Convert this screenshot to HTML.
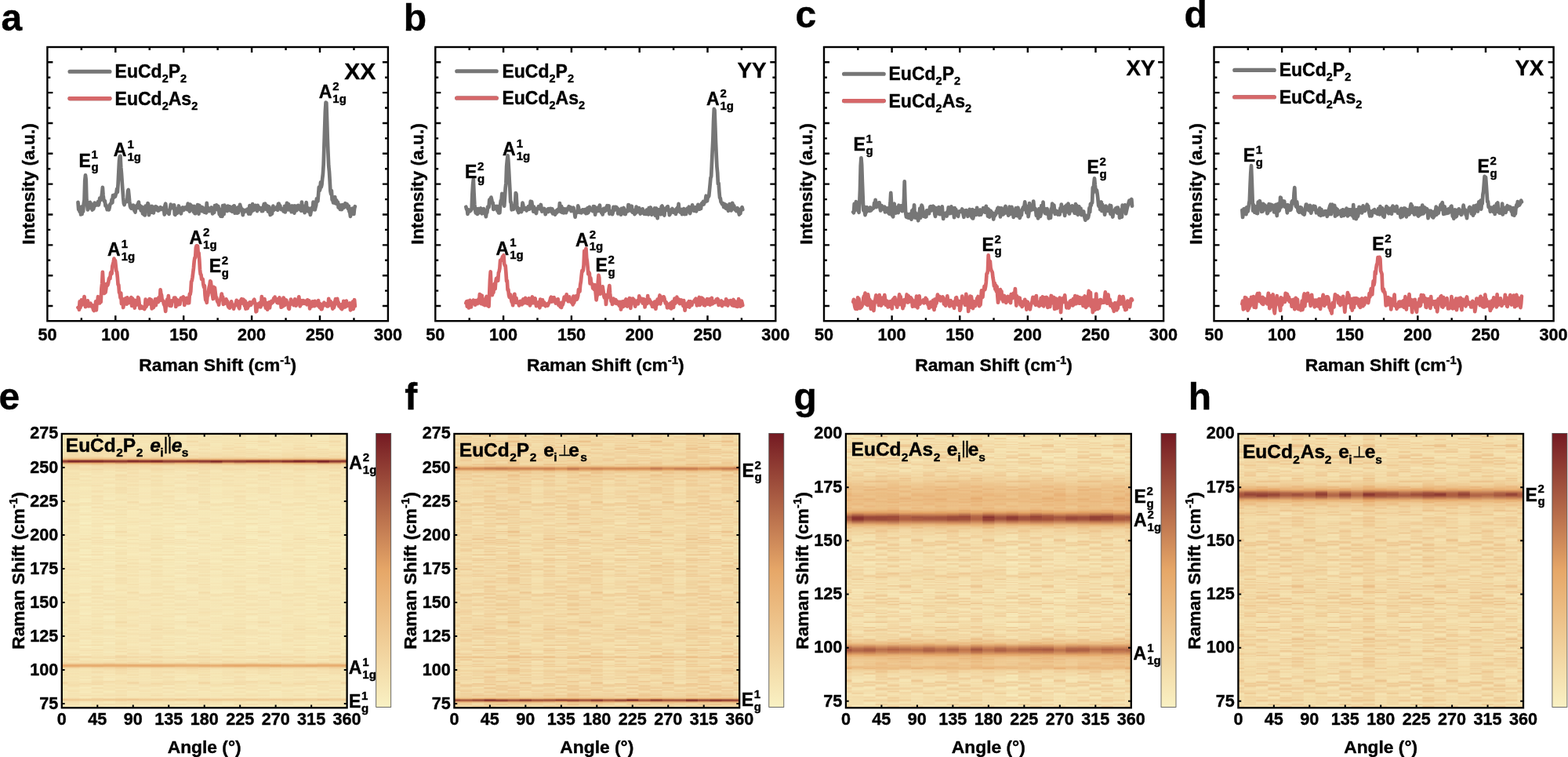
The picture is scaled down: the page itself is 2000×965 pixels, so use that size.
<!DOCTYPE html>
<html><head><meta charset="utf-8"><title>Raman spectra</title>
<style>
html,body{margin:0;padding:0;background:#fff;overflow:hidden;}
svg{display:block;}
text{font-family:'Liberation Sans', Arial, Helvetica, sans-serif;font-weight:bold;fill:#000;stroke:#000;stroke-width:0.4px;stroke-linejoin:round;}
</style></head><body>
<svg width="2000" height="965" viewBox="0 0 2000 965">
<defs>
<linearGradient id="cb" x1="0" y1="0" x2="0" y2="1"><stop offset="0" stop-color="#741a22"/><stop offset="0.5" stop-color="#e6a768"/><stop offset="1" stop-color="#f9f1c3"/></linearGradient>
<pattern id="nz" width="90.9" height="128" patternUnits="userSpaceOnUse"><path d="M30.3,0h15.15v1h-15.15zM30.3,2h15.15v1h-15.15zM75.75,2h15.15v1h-15.15zM0,3h15.15v1h-15.15zM15.15,3h15.15v1h-15.15zM30.3,3h15.15v1h-15.15zM45.45,3h15.15v1h-15.15zM75.75,3h15.15v1h-15.15zM45.45,4h15.15v1h-15.15zM45.45,5h15.15v1h-15.15zM60.6,6h15.15v1h-15.15zM0,7h15.15v1h-15.15zM45.45,7h15.15v1h-15.15zM60.6,7h15.15v1h-15.15zM60.6,8h15.15v1h-15.15zM75.75,8h15.15v1h-15.15zM45.45,9h15.15v1h-15.15zM30.3,10h15.15v1h-15.15zM15.15,11h15.15v1h-15.15zM45.45,11h15.15v1h-15.15zM60.6,11h15.15v1h-15.15zM0,12h15.15v1h-15.15zM45.45,12h15.15v1h-15.15zM60.6,12h15.15v1h-15.15zM30.3,14h15.15v1h-15.15zM15.15,15h15.15v1h-15.15zM30.3,15h15.15v1h-15.15zM60.6,15h15.15v1h-15.15zM15.15,16h15.15v1h-15.15zM45.45,16h15.15v1h-15.15zM60.6,16h15.15v1h-15.15zM30.3,17h15.15v1h-15.15zM45.45,17h15.15v1h-15.15zM0,18h15.15v1h-15.15zM30.3,18h15.15v1h-15.15zM15.15,19h15.15v1h-15.15zM60.6,19h15.15v1h-15.15zM75.75,22h15.15v1h-15.15zM15.15,23h15.15v1h-15.15zM75.75,23h15.15v1h-15.15zM15.15,24h15.15v1h-15.15zM30.3,24h15.15v1h-15.15zM60.6,25h15.15v1h-15.15zM0,26h15.15v1h-15.15zM15.15,27h15.15v1h-15.15zM30.3,27h15.15v1h-15.15zM75.75,27h15.15v1h-15.15zM60.6,28h15.15v1h-15.15zM75.75,28h15.15v1h-15.15zM30.3,29h15.15v1h-15.15zM0,30h15.15v1h-15.15zM30.3,31h15.15v1h-15.15zM0,32h15.15v1h-15.15zM0,33h15.15v1h-15.15zM15.15,33h15.15v1h-15.15zM30.3,33h15.15v1h-15.15zM45.45,34h15.15v1h-15.15zM30.3,36h15.15v1h-15.15zM75.75,36h15.15v1h-15.15zM0,37h15.15v1h-15.15zM45.45,37h15.15v1h-15.15zM30.3,38h15.15v1h-15.15zM0,40h15.15v1h-15.15zM15.15,40h15.15v1h-15.15zM45.45,40h15.15v1h-15.15zM30.3,41h15.15v1h-15.15zM45.45,41h15.15v1h-15.15zM75.75,41h15.15v1h-15.15zM15.15,42h15.15v1h-15.15zM30.3,42h15.15v1h-15.15zM15.15,43h15.15v1h-15.15zM75.75,43h15.15v1h-15.15zM0,44h15.15v1h-15.15zM60.6,44h15.15v1h-15.15zM75.75,44h15.15v1h-15.15zM0,45h15.15v1h-15.15zM75.75,45h15.15v1h-15.15zM0,47h15.15v1h-15.15zM45.45,47h15.15v1h-15.15zM0,48h15.15v1h-15.15zM0,49h15.15v1h-15.15zM15.15,49h15.15v1h-15.15zM0,53h15.15v1h-15.15zM75.75,53h15.15v1h-15.15zM15.15,55h15.15v1h-15.15zM45.45,55h15.15v1h-15.15zM60.6,56h15.15v1h-15.15zM75.75,56h15.15v1h-15.15zM15.15,57h15.15v1h-15.15zM45.45,57h15.15v1h-15.15zM0,58h15.15v1h-15.15zM30.3,58h15.15v1h-15.15zM45.45,58h15.15v1h-15.15zM15.15,60h15.15v1h-15.15zM60.6,60h15.15v1h-15.15zM0,62h15.15v1h-15.15zM15.15,62h15.15v1h-15.15zM45.45,62h15.15v1h-15.15zM30.3,63h15.15v1h-15.15zM45.45,63h15.15v1h-15.15zM30.3,64h15.15v1h-15.15zM45.45,64h15.15v1h-15.15zM15.15,65h15.15v1h-15.15zM45.45,66h15.15v1h-15.15zM75.75,66h15.15v1h-15.15zM30.3,67h15.15v1h-15.15zM45.45,67h15.15v1h-15.15zM75.75,67h15.15v1h-15.15zM0,69h15.15v1h-15.15zM30.3,69h15.15v1h-15.15zM0,70h15.15v1h-15.15zM15.15,70h15.15v1h-15.15zM45.45,70h15.15v1h-15.15zM15.15,71h15.15v1h-15.15zM45.45,72h15.15v1h-15.15zM0,73h15.15v1h-15.15zM0,76h15.15v1h-15.15zM15.15,76h15.15v1h-15.15zM30.3,76h15.15v1h-15.15zM30.3,77h15.15v1h-15.15zM45.45,77h15.15v1h-15.15zM75.75,78h15.15v1h-15.15zM15.15,79h15.15v1h-15.15zM45.45,79h15.15v1h-15.15zM30.3,80h15.15v1h-15.15zM15.15,81h15.15v1h-15.15zM0,82h15.15v1h-15.15zM30.3,82h15.15v1h-15.15zM45.45,83h15.15v1h-15.15zM45.45,84h15.15v1h-15.15zM60.6,85h15.15v1h-15.15zM75.75,85h15.15v1h-15.15zM0,86h15.15v1h-15.15zM15.15,86h15.15v1h-15.15zM30.3,86h15.15v1h-15.15zM75.75,86h15.15v1h-15.15zM15.15,87h15.15v1h-15.15zM30.3,88h15.15v1h-15.15zM75.75,88h15.15v1h-15.15zM15.15,89h15.15v1h-15.15zM30.3,89h15.15v1h-15.15zM0,90h15.15v1h-15.15zM15.15,90h15.15v1h-15.15zM60.6,91h15.15v1h-15.15zM0,92h15.15v1h-15.15zM15.15,92h15.15v1h-15.15zM0,93h15.15v1h-15.15zM30.3,93h15.15v1h-15.15zM0,94h15.15v1h-15.15zM15.15,94h15.15v1h-15.15zM30.3,94h15.15v1h-15.15zM45.45,94h15.15v1h-15.15zM45.45,96h15.15v1h-15.15zM60.6,96h15.15v1h-15.15zM45.45,97h15.15v1h-15.15zM15.15,98h15.15v1h-15.15zM30.3,99h15.15v1h-15.15zM15.15,100h15.15v1h-15.15zM75.75,101h15.15v1h-15.15zM0,102h15.15v1h-15.15zM15.15,102h15.15v1h-15.15zM45.45,102h15.15v1h-15.15zM60.6,102h15.15v1h-15.15zM75.75,102h15.15v1h-15.15zM15.15,103h15.15v1h-15.15zM30.3,104h15.15v1h-15.15zM0,105h15.15v1h-15.15zM15.15,105h15.15v1h-15.15zM30.3,107h15.15v1h-15.15zM45.45,107h15.15v1h-15.15zM60.6,107h15.15v1h-15.15zM60.6,108h15.15v1h-15.15zM0,110h15.15v1h-15.15zM15.15,110h15.15v1h-15.15zM75.75,110h15.15v1h-15.15zM0,111h15.15v1h-15.15zM60.6,111h15.15v1h-15.15zM0,112h15.15v1h-15.15zM15.15,113h15.15v1h-15.15zM45.45,113h15.15v1h-15.15zM60.6,113h15.15v1h-15.15zM75.75,113h15.15v1h-15.15zM15.15,115h15.15v1h-15.15zM45.45,116h15.15v1h-15.15zM15.15,117h15.15v1h-15.15zM75.75,117h15.15v1h-15.15zM0,118h15.15v1h-15.15zM30.3,118h15.15v1h-15.15zM30.3,119h15.15v1h-15.15zM45.45,119h15.15v1h-15.15zM15.15,120h15.15v1h-15.15zM45.45,121h15.15v1h-15.15zM0,122h15.15v1h-15.15zM30.3,123h15.15v1h-15.15zM60.6,123h15.15v1h-15.15zM75.75,123h15.15v1h-15.15zM60.6,124h15.15v1h-15.15zM15.15,125h15.15v1h-15.15zM75.75,125h15.15v1h-15.15zM45.45,126h15.15v1h-15.15zM0,127h15.15v1h-15.15z" fill="#e0965a" fill-opacity="0.09"/><path d="M0,0h15.15v1h-15.15zM15.15,0h15.15v1h-15.15zM45.45,0h15.15v1h-15.15zM60.6,0h15.15v1h-15.15zM0,1h15.15v1h-15.15zM60.6,1h15.15v1h-15.15zM75.75,4h15.15v1h-15.15zM30.3,5h15.15v1h-15.15zM0,6h15.15v1h-15.15zM15.15,6h15.15v1h-15.15zM15.15,7h15.15v1h-15.15zM75.75,7h15.15v1h-15.15zM0,8h15.15v1h-15.15zM0,9h15.15v1h-15.15zM15.15,10h15.15v1h-15.15zM45.45,10h15.15v1h-15.15zM0,11h15.15v1h-15.15zM30.3,11h15.15v1h-15.15zM30.3,12h15.15v1h-15.15zM75.75,12h15.15v1h-15.15zM0,13h15.15v1h-15.15zM30.3,13h15.15v1h-15.15zM75.75,13h15.15v1h-15.15zM0,15h15.15v1h-15.15zM45.45,15h15.15v1h-15.15zM75.75,17h15.15v1h-15.15zM15.15,18h15.15v1h-15.15zM75.75,19h15.15v1h-15.15zM15.15,20h15.15v1h-15.15zM45.45,20h15.15v1h-15.15zM0,22h15.15v1h-15.15zM45.45,23h15.15v1h-15.15zM45.45,24h15.15v1h-15.15zM75.75,24h15.15v1h-15.15zM0,25h15.15v1h-15.15zM15.15,25h15.15v1h-15.15zM75.75,25h15.15v1h-15.15zM15.15,26h15.15v1h-15.15zM30.3,26h15.15v1h-15.15zM60.6,26h15.15v1h-15.15zM45.45,27h15.15v1h-15.15zM0,28h15.15v1h-15.15zM45.45,28h15.15v1h-15.15zM15.15,29h15.15v1h-15.15zM45.45,29h15.15v1h-15.15zM60.6,29h15.15v1h-15.15zM15.15,30h15.15v1h-15.15zM60.6,30h15.15v1h-15.15zM75.75,30h15.15v1h-15.15zM15.15,31h15.15v1h-15.15zM45.45,32h15.15v1h-15.15zM45.45,33h15.15v1h-15.15zM60.6,33h15.15v1h-15.15zM0,34h15.15v1h-15.15zM15.15,34h15.15v1h-15.15zM75.75,35h15.15v1h-15.15zM0,36h15.15v1h-15.15zM15.15,36h15.15v1h-15.15zM60.6,36h15.15v1h-15.15zM60.6,37h15.15v1h-15.15zM75.75,37h15.15v1h-15.15zM0,39h15.15v1h-15.15zM30.3,39h15.15v1h-15.15zM45.45,39h15.15v1h-15.15zM45.45,42h15.15v1h-15.15zM60.6,42h15.15v1h-15.15zM60.6,43h15.15v1h-15.15zM15.15,45h15.15v1h-15.15zM60.6,45h15.15v1h-15.15zM0,46h15.15v1h-15.15zM60.6,46h15.15v1h-15.15zM15.15,47h15.15v1h-15.15zM60.6,47h15.15v1h-15.15zM15.15,48h15.15v1h-15.15zM60.6,48h15.15v1h-15.15zM45.45,49h15.15v1h-15.15zM75.75,49h15.15v1h-15.15zM15.15,50h15.15v1h-15.15zM45.45,51h15.15v1h-15.15zM75.75,51h15.15v1h-15.15zM0,52h15.15v1h-15.15zM30.3,53h15.15v1h-15.15zM45.45,53h15.15v1h-15.15zM15.15,54h15.15v1h-15.15zM30.3,54h15.15v1h-15.15zM45.45,54h15.15v1h-15.15zM60.6,54h15.15v1h-15.15zM30.3,55h15.15v1h-15.15zM60.6,55h15.15v1h-15.15zM45.45,56h15.15v1h-15.15zM60.6,57h15.15v1h-15.15zM75.75,57h15.15v1h-15.15zM0,59h15.15v1h-15.15zM30.3,60h15.15v1h-15.15zM0,61h15.15v1h-15.15zM15.15,61h15.15v1h-15.15zM60.6,61h15.15v1h-15.15zM0,63h15.15v1h-15.15zM75.75,63h15.15v1h-15.15zM0,64h15.15v1h-15.15zM45.45,65h15.15v1h-15.15zM15.15,68h15.15v1h-15.15zM30.3,68h15.15v1h-15.15zM45.45,69h15.15v1h-15.15zM75.75,69h15.15v1h-15.15zM30.3,70h15.15v1h-15.15zM0,71h15.15v1h-15.15zM45.45,71h15.15v1h-15.15zM75.75,72h15.15v1h-15.15zM75.75,73h15.15v1h-15.15zM0,74h15.15v1h-15.15zM15.15,74h15.15v1h-15.15zM30.3,74h15.15v1h-15.15zM45.45,74h15.15v1h-15.15zM60.6,74h15.15v1h-15.15zM45.45,76h15.15v1h-15.15zM60.6,77h15.15v1h-15.15zM60.6,78h15.15v1h-15.15zM0,79h15.15v1h-15.15zM30.3,79h15.15v1h-15.15zM60.6,79h15.15v1h-15.15zM0,80h15.15v1h-15.15zM60.6,80h15.15v1h-15.15zM75.75,80h15.15v1h-15.15zM0,81h15.15v1h-15.15zM75.75,81h15.15v1h-15.15zM0,83h15.15v1h-15.15zM15.15,83h15.15v1h-15.15zM60.6,83h15.15v1h-15.15zM15.15,84h15.15v1h-15.15zM75.75,84h15.15v1h-15.15zM45.45,86h15.15v1h-15.15zM30.3,87h15.15v1h-15.15zM45.45,87h15.15v1h-15.15zM15.15,88h15.15v1h-15.15zM60.6,88h15.15v1h-15.15zM0,89h15.15v1h-15.15zM60.6,89h15.15v1h-15.15zM45.45,90h15.15v1h-15.15zM75.75,90h15.15v1h-15.15zM0,91h15.15v1h-15.15zM15.15,91h15.15v1h-15.15zM45.45,91h15.15v1h-15.15zM45.45,92h15.15v1h-15.15zM75.75,93h15.15v1h-15.15zM0,95h15.15v1h-15.15zM60.6,97h15.15v1h-15.15zM0,98h15.15v1h-15.15zM75.75,98h15.15v1h-15.15zM0,99h15.15v1h-15.15zM60.6,99h15.15v1h-15.15zM0,100h15.15v1h-15.15zM75.75,100h15.15v1h-15.15zM60.6,103h15.15v1h-15.15zM0,104h15.15v1h-15.15zM30.3,105h15.15v1h-15.15zM45.45,105h15.15v1h-15.15zM15.15,106h15.15v1h-15.15zM30.3,106h15.15v1h-15.15zM0,107h15.15v1h-15.15zM15.15,107h15.15v1h-15.15zM30.3,108h15.15v1h-15.15zM45.45,108h15.15v1h-15.15zM75.75,108h15.15v1h-15.15zM45.45,109h15.15v1h-15.15zM75.75,109h15.15v1h-15.15zM60.6,110h15.15v1h-15.15zM15.15,111h15.15v1h-15.15zM30.3,111h15.15v1h-15.15zM75.75,111h15.15v1h-15.15zM15.15,112h15.15v1h-15.15zM75.75,112h15.15v1h-15.15zM0,114h15.15v1h-15.15zM15.15,114h15.15v1h-15.15zM45.45,115h15.15v1h-15.15zM75.75,115h15.15v1h-15.15zM0,116h15.15v1h-15.15zM15.15,116h15.15v1h-15.15zM60.6,116h15.15v1h-15.15zM15.15,118h15.15v1h-15.15zM60.6,118h15.15v1h-15.15zM0,119h15.15v1h-15.15zM60.6,119h15.15v1h-15.15zM75.75,119h15.15v1h-15.15zM30.3,120h15.15v1h-15.15zM75.75,121h15.15v1h-15.15zM45.45,122h15.15v1h-15.15zM75.75,122h15.15v1h-15.15zM0,123h15.15v1h-15.15zM45.45,123h15.15v1h-15.15zM30.3,124h15.15v1h-15.15zM75.75,124h15.15v1h-15.15zM45.45,125h15.15v1h-15.15zM0,126h15.15v1h-15.15zM15.15,126h15.15v1h-15.15zM15.15,127h15.15v1h-15.15zM75.75,127h15.15v1h-15.15z" fill="#e0965a" fill-opacity="0.17"/><path d="M75.75,1h15.15v1h-15.15zM75.75,5h15.15v1h-15.15zM30.3,7h15.15v1h-15.15zM45.45,8h15.15v1h-15.15zM15.15,9h15.15v1h-15.15zM30.3,9h15.15v1h-15.15zM75.75,9h15.15v1h-15.15zM15.15,12h15.15v1h-15.15zM60.6,13h15.15v1h-15.15zM0,14h15.15v1h-15.15zM75.75,15h15.15v1h-15.15zM75.75,16h15.15v1h-15.15zM45.45,18h15.15v1h-15.15zM30.3,19h15.15v1h-15.15zM30.3,20h15.15v1h-15.15zM0,21h15.15v1h-15.15zM60.6,21h15.15v1h-15.15zM15.15,22h15.15v1h-15.15zM30.3,22h15.15v1h-15.15zM45.45,26h15.15v1h-15.15zM0,27h15.15v1h-15.15zM30.3,28h15.15v1h-15.15zM30.3,30h15.15v1h-15.15zM75.75,31h15.15v1h-15.15zM30.3,32h15.15v1h-15.15zM60.6,34h15.15v1h-15.15zM15.15,35h15.15v1h-15.15zM45.45,35h15.15v1h-15.15zM15.15,37h15.15v1h-15.15zM15.15,38h15.15v1h-15.15zM60.6,38h15.15v1h-15.15zM75.75,38h15.15v1h-15.15zM75.75,42h15.15v1h-15.15zM75.75,47h15.15v1h-15.15zM75.75,48h15.15v1h-15.15zM60.6,49h15.15v1h-15.15zM30.3,50h15.15v1h-15.15zM60.6,51h15.15v1h-15.15zM0,54h15.15v1h-15.15zM0,55h15.15v1h-15.15zM0,56h15.15v1h-15.15zM15.15,56h15.15v1h-15.15zM15.15,59h15.15v1h-15.15zM60.6,59h15.15v1h-15.15zM30.3,61h15.15v1h-15.15zM45.45,61h15.15v1h-15.15zM15.15,63h15.15v1h-15.15zM15.15,64h15.15v1h-15.15zM75.75,64h15.15v1h-15.15zM0,65h15.15v1h-15.15zM30.3,65h15.15v1h-15.15zM60.6,65h15.15v1h-15.15zM75.75,65h15.15v1h-15.15zM30.3,66h15.15v1h-15.15zM60.6,67h15.15v1h-15.15zM60.6,70h15.15v1h-15.15zM15.15,72h15.15v1h-15.15zM75.75,75h15.15v1h-15.15zM75.75,76h15.15v1h-15.15zM0,77h15.15v1h-15.15zM75.75,77h15.15v1h-15.15zM45.45,80h15.15v1h-15.15zM30.3,81h15.15v1h-15.15zM45.45,81h15.15v1h-15.15zM45.45,82h15.15v1h-15.15zM60.6,82h15.15v1h-15.15zM75.75,82h15.15v1h-15.15zM30.3,83h15.15v1h-15.15zM75.75,83h15.15v1h-15.15zM30.3,85h15.15v1h-15.15zM60.6,86h15.15v1h-15.15zM0,88h15.15v1h-15.15zM45.45,89h15.15v1h-15.15zM75.75,92h15.15v1h-15.15zM45.45,93h15.15v1h-15.15zM75.75,94h15.15v1h-15.15zM45.45,95h15.15v1h-15.15zM60.6,95h15.15v1h-15.15zM30.3,97h15.15v1h-15.15zM45.45,99h15.15v1h-15.15zM60.6,100h15.15v1h-15.15zM30.3,101h15.15v1h-15.15zM0,103h15.15v1h-15.15zM45.45,103h15.15v1h-15.15zM75.75,103h15.15v1h-15.15zM75.75,104h15.15v1h-15.15zM0,106h15.15v1h-15.15zM75.75,107h15.15v1h-15.15zM30.3,112h15.15v1h-15.15zM45.45,114h15.15v1h-15.15zM30.3,115h15.15v1h-15.15zM60.6,115h15.15v1h-15.15zM75.75,118h15.15v1h-15.15zM0,120h15.15v1h-15.15zM30.3,121h15.15v1h-15.15zM60.6,121h15.15v1h-15.15zM15.15,123h15.15v1h-15.15zM0,124h15.15v1h-15.15zM15.15,124h15.15v1h-15.15zM0,125h15.15v1h-15.15zM60.6,126h15.15v1h-15.15zM75.75,126h15.15v1h-15.15zM45.45,127h15.15v1h-15.15z" fill="#de9050" fill-opacity="0.26"/><path d="M30.3,1h15.15v1h-15.15zM45.45,2h15.15v1h-15.15zM15.15,4h15.15v1h-15.15zM60.6,10h15.15v1h-15.15zM75.75,10h15.15v1h-15.15zM75.75,11h15.15v1h-15.15zM45.45,13h15.15v1h-15.15zM0,16h15.15v1h-15.15zM30.3,16h15.15v1h-15.15zM45.45,19h15.15v1h-15.15zM30.3,21h15.15v1h-15.15zM45.45,22h15.15v1h-15.15zM60.6,22h15.15v1h-15.15zM60.6,24h15.15v1h-15.15zM30.3,25h15.15v1h-15.15zM45.45,25h15.15v1h-15.15zM75.75,26h15.15v1h-15.15zM60.6,27h15.15v1h-15.15zM15.15,28h15.15v1h-15.15zM30.3,34h15.15v1h-15.15zM45.45,38h15.15v1h-15.15zM75.75,40h15.15v1h-15.15zM30.3,43h15.15v1h-15.15zM45.45,43h15.15v1h-15.15zM30.3,48h15.15v1h-15.15zM0,50h15.15v1h-15.15zM45.45,50h15.15v1h-15.15zM30.3,51h15.15v1h-15.15zM75.75,52h15.15v1h-15.15zM75.75,58h15.15v1h-15.15zM30.3,59h15.15v1h-15.15zM75.75,59h15.15v1h-15.15zM0,60h15.15v1h-15.15zM75.75,61h15.15v1h-15.15zM60.6,62h15.15v1h-15.15zM0,67h15.15v1h-15.15zM60.6,69h15.15v1h-15.15zM75.75,70h15.15v1h-15.15zM30.3,71h15.15v1h-15.15zM0,72h15.15v1h-15.15zM30.3,73h15.15v1h-15.15zM45.45,73h15.15v1h-15.15zM60.6,76h15.15v1h-15.15zM75.75,79h15.15v1h-15.15zM0,85h15.15v1h-15.15zM45.45,88h15.15v1h-15.15zM30.3,90h15.15v1h-15.15zM60.6,94h15.15v1h-15.15zM0,96h15.15v1h-15.15zM0,97h15.15v1h-15.15zM30.3,98h15.15v1h-15.15zM45.45,98h15.15v1h-15.15zM15.15,99h15.15v1h-15.15zM30.3,100h15.15v1h-15.15zM15.15,101h15.15v1h-15.15zM60.6,101h15.15v1h-15.15zM45.45,104h15.15v1h-15.15zM60.6,104h15.15v1h-15.15zM60.6,106h15.15v1h-15.15zM15.15,108h15.15v1h-15.15zM45.45,110h15.15v1h-15.15zM60.6,112h15.15v1h-15.15zM30.3,114h15.15v1h-15.15zM60.6,114h15.15v1h-15.15zM75.75,114h15.15v1h-15.15zM45.45,118h15.15v1h-15.15zM60.6,120h15.15v1h-15.15zM15.15,121h15.15v1h-15.15zM60.6,127h15.15v1h-15.15z" fill="#dc8a4a" fill-opacity="0.36"/></pattern>
<linearGradient id="h1" gradientUnits="userSpaceOnUse" x1="0" y1="553" x2="0" y2="902.3"><stop offset="0%" stop-color="#f7eabb"/><stop offset="6.01%" stop-color="#f7e8b8"/><stop offset="7.44%" stop-color="#f6e4b3"/><stop offset="8.45%" stop-color="#f4ddab"/><stop offset="8.87%" stop-color="#f2d49f"/><stop offset="9.16%" stop-color="#edc38b"/><stop offset="9.3%" stop-color="#eab57a"/><stop offset="9.73%" stop-color="#a85b42"/><stop offset="9.88%" stop-color="#934035"/><stop offset="10.02%" stop-color="#88332e"/><stop offset="10.16%" stop-color="#8b3730"/><stop offset="10.31%" stop-color="#9b4a3a"/><stop offset="10.88%" stop-color="#ebbc82"/><stop offset="11.02%" stop-color="#efc891"/><stop offset="11.31%" stop-color="#f2d7a3"/><stop offset="11.59%" stop-color="#f4ddab"/><stop offset="12.17%" stop-color="#f5e2b1"/><stop offset="14.17%" stop-color="#f7e8b8"/><stop offset="31.06%" stop-color="#f8ecbd"/><stop offset="78.44%" stop-color="#f7eaba"/><stop offset="80.73%" stop-color="#f7e9b9"/><stop offset="81.45%" stop-color="#f5e0ae"/><stop offset="82.02%" stop-color="#f6e7b6"/><stop offset="82.45%" stop-color="#f7e8b8"/><stop offset="83.17%" stop-color="#f6e6b5"/><stop offset="83.6%" stop-color="#f5e0ae"/><stop offset="83.88%" stop-color="#f1d49f"/><stop offset="84.45%" stop-color="#e8ad70"/><stop offset="84.6%" stop-color="#e7aa6c"/><stop offset="84.74%" stop-color="#e7ac6e"/><stop offset="84.88%" stop-color="#e9b276"/><stop offset="85.31%" stop-color="#f1d19b"/><stop offset="85.6%" stop-color="#f4deac"/><stop offset="85.89%" stop-color="#f6e4b3"/><stop offset="86.17%" stop-color="#f6e6b6"/><stop offset="89.75%" stop-color="#f7eaba"/><stop offset="90.9%" stop-color="#f5e2b0"/><stop offset="91.9%" stop-color="#f7eaba"/><stop offset="96.05%" stop-color="#f7eaba"/><stop offset="96.34%" stop-color="#f6e7b7"/><stop offset="96.48%" stop-color="#f5e3b1"/><stop offset="96.91%" stop-color="#f0cd97"/><stop offset="97.05%" stop-color="#efcb94"/><stop offset="97.19%" stop-color="#f0cd97"/><stop offset="97.62%" stop-color="#f5e2b1"/><stop offset="97.91%" stop-color="#f7e9b9"/><stop offset="99.91%" stop-color="#f7ebbb"/></linearGradient>
<linearGradient id="h2" gradientUnits="userSpaceOnUse" x1="0" y1="553" x2="0" y2="902.3"><stop offset="0%" stop-color="#f7e9b9"/><stop offset="6.16%" stop-color="#f6e6b6"/><stop offset="7.59%" stop-color="#f5e2b0"/><stop offset="8.45%" stop-color="#f3dba9"/><stop offset="8.87%" stop-color="#f1d19b"/><stop offset="9.02%" stop-color="#efc992"/><stop offset="9.16%" stop-color="#ecbe84"/><stop offset="9.3%" stop-color="#e8ae71"/><stop offset="9.73%" stop-color="#954336"/><stop offset="9.88%" stop-color="#7f2829"/><stop offset="10.02%" stop-color="#751b23"/><stop offset="10.16%" stop-color="#7a2126"/><stop offset="10.31%" stop-color="#8d3831"/><stop offset="10.74%" stop-color="#e6a869"/><stop offset="10.88%" stop-color="#ebb97e"/><stop offset="11.02%" stop-color="#eec58d"/><stop offset="11.31%" stop-color="#f2d4a0"/><stop offset="11.59%" stop-color="#f3dba8"/><stop offset="12.17%" stop-color="#f5e0ae"/><stop offset="14.17%" stop-color="#f6e7b6"/><stop offset="31.49%" stop-color="#f7ebbc"/><stop offset="80.45%" stop-color="#f7e8b8"/><stop offset="80.88%" stop-color="#f6e7b6"/><stop offset="81.45%" stop-color="#f4deac"/><stop offset="82.31%" stop-color="#f6e6b6"/><stop offset="83.02%" stop-color="#f6e5b4"/><stop offset="83.45%" stop-color="#f5e1af"/><stop offset="83.74%" stop-color="#f3d9a5"/><stop offset="83.88%" stop-color="#f1d29d"/><stop offset="84.31%" stop-color="#e9b478"/><stop offset="84.45%" stop-color="#e8ad6f"/><stop offset="84.6%" stop-color="#e7aa6c"/><stop offset="84.74%" stop-color="#e7ac6f"/><stop offset="84.88%" stop-color="#e9b377"/><stop offset="85.46%" stop-color="#f3d8a4"/><stop offset="85.74%" stop-color="#f5e1af"/><stop offset="86.17%" stop-color="#f6e5b4"/><stop offset="89.75%" stop-color="#f7e8b8"/><stop offset="90.9%" stop-color="#f5e0ae"/><stop offset="91.9%" stop-color="#f7e9b9"/><stop offset="96.05%" stop-color="#f7e9b9"/><stop offset="96.48%" stop-color="#f5e2b1"/><stop offset="96.91%" stop-color="#f0cf99"/><stop offset="97.05%" stop-color="#efcc95"/><stop offset="97.19%" stop-color="#f0ce98"/><stop offset="97.62%" stop-color="#f5e1b0"/><stop offset="97.91%" stop-color="#f7e8b8"/><stop offset="99.91%" stop-color="#f7e9ba"/></linearGradient>
<linearGradient id="h3" gradientUnits="userSpaceOnUse" x1="0" y1="553" x2="0" y2="902.3"><stop offset="0%" stop-color="#f8edbd"/><stop offset="6.16%" stop-color="#f7eaba"/><stop offset="7.59%" stop-color="#f6e6b6"/><stop offset="8.45%" stop-color="#f5e0af"/><stop offset="8.87%" stop-color="#f2d6a2"/><stop offset="9.02%" stop-color="#f0ce98"/><stop offset="9.16%" stop-color="#edc38b"/><stop offset="9.3%" stop-color="#e9b477"/><stop offset="9.73%" stop-color="#9c4b3a"/><stop offset="9.88%" stop-color="#842e2c"/><stop offset="10.02%" stop-color="#7a2126"/><stop offset="10.16%" stop-color="#7e2728"/><stop offset="10.31%" stop-color="#913e34"/><stop offset="10.74%" stop-color="#e7ac6e"/><stop offset="10.88%" stop-color="#ecbd83"/><stop offset="11.02%" stop-color="#efca93"/><stop offset="11.31%" stop-color="#f3d9a6"/><stop offset="11.59%" stop-color="#f5e0ae"/><stop offset="12.17%" stop-color="#f6e5b4"/><stop offset="14.03%" stop-color="#f7ebbb"/><stop offset="30.92%" stop-color="#f8efc0"/><stop offset="78.59%" stop-color="#f8ecbd"/><stop offset="80.73%" stop-color="#f8ebbc"/><stop offset="81.45%" stop-color="#f5e2b1"/><stop offset="82.02%" stop-color="#f7e9b9"/><stop offset="82.45%" stop-color="#f7eaba"/><stop offset="83.17%" stop-color="#f7e8b8"/><stop offset="83.6%" stop-color="#f5e1af"/><stop offset="83.88%" stop-color="#f1d49f"/><stop offset="84.31%" stop-color="#eab67a"/><stop offset="84.45%" stop-color="#e8af72"/><stop offset="84.6%" stop-color="#e8ad70"/><stop offset="84.74%" stop-color="#e9b174"/><stop offset="84.88%" stop-color="#eab87d"/><stop offset="85.17%" stop-color="#f0cd97"/><stop offset="85.46%" stop-color="#f4ddab"/><stop offset="85.74%" stop-color="#f6e5b4"/><stop offset="86.17%" stop-color="#f7e9b9"/><stop offset="89.75%" stop-color="#f8ecbd"/><stop offset="90.9%" stop-color="#f6e4b3"/><stop offset="91.9%" stop-color="#f8ecbd"/><stop offset="96.05%" stop-color="#f8ecbd"/><stop offset="96.48%" stop-color="#f6e7b6"/><stop offset="96.91%" stop-color="#f1d39e"/><stop offset="97.05%" stop-color="#f0cf99"/><stop offset="97.19%" stop-color="#f1d09b"/><stop offset="97.62%" stop-color="#f6e4b3"/><stop offset="97.91%" stop-color="#f7ebbc"/><stop offset="99.91%" stop-color="#f8edbe"/></linearGradient>
<linearGradient id="h4" gradientUnits="userSpaceOnUse" x1="0" y1="553" x2="0" y2="902.3"><stop offset="0%" stop-color="#f7eaba"/><stop offset="6.16%" stop-color="#f6e7b7"/><stop offset="7.59%" stop-color="#f5e3b2"/><stop offset="8.45%" stop-color="#f4dcaa"/><stop offset="8.87%" stop-color="#f1d29c"/><stop offset="9.02%" stop-color="#efca93"/><stop offset="9.16%" stop-color="#ecbf85"/><stop offset="9.3%" stop-color="#e8af72"/><stop offset="9.73%" stop-color="#984638"/><stop offset="9.88%" stop-color="#812b2a"/><stop offset="10.02%" stop-color="#781f24"/><stop offset="10.16%" stop-color="#7d2527"/><stop offset="10.31%" stop-color="#8f3c33"/><stop offset="10.74%" stop-color="#e7a96a"/><stop offset="10.88%" stop-color="#ebba7f"/><stop offset="11.02%" stop-color="#eec68e"/><stop offset="11.31%" stop-color="#f2d5a1"/><stop offset="11.59%" stop-color="#f3dca9"/><stop offset="12.17%" stop-color="#f5e1af"/><stop offset="14.17%" stop-color="#f7e8b8"/><stop offset="30.78%" stop-color="#f8ecbd"/><stop offset="78.44%" stop-color="#f7eaba"/><stop offset="80.73%" stop-color="#f7e9b9"/><stop offset="81.45%" stop-color="#f5e0ae"/><stop offset="82.02%" stop-color="#f6e7b6"/><stop offset="82.45%" stop-color="#f7e8b7"/><stop offset="83.17%" stop-color="#f6e5b5"/><stop offset="83.6%" stop-color="#f4dfad"/><stop offset="83.88%" stop-color="#f1d29d"/><stop offset="84.31%" stop-color="#eab579"/><stop offset="84.45%" stop-color="#e8ae71"/><stop offset="84.6%" stop-color="#e7ac6e"/><stop offset="84.74%" stop-color="#e8af71"/><stop offset="84.88%" stop-color="#eab67a"/><stop offset="85.31%" stop-color="#f1d39f"/><stop offset="85.46%" stop-color="#f3dba7"/><stop offset="85.74%" stop-color="#f5e3b1"/><stop offset="86.17%" stop-color="#f6e6b6"/><stop offset="89.75%" stop-color="#f7eaba"/><stop offset="90.9%" stop-color="#f5e0af"/><stop offset="91.9%" stop-color="#f7eaba"/><stop offset="96.05%" stop-color="#f7eaba"/><stop offset="96.48%" stop-color="#f5e3b2"/><stop offset="96.91%" stop-color="#f1d09b"/><stop offset="97.05%" stop-color="#f0ce98"/><stop offset="97.19%" stop-color="#f1d09b"/><stop offset="97.62%" stop-color="#f5e3b2"/><stop offset="97.91%" stop-color="#f7e9b9"/><stop offset="99.91%" stop-color="#f7ebbb"/></linearGradient>
<linearGradient id="h5" gradientUnits="userSpaceOnUse" x1="0" y1="553" x2="0" y2="902.3"><stop offset="0%" stop-color="#f8ecbd"/><stop offset="6.16%" stop-color="#f7e9b9"/><stop offset="7.59%" stop-color="#f6e5b4"/><stop offset="8.45%" stop-color="#f4dfac"/><stop offset="8.73%" stop-color="#f3d9a5"/><stop offset="9.02%" stop-color="#f0cc96"/><stop offset="9.16%" stop-color="#edc188"/><stop offset="9.3%" stop-color="#e9b276"/><stop offset="9.73%" stop-color="#a0513d"/><stop offset="9.88%" stop-color="#8c3730"/><stop offset="10.02%" stop-color="#832d2b"/><stop offset="10.16%" stop-color="#89342f"/><stop offset="10.31%" stop-color="#9b4a3a"/><stop offset="10.74%" stop-color="#e8af71"/><stop offset="10.88%" stop-color="#ecbe85"/><stop offset="11.02%" stop-color="#efca94"/><stop offset="11.31%" stop-color="#f3d8a5"/><stop offset="11.59%" stop-color="#f4deac"/><stop offset="12.17%" stop-color="#f6e4b2"/><stop offset="14.17%" stop-color="#f7eaba"/><stop offset="31.63%" stop-color="#f8eebf"/><stop offset="80.45%" stop-color="#f7ebbc"/><stop offset="80.88%" stop-color="#f7eaba"/><stop offset="81.45%" stop-color="#f5e2b1"/><stop offset="82.16%" stop-color="#f7e9b9"/><stop offset="83.31%" stop-color="#f6e5b5"/><stop offset="83.6%" stop-color="#f4dfad"/><stop offset="83.74%" stop-color="#f3daa6"/><stop offset="84.31%" stop-color="#e9b377"/><stop offset="84.45%" stop-color="#e8ad6f"/><stop offset="84.6%" stop-color="#e7ab6d"/><stop offset="84.74%" stop-color="#e8af72"/><stop offset="84.88%" stop-color="#eab77b"/><stop offset="85.17%" stop-color="#efcc95"/><stop offset="85.46%" stop-color="#f4dca9"/><stop offset="85.74%" stop-color="#f6e4b3"/><stop offset="86.17%" stop-color="#f7e8b8"/><stop offset="89.75%" stop-color="#f8ebbc"/><stop offset="90.9%" stop-color="#f6e4b3"/><stop offset="91.9%" stop-color="#f8ecbc"/><stop offset="96.05%" stop-color="#f8ecbd"/><stop offset="96.48%" stop-color="#f6e6b5"/><stop offset="96.91%" stop-color="#f1d39e"/><stop offset="97.05%" stop-color="#f0d09a"/><stop offset="97.19%" stop-color="#f1d29c"/><stop offset="97.62%" stop-color="#f6e4b4"/><stop offset="97.91%" stop-color="#f7ebbb"/><stop offset="99.91%" stop-color="#f8ecbd"/></linearGradient>
<linearGradient id="h6" gradientUnits="userSpaceOnUse" x1="0" y1="553" x2="0" y2="902.3"><stop offset="0%" stop-color="#f7e8b9"/><stop offset="6.01%" stop-color="#f6e6b6"/><stop offset="7.44%" stop-color="#f5e2b1"/><stop offset="8.45%" stop-color="#f4dca9"/><stop offset="8.87%" stop-color="#f1d29d"/><stop offset="9.16%" stop-color="#edc188"/><stop offset="9.3%" stop-color="#e9b377"/><stop offset="9.73%" stop-color="#a55740"/><stop offset="9.88%" stop-color="#903c33"/><stop offset="10.02%" stop-color="#852f2d"/><stop offset="10.16%" stop-color="#89342f"/><stop offset="10.31%" stop-color="#994839"/><stop offset="10.88%" stop-color="#ebbb80"/><stop offset="11.02%" stop-color="#eec78f"/><stop offset="11.31%" stop-color="#f2d5a1"/><stop offset="11.59%" stop-color="#f3dba9"/><stop offset="12.17%" stop-color="#f5e1af"/><stop offset="14.17%" stop-color="#f6e7b6"/><stop offset="31.78%" stop-color="#f7ebbb"/><stop offset="80.59%" stop-color="#f7e8b7"/><stop offset="81.02%" stop-color="#f6e5b5"/><stop offset="81.45%" stop-color="#f4deac"/><stop offset="82.31%" stop-color="#f6e6b5"/><stop offset="83.02%" stop-color="#f6e5b4"/><stop offset="83.45%" stop-color="#f5e1af"/><stop offset="83.74%" stop-color="#f3d9a5"/><stop offset="83.88%" stop-color="#f1d29c"/><stop offset="84.31%" stop-color="#eab579"/><stop offset="84.45%" stop-color="#e8ae71"/><stop offset="84.6%" stop-color="#e7ac6e"/><stop offset="84.74%" stop-color="#e8ae71"/><stop offset="84.88%" stop-color="#eab579"/><stop offset="85.31%" stop-color="#f1d19c"/><stop offset="85.46%" stop-color="#f3d9a5"/><stop offset="85.74%" stop-color="#f5e1af"/><stop offset="86.17%" stop-color="#f6e5b4"/><stop offset="89.75%" stop-color="#f7e8b8"/><stop offset="90.9%" stop-color="#f5e0ad"/><stop offset="91.9%" stop-color="#f7e8b8"/><stop offset="96.05%" stop-color="#f7e8b8"/><stop offset="96.48%" stop-color="#f5e2b0"/><stop offset="96.91%" stop-color="#f0cd96"/><stop offset="97.05%" stop-color="#efc992"/><stop offset="97.19%" stop-color="#efcb94"/><stop offset="97.62%" stop-color="#f5e0ae"/><stop offset="97.91%" stop-color="#f6e7b7"/><stop offset="99.91%" stop-color="#f7e9b9"/></linearGradient>
<linearGradient id="h7" gradientUnits="userSpaceOnUse" x1="0" y1="553" x2="0" y2="902.3"><stop offset="0%" stop-color="#f7e9ba"/><stop offset="6.16%" stop-color="#f6e7b6"/><stop offset="7.59%" stop-color="#f5e3b1"/><stop offset="8.45%" stop-color="#f4ddaa"/><stop offset="8.73%" stop-color="#f2d7a3"/><stop offset="9.02%" stop-color="#efca93"/><stop offset="9.16%" stop-color="#ecbe84"/><stop offset="9.3%" stop-color="#e8ae71"/><stop offset="9.73%" stop-color="#964537"/><stop offset="9.88%" stop-color="#812a2a"/><stop offset="10.02%" stop-color="#792025"/><stop offset="10.16%" stop-color="#7f2829"/><stop offset="10.31%" stop-color="#934035"/><stop offset="10.74%" stop-color="#e7ab6d"/><stop offset="10.88%" stop-color="#ebbb81"/><stop offset="11.02%" stop-color="#eec790"/><stop offset="11.31%" stop-color="#f2d5a1"/><stop offset="11.59%" stop-color="#f3dca9"/><stop offset="12.17%" stop-color="#f5e1af"/><stop offset="14.17%" stop-color="#f7e7b7"/><stop offset="31.63%" stop-color="#f8ecbc"/><stop offset="80.59%" stop-color="#f7e8b8"/><stop offset="81.02%" stop-color="#f6e6b6"/><stop offset="81.45%" stop-color="#f5e0ae"/><stop offset="82.31%" stop-color="#f6e7b6"/><stop offset="83.02%" stop-color="#f6e5b5"/><stop offset="83.45%" stop-color="#f5e1b0"/><stop offset="83.74%" stop-color="#f3d8a5"/><stop offset="83.88%" stop-color="#f1d19c"/><stop offset="84.31%" stop-color="#e9b478"/><stop offset="84.45%" stop-color="#e8ae70"/><stop offset="84.6%" stop-color="#e7ac6e"/><stop offset="84.74%" stop-color="#e8af72"/><stop offset="84.88%" stop-color="#eab67b"/><stop offset="85.31%" stop-color="#f1d39e"/><stop offset="85.46%" stop-color="#f3daa7"/><stop offset="85.74%" stop-color="#f5e2b0"/><stop offset="86.17%" stop-color="#f6e5b5"/><stop offset="89.75%" stop-color="#f7e9b9"/><stop offset="90.75%" stop-color="#f5e0af"/><stop offset="91.9%" stop-color="#f7e9b9"/><stop offset="95.91%" stop-color="#f7e9ba"/><stop offset="96.34%" stop-color="#f6e5b4"/><stop offset="96.91%" stop-color="#efcb95"/><stop offset="97.05%" stop-color="#efca93"/><stop offset="97.19%" stop-color="#f0ce98"/><stop offset="97.62%" stop-color="#f5e3b2"/><stop offset="97.91%" stop-color="#f7e9b9"/><stop offset="99.91%" stop-color="#f7eaba"/></linearGradient>
<linearGradient id="h8" gradientUnits="userSpaceOnUse" x1="0" y1="553" x2="0" y2="902.3"><stop offset="0%" stop-color="#f7eaba"/><stop offset="6.16%" stop-color="#f6e7b7"/><stop offset="7.59%" stop-color="#f5e3b1"/><stop offset="8.45%" stop-color="#f4dcaa"/><stop offset="8.73%" stop-color="#f2d7a3"/><stop offset="9.02%" stop-color="#efca93"/><stop offset="9.16%" stop-color="#ecbf85"/><stop offset="9.3%" stop-color="#e8b073"/><stop offset="9.73%" stop-color="#9b4b3a"/><stop offset="9.88%" stop-color="#86312d"/><stop offset="10.02%" stop-color="#7e2628"/><stop offset="10.16%" stop-color="#842d2c"/><stop offset="10.31%" stop-color="#964437"/><stop offset="10.74%" stop-color="#e7ac6e"/><stop offset="10.88%" stop-color="#ebbc82"/><stop offset="11.02%" stop-color="#eec890"/><stop offset="11.31%" stop-color="#f2d6a1"/><stop offset="11.59%" stop-color="#f4dca9"/><stop offset="12.17%" stop-color="#f5e1af"/><stop offset="14.17%" stop-color="#f7e8b8"/><stop offset="30.92%" stop-color="#f8ecbd"/><stop offset="78.44%" stop-color="#f7e9ba"/><stop offset="80.73%" stop-color="#f7e8b9"/><stop offset="81.45%" stop-color="#f5e0ae"/><stop offset="82.02%" stop-color="#f6e6b6"/><stop offset="82.45%" stop-color="#f6e7b7"/><stop offset="83.17%" stop-color="#f6e5b4"/><stop offset="83.6%" stop-color="#f4deac"/><stop offset="83.88%" stop-color="#f1d19c"/><stop offset="84.31%" stop-color="#e9b376"/><stop offset="84.45%" stop-color="#e7ac6e"/><stop offset="84.6%" stop-color="#e7a96b"/><stop offset="84.74%" stop-color="#e7ac6e"/><stop offset="84.88%" stop-color="#e9b377"/><stop offset="85.31%" stop-color="#f1d29d"/><stop offset="85.46%" stop-color="#f3d9a6"/><stop offset="85.74%" stop-color="#f5e2b1"/><stop offset="86.17%" stop-color="#f6e6b5"/><stop offset="89.75%" stop-color="#f7e9b9"/><stop offset="90.9%" stop-color="#f5e1b0"/><stop offset="91.9%" stop-color="#f7e9ba"/><stop offset="95.91%" stop-color="#f7eaba"/><stop offset="96.34%" stop-color="#f6e6b5"/><stop offset="96.91%" stop-color="#f0ce97"/><stop offset="97.05%" stop-color="#f0cc96"/><stop offset="97.19%" stop-color="#f0d09a"/><stop offset="97.62%" stop-color="#f6e4b3"/><stop offset="97.91%" stop-color="#f7e9b9"/><stop offset="99.91%" stop-color="#f7eabb"/></linearGradient>
<linearGradient id="h9" gradientUnits="userSpaceOnUse" x1="0" y1="553" x2="0" y2="902.3"><stop offset="0%" stop-color="#f7e9b9"/><stop offset="6.16%" stop-color="#f6e6b5"/><stop offset="7.59%" stop-color="#f5e2b0"/><stop offset="8.45%" stop-color="#f3dca9"/><stop offset="8.87%" stop-color="#f1d19c"/><stop offset="9.16%" stop-color="#ecbf85"/><stop offset="9.3%" stop-color="#e8b073"/><stop offset="9.73%" stop-color="#9a4939"/><stop offset="9.88%" stop-color="#832d2b"/><stop offset="10.02%" stop-color="#781f25"/><stop offset="10.16%" stop-color="#7c2427"/><stop offset="10.31%" stop-color="#8e3a32"/><stop offset="10.74%" stop-color="#e6a869"/><stop offset="10.88%" stop-color="#ebb97e"/><stop offset="11.02%" stop-color="#eec68e"/><stop offset="11.31%" stop-color="#f2d5a0"/><stop offset="11.59%" stop-color="#f3dba8"/><stop offset="12.17%" stop-color="#f5e0af"/><stop offset="14.17%" stop-color="#f6e7b6"/><stop offset="31.63%" stop-color="#f7ebbb"/><stop offset="80.45%" stop-color="#f7e8b8"/><stop offset="80.88%" stop-color="#f6e6b6"/><stop offset="81.45%" stop-color="#f4deac"/><stop offset="82.31%" stop-color="#f6e6b5"/><stop offset="83.02%" stop-color="#f6e4b3"/><stop offset="83.45%" stop-color="#f5e0af"/><stop offset="83.74%" stop-color="#f3d8a5"/><stop offset="83.88%" stop-color="#f1d19c"/><stop offset="84.31%" stop-color="#eab579"/><stop offset="84.45%" stop-color="#e8ae71"/><stop offset="84.6%" stop-color="#e7ab6d"/><stop offset="84.74%" stop-color="#e8ae70"/><stop offset="84.88%" stop-color="#e9b479"/><stop offset="85.46%" stop-color="#f3d8a4"/><stop offset="85.74%" stop-color="#f5e0af"/><stop offset="86.17%" stop-color="#f6e4b4"/><stop offset="89.75%" stop-color="#f7e8b8"/><stop offset="90.9%" stop-color="#f5e0ae"/><stop offset="91.9%" stop-color="#f7e8b8"/><stop offset="96.05%" stop-color="#f7e9b9"/><stop offset="96.48%" stop-color="#f5e2b1"/><stop offset="96.91%" stop-color="#f0ce98"/><stop offset="97.05%" stop-color="#efcb95"/><stop offset="97.19%" stop-color="#f0ce97"/><stop offset="97.62%" stop-color="#f5e1b0"/><stop offset="97.91%" stop-color="#f7e8b7"/><stop offset="99.91%" stop-color="#f7e9b9"/></linearGradient>
<linearGradient id="h10" gradientUnits="userSpaceOnUse" x1="0" y1="553" x2="0" y2="902.3"><stop offset="0%" stop-color="#f7eabb"/><stop offset="6.01%" stop-color="#f7e8b8"/><stop offset="7.44%" stop-color="#f6e4b3"/><stop offset="8.45%" stop-color="#f4ddab"/><stop offset="8.87%" stop-color="#f1d39f"/><stop offset="9.16%" stop-color="#edc28a"/><stop offset="9.3%" stop-color="#eab579"/><stop offset="9.73%" stop-color="#a85a42"/><stop offset="9.88%" stop-color="#924035"/><stop offset="10.02%" stop-color="#88332e"/><stop offset="10.16%" stop-color="#8b3730"/><stop offset="10.31%" stop-color="#9b4b3a"/><stop offset="10.88%" stop-color="#ebbc82"/><stop offset="11.02%" stop-color="#eec891"/><stop offset="11.31%" stop-color="#f2d6a2"/><stop offset="11.59%" stop-color="#f4ddaa"/><stop offset="12.17%" stop-color="#f5e2b1"/><stop offset="14.31%" stop-color="#f7e9b9"/><stop offset="31.78%" stop-color="#f8edbe"/><stop offset="80.45%" stop-color="#f7eaba"/><stop offset="80.88%" stop-color="#f7e8b8"/><stop offset="81.45%" stop-color="#f5e0ae"/><stop offset="82.31%" stop-color="#f7e8b8"/><stop offset="83.02%" stop-color="#f6e6b6"/><stop offset="83.45%" stop-color="#f5e2b1"/><stop offset="83.74%" stop-color="#f3daa6"/><stop offset="84.31%" stop-color="#eab579"/><stop offset="84.45%" stop-color="#e8ae71"/><stop offset="84.6%" stop-color="#e7ac6e"/><stop offset="84.74%" stop-color="#e8af72"/><stop offset="84.88%" stop-color="#eab67b"/><stop offset="85.31%" stop-color="#f1d39e"/><stop offset="85.46%" stop-color="#f3daa7"/><stop offset="85.74%" stop-color="#f5e2b1"/><stop offset="86.17%" stop-color="#f6e6b6"/><stop offset="89.75%" stop-color="#f7eaba"/><stop offset="90.9%" stop-color="#f5e2b1"/><stop offset="91.9%" stop-color="#f7eabb"/><stop offset="96.05%" stop-color="#f7eabb"/><stop offset="96.48%" stop-color="#f6e4b3"/><stop offset="96.91%" stop-color="#f1d19c"/><stop offset="97.05%" stop-color="#f0ce98"/><stop offset="97.19%" stop-color="#f0d09a"/><stop offset="97.62%" stop-color="#f5e3b2"/><stop offset="97.91%" stop-color="#f7e9ba"/><stop offset="99.91%" stop-color="#f7ebbc"/></linearGradient>
<linearGradient id="h11" gradientUnits="userSpaceOnUse" x1="0" y1="553" x2="0" y2="902.3"><stop offset="0%" stop-color="#f8ecbd"/><stop offset="6.16%" stop-color="#f7e9ba"/><stop offset="7.59%" stop-color="#f6e5b5"/><stop offset="8.45%" stop-color="#f4dfad"/><stop offset="8.87%" stop-color="#f2d5a1"/><stop offset="9.16%" stop-color="#edc48b"/><stop offset="9.3%" stop-color="#eab67a"/><stop offset="9.73%" stop-color="#a85b42"/><stop offset="9.88%" stop-color="#944135"/><stop offset="10.02%" stop-color="#8a3630"/><stop offset="10.16%" stop-color="#8f3b32"/><stop offset="10.31%" stop-color="#a0503d"/><stop offset="10.74%" stop-color="#e8b073"/><stop offset="10.88%" stop-color="#ecbf86"/><stop offset="11.02%" stop-color="#efcb94"/><stop offset="11.31%" stop-color="#f3d9a5"/><stop offset="11.59%" stop-color="#f4dfad"/><stop offset="12.17%" stop-color="#f6e4b3"/><stop offset="14.17%" stop-color="#f7eabb"/><stop offset="31.78%" stop-color="#f8eec0"/><stop offset="80.45%" stop-color="#f7ebbc"/><stop offset="80.88%" stop-color="#f7eaba"/><stop offset="81.45%" stop-color="#f5e1b0"/><stop offset="82.31%" stop-color="#f7e9b9"/><stop offset="83.02%" stop-color="#f7e8b7"/><stop offset="83.45%" stop-color="#f6e3b2"/><stop offset="83.74%" stop-color="#f3dba8"/><stop offset="83.88%" stop-color="#f1d39e"/><stop offset="84.31%" stop-color="#eab67b"/><stop offset="84.45%" stop-color="#e8b073"/><stop offset="84.6%" stop-color="#e8ae71"/><stop offset="84.74%" stop-color="#e9b174"/><stop offset="84.88%" stop-color="#eab87d"/><stop offset="85.31%" stop-color="#f2d5a1"/><stop offset="85.46%" stop-color="#f4dca9"/><stop offset="85.74%" stop-color="#f6e4b3"/><stop offset="86.17%" stop-color="#f7e8b8"/><stop offset="89.75%" stop-color="#f8ebbc"/><stop offset="90.9%" stop-color="#f5e3b1"/><stop offset="91.9%" stop-color="#f8ecbc"/><stop offset="96.05%" stop-color="#f8ecbd"/><stop offset="96.34%" stop-color="#f7e9b9"/><stop offset="96.48%" stop-color="#f6e4b4"/><stop offset="96.91%" stop-color="#f0cf99"/><stop offset="97.05%" stop-color="#f0cd96"/><stop offset="97.19%" stop-color="#f0cf99"/><stop offset="97.62%" stop-color="#f6e4b3"/><stop offset="97.91%" stop-color="#f7ebbc"/><stop offset="99.91%" stop-color="#f8edbe"/></linearGradient>
<linearGradient id="h12" gradientUnits="userSpaceOnUse" x1="0" y1="553" x2="0" y2="902.3"><stop offset="0%" stop-color="#f8ebbc"/><stop offset="6.16%" stop-color="#f7e8b9"/><stop offset="7.59%" stop-color="#f6e4b4"/><stop offset="8.45%" stop-color="#f4deac"/><stop offset="8.73%" stop-color="#f3d8a5"/><stop offset="9.02%" stop-color="#efcc95"/><stop offset="9.16%" stop-color="#edc188"/><stop offset="9.3%" stop-color="#e9b275"/><stop offset="9.73%" stop-color="#a0513d"/><stop offset="9.88%" stop-color="#8c3831"/><stop offset="10.02%" stop-color="#842e2c"/><stop offset="10.16%" stop-color="#8a352f"/><stop offset="10.31%" stop-color="#9c4c3b"/><stop offset="10.74%" stop-color="#e8af72"/><stop offset="10.88%" stop-color="#ecbe85"/><stop offset="11.02%" stop-color="#efca93"/><stop offset="11.31%" stop-color="#f3d8a4"/><stop offset="11.59%" stop-color="#f4deab"/><stop offset="12.17%" stop-color="#f5e3b2"/><stop offset="14.17%" stop-color="#f7e9ba"/><stop offset="31.63%" stop-color="#f8edbf"/><stop offset="80.59%" stop-color="#f7eabb"/><stop offset="81.02%" stop-color="#f7e8b8"/><stop offset="81.45%" stop-color="#f5e2b0"/><stop offset="82.31%" stop-color="#f7e9b9"/><stop offset="83.02%" stop-color="#f7e7b7"/><stop offset="83.45%" stop-color="#f6e4b3"/><stop offset="83.74%" stop-color="#f3dca9"/><stop offset="84.31%" stop-color="#eab87e"/><stop offset="84.45%" stop-color="#e9b275"/><stop offset="84.6%" stop-color="#e8b073"/><stop offset="84.74%" stop-color="#e9b276"/><stop offset="84.88%" stop-color="#ebb97e"/><stop offset="85.31%" stop-color="#f2d5a1"/><stop offset="85.46%" stop-color="#f4dca9"/><stop offset="85.74%" stop-color="#f6e4b3"/><stop offset="86.17%" stop-color="#f7e8b7"/><stop offset="89.75%" stop-color="#f7ebbb"/><stop offset="90.9%" stop-color="#f5e2b1"/><stop offset="91.9%" stop-color="#f7ebbc"/><stop offset="96.05%" stop-color="#f7ebbc"/><stop offset="96.48%" stop-color="#f6e4b3"/><stop offset="96.91%" stop-color="#f1d19b"/><stop offset="97.05%" stop-color="#f0ce98"/><stop offset="97.19%" stop-color="#f1d19b"/><stop offset="97.62%" stop-color="#f6e4b3"/><stop offset="97.91%" stop-color="#f7eabb"/><stop offset="99.91%" stop-color="#f8ecbd"/></linearGradient>
<linearGradient id="h13" gradientUnits="userSpaceOnUse" x1="0" y1="553" x2="0" y2="902.3"><stop offset="0%" stop-color="#f7e9b9"/><stop offset="6.01%" stop-color="#f6e6b6"/><stop offset="7.44%" stop-color="#f5e3b2"/><stop offset="8.45%" stop-color="#f4dcaa"/><stop offset="8.87%" stop-color="#f1d39e"/><stop offset="9.16%" stop-color="#edc289"/><stop offset="9.3%" stop-color="#e9b478"/><stop offset="9.73%" stop-color="#a65841"/><stop offset="9.88%" stop-color="#903d33"/><stop offset="10.02%" stop-color="#86302d"/><stop offset="10.16%" stop-color="#89332f"/><stop offset="10.31%" stop-color="#984738"/><stop offset="10.88%" stop-color="#ebba80"/><stop offset="11.02%" stop-color="#eec68f"/><stop offset="11.31%" stop-color="#f2d5a0"/><stop offset="11.59%" stop-color="#f3dba8"/><stop offset="12.17%" stop-color="#f5e0af"/><stop offset="14.31%" stop-color="#f6e7b7"/><stop offset="31.92%" stop-color="#f7ebbc"/><stop offset="80.59%" stop-color="#f7e8b8"/><stop offset="81.02%" stop-color="#f6e6b5"/><stop offset="81.45%" stop-color="#f4deac"/><stop offset="82.31%" stop-color="#f6e6b6"/><stop offset="83.45%" stop-color="#f5e1b0"/><stop offset="83.74%" stop-color="#f3d9a6"/><stop offset="83.88%" stop-color="#f1d39e"/><stop offset="84.31%" stop-color="#eab77c"/><stop offset="84.45%" stop-color="#e8b073"/><stop offset="84.6%" stop-color="#e8ae70"/><stop offset="84.74%" stop-color="#e8b073"/><stop offset="84.88%" stop-color="#eab67b"/><stop offset="85.46%" stop-color="#f3d9a5"/><stop offset="85.74%" stop-color="#f5e1af"/><stop offset="86.17%" stop-color="#f6e5b4"/><stop offset="89.75%" stop-color="#f7e8b8"/><stop offset="90.75%" stop-color="#f5e0ae"/><stop offset="91.9%" stop-color="#f7e9b9"/><stop offset="96.05%" stop-color="#f7e9b9"/><stop offset="96.48%" stop-color="#f5e1b0"/><stop offset="96.91%" stop-color="#f0cc96"/><stop offset="97.05%" stop-color="#efc992"/><stop offset="97.19%" stop-color="#efcc95"/><stop offset="97.62%" stop-color="#f5e1af"/><stop offset="97.91%" stop-color="#f7e8b8"/><stop offset="99.91%" stop-color="#f7e9ba"/></linearGradient>
<linearGradient id="h14" gradientUnits="userSpaceOnUse" x1="0" y1="553" x2="0" y2="902.3"><stop offset="0%" stop-color="#f7ebbc"/><stop offset="6.01%" stop-color="#f7e9b9"/><stop offset="7.44%" stop-color="#f6e5b5"/><stop offset="8.45%" stop-color="#f4dfad"/><stop offset="8.87%" stop-color="#f2d5a1"/><stop offset="9.16%" stop-color="#edc48b"/><stop offset="9.3%" stop-color="#eab579"/><stop offset="9.45%" stop-color="#de9d63"/><stop offset="9.73%" stop-color="#9e4e3c"/><stop offset="9.88%" stop-color="#86302d"/><stop offset="10.02%" stop-color="#792025"/><stop offset="10.16%" stop-color="#7b2226"/><stop offset="10.31%" stop-color="#8b3730"/><stop offset="10.88%" stop-color="#ebb97e"/><stop offset="11.02%" stop-color="#eec78f"/><stop offset="11.31%" stop-color="#f2d7a3"/><stop offset="11.59%" stop-color="#f4deab"/><stop offset="12.02%" stop-color="#f5e2b1"/><stop offset="14.03%" stop-color="#f7e9b9"/><stop offset="31.49%" stop-color="#f8edbe"/><stop offset="80.45%" stop-color="#f7eabb"/><stop offset="80.88%" stop-color="#f7e9b9"/><stop offset="81.45%" stop-color="#f5e1af"/><stop offset="82.31%" stop-color="#f7e8b9"/><stop offset="83.45%" stop-color="#f6e3b2"/><stop offset="83.74%" stop-color="#f4dca9"/><stop offset="84.03%" stop-color="#f0cd96"/><stop offset="84.31%" stop-color="#ebba7f"/><stop offset="84.45%" stop-color="#e9b376"/><stop offset="84.6%" stop-color="#e8af72"/><stop offset="84.74%" stop-color="#e9b175"/><stop offset="84.88%" stop-color="#eab77c"/><stop offset="85.31%" stop-color="#f1d39e"/><stop offset="85.6%" stop-color="#f5e0ae"/><stop offset="86.17%" stop-color="#f6e7b7"/><stop offset="89.75%" stop-color="#f7ebbb"/><stop offset="90.9%" stop-color="#f5e3b2"/><stop offset="91.9%" stop-color="#f7ebbb"/><stop offset="96.05%" stop-color="#f7ebbc"/><stop offset="96.34%" stop-color="#f7e8b8"/><stop offset="96.48%" stop-color="#f6e4b2"/><stop offset="96.91%" stop-color="#f0ce98"/><stop offset="97.05%" stop-color="#efcc95"/><stop offset="97.19%" stop-color="#f0ce98"/><stop offset="97.62%" stop-color="#f5e3b2"/><stop offset="97.91%" stop-color="#f7eaba"/><stop offset="99.91%" stop-color="#f8ecbc"/></linearGradient>
<linearGradient id="h15" gradientUnits="userSpaceOnUse" x1="0" y1="553" x2="0" y2="902.3"><stop offset="0%" stop-color="#f7ebbb"/><stop offset="6.16%" stop-color="#f7e8b8"/><stop offset="7.59%" stop-color="#f6e5b4"/><stop offset="8.45%" stop-color="#f4dfad"/><stop offset="8.73%" stop-color="#f3daa7"/><stop offset="9.02%" stop-color="#f0ce98"/><stop offset="9.16%" stop-color="#edc48b"/><stop offset="9.3%" stop-color="#eab67a"/><stop offset="9.73%" stop-color="#ab5e44"/><stop offset="9.88%" stop-color="#974537"/><stop offset="10.02%" stop-color="#8f3b32"/><stop offset="10.16%" stop-color="#944135"/><stop offset="10.31%" stop-color="#a55640"/><stop offset="10.74%" stop-color="#e9b175"/><stop offset="10.88%" stop-color="#edc087"/><stop offset="11.02%" stop-color="#efcc95"/><stop offset="11.31%" stop-color="#f3d9a5"/><stop offset="11.59%" stop-color="#f4deac"/><stop offset="12.17%" stop-color="#f5e3b2"/><stop offset="14.17%" stop-color="#f7e9b9"/><stop offset="31.78%" stop-color="#f8edbe"/><stop offset="80.45%" stop-color="#f7eaba"/><stop offset="80.88%" stop-color="#f7e9b9"/><stop offset="81.45%" stop-color="#f5e1af"/><stop offset="82.31%" stop-color="#f7e8b8"/><stop offset="83.02%" stop-color="#f6e7b6"/><stop offset="83.45%" stop-color="#f5e2b1"/><stop offset="83.74%" stop-color="#f3daa6"/><stop offset="83.88%" stop-color="#f1d29d"/><stop offset="84.31%" stop-color="#e9b377"/><stop offset="84.45%" stop-color="#e7ac6f"/><stop offset="84.6%" stop-color="#e7aa6c"/><stop offset="84.74%" stop-color="#e7ad6f"/><stop offset="84.88%" stop-color="#e9b478"/><stop offset="85.31%" stop-color="#f1d29d"/><stop offset="85.46%" stop-color="#f3daa6"/><stop offset="85.74%" stop-color="#f5e2b1"/><stop offset="86.17%" stop-color="#f6e6b6"/><stop offset="89.75%" stop-color="#f7eabb"/><stop offset="90.9%" stop-color="#f5e2b1"/><stop offset="91.9%" stop-color="#f7ebbb"/><stop offset="95.91%" stop-color="#f7ebbc"/><stop offset="96.34%" stop-color="#f7e7b7"/><stop offset="96.48%" stop-color="#f5e3b2"/><stop offset="96.91%" stop-color="#f0cf99"/><stop offset="97.05%" stop-color="#f0cd97"/><stop offset="97.19%" stop-color="#f0d09a"/><stop offset="97.62%" stop-color="#f6e4b3"/><stop offset="97.91%" stop-color="#f7eaba"/><stop offset="99.91%" stop-color="#f8ebbc"/></linearGradient>
<linearGradient id="h16" gradientUnits="userSpaceOnUse" x1="0" y1="553" x2="0" y2="902.3"><stop offset="0%" stop-color="#f7eaba"/><stop offset="6.01%" stop-color="#f7e8b7"/><stop offset="7.44%" stop-color="#f6e4b3"/><stop offset="8.45%" stop-color="#f4ddab"/><stop offset="8.87%" stop-color="#f1d49f"/><stop offset="9.16%" stop-color="#edc38a"/><stop offset="9.3%" stop-color="#eab579"/><stop offset="9.73%" stop-color="#a75841"/><stop offset="9.88%" stop-color="#913e34"/><stop offset="10.02%" stop-color="#86312d"/><stop offset="10.16%" stop-color="#8a352f"/><stop offset="10.31%" stop-color="#9a4939"/><stop offset="10.88%" stop-color="#ebbc81"/><stop offset="11.02%" stop-color="#eec890"/><stop offset="11.31%" stop-color="#f2d6a2"/><stop offset="11.59%" stop-color="#f4ddaa"/><stop offset="12.17%" stop-color="#f5e2b0"/><stop offset="14.17%" stop-color="#f7e8b8"/><stop offset="31.78%" stop-color="#f8ecbd"/><stop offset="80.59%" stop-color="#f7e9b9"/><stop offset="80.88%" stop-color="#f7e8b8"/><stop offset="81.45%" stop-color="#f5e0ae"/><stop offset="82.31%" stop-color="#f7e7b7"/><stop offset="83.02%" stop-color="#f6e6b5"/><stop offset="83.45%" stop-color="#f5e1b0"/><stop offset="83.74%" stop-color="#f3d8a5"/><stop offset="83.88%" stop-color="#f1d09b"/><stop offset="84.31%" stop-color="#e9b174"/><stop offset="84.45%" stop-color="#e7aa6b"/><stop offset="84.6%" stop-color="#e6a768"/><stop offset="84.74%" stop-color="#e7aa6c"/><stop offset="84.88%" stop-color="#e9b275"/><stop offset="85.31%" stop-color="#f1d19c"/><stop offset="85.46%" stop-color="#f3d9a5"/><stop offset="85.74%" stop-color="#f5e2b0"/><stop offset="86.17%" stop-color="#f6e6b5"/><stop offset="89.75%" stop-color="#f7e9ba"/><stop offset="90.9%" stop-color="#f5e1b0"/><stop offset="91.9%" stop-color="#f7eaba"/><stop offset="96.05%" stop-color="#f7eaba"/><stop offset="96.48%" stop-color="#f5e3b2"/><stop offset="96.91%" stop-color="#f0cf9a"/><stop offset="97.05%" stop-color="#f0cd96"/><stop offset="97.19%" stop-color="#f0cf99"/><stop offset="97.62%" stop-color="#f5e3b1"/><stop offset="97.91%" stop-color="#f7e9b9"/><stop offset="99.91%" stop-color="#f7ebbb"/></linearGradient>
<linearGradient id="h17" gradientUnits="userSpaceOnUse" x1="0" y1="553" x2="0" y2="902.3"><stop offset="0%" stop-color="#f8ecbc"/><stop offset="6.16%" stop-color="#f7e9b9"/><stop offset="7.59%" stop-color="#f6e5b4"/><stop offset="8.45%" stop-color="#f4dfad"/><stop offset="8.73%" stop-color="#f3daa6"/><stop offset="9.02%" stop-color="#f0cd97"/><stop offset="9.16%" stop-color="#edc289"/><stop offset="9.3%" stop-color="#e9b377"/><stop offset="9.73%" stop-color="#a0503d"/><stop offset="9.88%" stop-color="#8a3530"/><stop offset="10.02%" stop-color="#812a2a"/><stop offset="10.16%" stop-color="#86302d"/><stop offset="10.31%" stop-color="#984738"/><stop offset="10.74%" stop-color="#e8ae70"/><stop offset="10.88%" stop-color="#ecbe84"/><stop offset="11.02%" stop-color="#efca93"/><stop offset="11.31%" stop-color="#f3d8a5"/><stop offset="11.59%" stop-color="#f4dfac"/><stop offset="12.17%" stop-color="#f6e4b3"/><stop offset="14.17%" stop-color="#f7eaba"/><stop offset="31.06%" stop-color="#f8eebf"/><stop offset="78.59%" stop-color="#f8ebbc"/><stop offset="80.73%" stop-color="#f7eabb"/><stop offset="81.45%" stop-color="#f5e1af"/><stop offset="82.02%" stop-color="#f7e8b8"/><stop offset="82.45%" stop-color="#f7e9b9"/><stop offset="83.17%" stop-color="#f6e7b7"/><stop offset="83.6%" stop-color="#f4dfad"/><stop offset="83.88%" stop-color="#f1d19b"/><stop offset="84.31%" stop-color="#e9b174"/><stop offset="84.45%" stop-color="#e7aa6c"/><stop offset="84.6%" stop-color="#e6a96a"/><stop offset="84.74%" stop-color="#e8ad6f"/><stop offset="84.88%" stop-color="#eab57a"/><stop offset="85.17%" stop-color="#efcb94"/><stop offset="85.46%" stop-color="#f4dca9"/><stop offset="85.74%" stop-color="#f6e4b3"/><stop offset="86.17%" stop-color="#f7e8b8"/><stop offset="89.75%" stop-color="#f8ebbc"/><stop offset="90.9%" stop-color="#f5e2b1"/><stop offset="91.9%" stop-color="#f8ebbc"/><stop offset="96.05%" stop-color="#f8ecbc"/><stop offset="96.48%" stop-color="#f6e5b4"/><stop offset="96.91%" stop-color="#f1d29c"/><stop offset="97.05%" stop-color="#f0cf99"/><stop offset="97.19%" stop-color="#f1d19c"/><stop offset="97.62%" stop-color="#f6e4b4"/><stop offset="97.91%" stop-color="#f7ebbb"/><stop offset="99.91%" stop-color="#f8ecbd"/></linearGradient>
<linearGradient id="h18" gradientUnits="userSpaceOnUse" x1="0" y1="553" x2="0" y2="902.3"><stop offset="0%" stop-color="#f7ebbc"/><stop offset="6.01%" stop-color="#f7e9b9"/><stop offset="7.44%" stop-color="#f6e5b4"/><stop offset="8.45%" stop-color="#f4deab"/><stop offset="8.87%" stop-color="#f1d39e"/><stop offset="9.16%" stop-color="#edc087"/><stop offset="9.3%" stop-color="#e9b175"/><stop offset="9.73%" stop-color="#9e4e3c"/><stop offset="9.88%" stop-color="#88332e"/><stop offset="10.02%" stop-color="#7f2729"/><stop offset="10.16%" stop-color="#832d2b"/><stop offset="10.31%" stop-color="#954336"/><stop offset="10.74%" stop-color="#e7ac6e"/><stop offset="10.88%" stop-color="#ebbc82"/><stop offset="11.02%" stop-color="#efc891"/><stop offset="11.31%" stop-color="#f2d7a3"/><stop offset="11.59%" stop-color="#f4ddaa"/><stop offset="12.17%" stop-color="#f5e2b1"/><stop offset="14.17%" stop-color="#f7e9b9"/><stop offset="31.63%" stop-color="#f8edbf"/><stop offset="80.59%" stop-color="#f7eabb"/><stop offset="81.02%" stop-color="#f7e8b8"/><stop offset="81.45%" stop-color="#f5e1b0"/><stop offset="82.31%" stop-color="#f7e8b8"/><stop offset="83.02%" stop-color="#f6e7b6"/><stop offset="83.45%" stop-color="#f5e2b1"/><stop offset="83.74%" stop-color="#f3d9a5"/><stop offset="83.88%" stop-color="#f1d19b"/><stop offset="84.31%" stop-color="#e9b276"/><stop offset="84.45%" stop-color="#e7ab6d"/><stop offset="84.6%" stop-color="#e7aa6b"/><stop offset="84.74%" stop-color="#e8ad70"/><stop offset="84.88%" stop-color="#eab579"/><stop offset="85.17%" stop-color="#efca93"/><stop offset="85.46%" stop-color="#f3dba8"/><stop offset="85.74%" stop-color="#f5e3b2"/><stop offset="86.17%" stop-color="#f6e7b7"/><stop offset="89.75%" stop-color="#f7ebbb"/><stop offset="90.9%" stop-color="#f5e2b0"/><stop offset="91.9%" stop-color="#f7ebbb"/><stop offset="96.05%" stop-color="#f7ebbc"/><stop offset="96.48%" stop-color="#f6e5b5"/><stop offset="96.91%" stop-color="#f1d39e"/><stop offset="97.05%" stop-color="#f0cf99"/><stop offset="97.19%" stop-color="#f1d09b"/><stop offset="97.62%" stop-color="#f5e3b2"/><stop offset="97.91%" stop-color="#f7eaba"/><stop offset="99.91%" stop-color="#f8ecbc"/></linearGradient>
<linearGradient id="h19" gradientUnits="userSpaceOnUse" x1="0" y1="553" x2="0" y2="902.3"><stop offset="0%" stop-color="#f8ebbc"/><stop offset="6.16%" stop-color="#f7e9b9"/><stop offset="7.59%" stop-color="#f6e5b4"/><stop offset="8.45%" stop-color="#f4dfad"/><stop offset="8.73%" stop-color="#f3daa6"/><stop offset="9.02%" stop-color="#f0ce98"/><stop offset="9.16%" stop-color="#edc48b"/><stop offset="9.3%" stop-color="#eab67a"/><stop offset="9.73%" stop-color="#aa5d43"/><stop offset="9.88%" stop-color="#964437"/><stop offset="10.02%" stop-color="#8e3a32"/><stop offset="10.16%" stop-color="#923f35"/><stop offset="10.31%" stop-color="#a3553f"/><stop offset="10.74%" stop-color="#e9b174"/><stop offset="10.88%" stop-color="#ecc086"/><stop offset="11.02%" stop-color="#efcb94"/><stop offset="11.31%" stop-color="#f3d8a5"/><stop offset="11.59%" stop-color="#f4deac"/><stop offset="12.17%" stop-color="#f5e3b2"/><stop offset="14.17%" stop-color="#f7e9ba"/><stop offset="31.78%" stop-color="#f8edbf"/><stop offset="80.59%" stop-color="#f7eabb"/><stop offset="81.02%" stop-color="#f7e8b8"/><stop offset="81.45%" stop-color="#f5e0af"/><stop offset="82.31%" stop-color="#f7e8b9"/><stop offset="83.02%" stop-color="#f6e7b7"/><stop offset="83.45%" stop-color="#f5e3b2"/><stop offset="83.74%" stop-color="#f3daa7"/><stop offset="83.88%" stop-color="#f1d29d"/><stop offset="84.31%" stop-color="#e9b478"/><stop offset="84.45%" stop-color="#e7ac6e"/><stop offset="84.6%" stop-color="#e7aa6b"/><stop offset="84.74%" stop-color="#e7ac6e"/><stop offset="84.88%" stop-color="#e9b477"/><stop offset="85.31%" stop-color="#f1d29d"/><stop offset="85.46%" stop-color="#f3daa7"/><stop offset="85.74%" stop-color="#f5e3b2"/><stop offset="86.17%" stop-color="#f6e7b7"/><stop offset="89.75%" stop-color="#f7ebbb"/><stop offset="90.9%" stop-color="#f5e2b0"/><stop offset="91.9%" stop-color="#f7ebbb"/><stop offset="96.05%" stop-color="#f7ebbc"/><stop offset="96.48%" stop-color="#f6e4b3"/><stop offset="96.91%" stop-color="#f1d09b"/><stop offset="97.05%" stop-color="#f0ce98"/><stop offset="97.19%" stop-color="#f1d09b"/><stop offset="97.62%" stop-color="#f6e4b3"/><stop offset="97.91%" stop-color="#f7eabb"/><stop offset="99.91%" stop-color="#f8ecbc"/></linearGradient>
<linearGradient id="h20" gradientUnits="userSpaceOnUse" x1="0" y1="553" x2="0" y2="902.3"><stop offset="0%" stop-color="#f7eaba"/><stop offset="6.16%" stop-color="#f7e7b7"/><stop offset="7.59%" stop-color="#f6e4b2"/><stop offset="8.45%" stop-color="#f4deab"/><stop offset="8.87%" stop-color="#f2d49f"/><stop offset="9.16%" stop-color="#edc289"/><stop offset="9.3%" stop-color="#e9b478"/><stop offset="9.73%" stop-color="#a1523e"/><stop offset="9.88%" stop-color="#8b3630"/><stop offset="10.02%" stop-color="#802829"/><stop offset="10.16%" stop-color="#832d2b"/><stop offset="10.31%" stop-color="#944236"/><stop offset="10.74%" stop-color="#e7ab6d"/><stop offset="10.88%" stop-color="#ebbc82"/><stop offset="11.02%" stop-color="#efc991"/><stop offset="11.31%" stop-color="#f2d7a3"/><stop offset="11.59%" stop-color="#f4deab"/><stop offset="12.02%" stop-color="#f5e2b0"/><stop offset="14.03%" stop-color="#f7e8b8"/><stop offset="31.63%" stop-color="#f8ecbd"/><stop offset="80.45%" stop-color="#f7e9b9"/><stop offset="80.88%" stop-color="#f7e8b8"/><stop offset="81.45%" stop-color="#f5e0ae"/><stop offset="82.31%" stop-color="#f6e7b7"/><stop offset="83.45%" stop-color="#f5e2b1"/><stop offset="83.74%" stop-color="#f3daa7"/><stop offset="83.88%" stop-color="#f1d49f"/><stop offset="84.31%" stop-color="#eab87d"/><stop offset="84.45%" stop-color="#e8b174"/><stop offset="84.6%" stop-color="#e8ae70"/><stop offset="84.74%" stop-color="#e8af72"/><stop offset="84.88%" stop-color="#eab67a"/><stop offset="85.31%" stop-color="#f1d29d"/><stop offset="85.6%" stop-color="#f4deac"/><stop offset="86.17%" stop-color="#f6e6b5"/><stop offset="89.75%" stop-color="#f7e9b9"/><stop offset="90.9%" stop-color="#f5e2b0"/><stop offset="91.9%" stop-color="#f7eaba"/><stop offset="96.05%" stop-color="#f7eaba"/><stop offset="96.48%" stop-color="#f5e3b2"/><stop offset="96.91%" stop-color="#f0cf99"/><stop offset="97.05%" stop-color="#f0cc96"/><stop offset="97.19%" stop-color="#f0ce98"/><stop offset="97.62%" stop-color="#f5e2b1"/><stop offset="97.91%" stop-color="#f7e9b9"/><stop offset="99.91%" stop-color="#f7eabb"/></linearGradient>
<linearGradient id="h21" gradientUnits="userSpaceOnUse" x1="0" y1="553" x2="0" y2="902.3"><stop offset="0%" stop-color="#f7eaba"/><stop offset="6.16%" stop-color="#f7e7b7"/><stop offset="7.59%" stop-color="#f6e3b2"/><stop offset="8.45%" stop-color="#f4ddab"/><stop offset="8.87%" stop-color="#f1d39e"/><stop offset="9.02%" stop-color="#efcb94"/><stop offset="9.16%" stop-color="#ecc086"/><stop offset="9.3%" stop-color="#e8b073"/><stop offset="9.73%" stop-color="#974537"/><stop offset="9.88%" stop-color="#7f2829"/><stop offset="10.02%" stop-color="#751b22"/><stop offset="10.16%" stop-color="#792025"/><stop offset="10.31%" stop-color="#8c3731"/><stop offset="10.74%" stop-color="#e6a96a"/><stop offset="10.88%" stop-color="#ebba7f"/><stop offset="11.02%" stop-color="#eec78f"/><stop offset="11.31%" stop-color="#f2d6a2"/><stop offset="11.59%" stop-color="#f4ddaa"/><stop offset="12.17%" stop-color="#f5e2b0"/><stop offset="14.03%" stop-color="#f7e8b8"/><stop offset="31.35%" stop-color="#f8ecbd"/><stop offset="80.45%" stop-color="#f7e9b9"/><stop offset="80.88%" stop-color="#f7e8b8"/><stop offset="81.45%" stop-color="#f5e1af"/><stop offset="82.31%" stop-color="#f7e8b7"/><stop offset="83.45%" stop-color="#f5e3b1"/><stop offset="83.74%" stop-color="#f3dba8"/><stop offset="83.88%" stop-color="#f2d4a0"/><stop offset="84.31%" stop-color="#ebb97e"/><stop offset="84.45%" stop-color="#e9b276"/><stop offset="84.6%" stop-color="#e8af72"/><stop offset="84.74%" stop-color="#e9b174"/><stop offset="84.88%" stop-color="#eab77c"/><stop offset="85.31%" stop-color="#f1d39e"/><stop offset="85.6%" stop-color="#f4dfad"/><stop offset="86.17%" stop-color="#f6e6b6"/><stop offset="89.75%" stop-color="#f7e9ba"/><stop offset="90.9%" stop-color="#f5e0af"/><stop offset="91.9%" stop-color="#f7eaba"/><stop offset="96.05%" stop-color="#f7eaba"/><stop offset="96.48%" stop-color="#f5e3b2"/><stop offset="96.91%" stop-color="#f0cf99"/><stop offset="97.05%" stop-color="#f0cc96"/><stop offset="97.19%" stop-color="#f0cf99"/><stop offset="97.62%" stop-color="#f5e2b1"/><stop offset="97.91%" stop-color="#f7e9b9"/><stop offset="99.91%" stop-color="#f7ebbb"/></linearGradient>
<linearGradient id="h22" gradientUnits="userSpaceOnUse" x1="0" y1="553" x2="0" y2="902.3"><stop offset="0%" stop-color="#f8ecbd"/><stop offset="6.16%" stop-color="#f7e9b9"/><stop offset="7.59%" stop-color="#f6e5b4"/><stop offset="8.45%" stop-color="#f4deac"/><stop offset="8.73%" stop-color="#f3d9a5"/><stop offset="9.02%" stop-color="#efcc95"/><stop offset="9.16%" stop-color="#ecc087"/><stop offset="9.3%" stop-color="#e8b174"/><stop offset="9.73%" stop-color="#9a4839"/><stop offset="9.88%" stop-color="#832d2b"/><stop offset="10.02%" stop-color="#7a2126"/><stop offset="10.16%" stop-color="#7f2829"/><stop offset="10.31%" stop-color="#923f34"/><stop offset="10.74%" stop-color="#e7ab6d"/><stop offset="10.88%" stop-color="#ebbc82"/><stop offset="11.02%" stop-color="#efc991"/><stop offset="11.31%" stop-color="#f2d7a3"/><stop offset="11.59%" stop-color="#f4deab"/><stop offset="12.17%" stop-color="#f5e3b2"/><stop offset="14.17%" stop-color="#f7eaba"/><stop offset="30.92%" stop-color="#f8eebf"/><stop offset="78.59%" stop-color="#f8ecbc"/><stop offset="80.73%" stop-color="#f7ebbb"/><stop offset="81.45%" stop-color="#f5e2b0"/><stop offset="82.02%" stop-color="#f7e9b9"/><stop offset="82.45%" stop-color="#f7e9ba"/><stop offset="83.17%" stop-color="#f7e7b7"/><stop offset="83.6%" stop-color="#f5e1af"/><stop offset="83.88%" stop-color="#f2d4a0"/><stop offset="84.31%" stop-color="#eab57a"/><stop offset="84.45%" stop-color="#e8ae71"/><stop offset="84.6%" stop-color="#e7ab6d"/><stop offset="84.74%" stop-color="#e8ae70"/><stop offset="84.88%" stop-color="#eab579"/><stop offset="85.31%" stop-color="#f1d49f"/><stop offset="85.46%" stop-color="#f3dba8"/><stop offset="85.74%" stop-color="#f6e4b3"/><stop offset="86.17%" stop-color="#f7e8b8"/><stop offset="89.75%" stop-color="#f8ebbc"/><stop offset="90.75%" stop-color="#f6e3b2"/><stop offset="91.9%" stop-color="#f8ecbc"/><stop offset="96.05%" stop-color="#f8ecbd"/><stop offset="96.48%" stop-color="#f6e5b5"/><stop offset="96.91%" stop-color="#f1d39e"/><stop offset="97.05%" stop-color="#f0d09a"/><stop offset="97.19%" stop-color="#f1d29d"/><stop offset="97.62%" stop-color="#f6e5b4"/><stop offset="97.91%" stop-color="#f7ebbb"/><stop offset="99.91%" stop-color="#f8ecbd"/></linearGradient>
<linearGradient id="h23" gradientUnits="userSpaceOnUse" x1="0" y1="553" x2="0" y2="902.3"><stop offset="0%" stop-color="#f7ebbc"/><stop offset="6.01%" stop-color="#f7e9b9"/><stop offset="7.44%" stop-color="#f6e5b4"/><stop offset="8.45%" stop-color="#f4deac"/><stop offset="8.87%" stop-color="#f2d49f"/><stop offset="9.02%" stop-color="#f0cc96"/><stop offset="9.16%" stop-color="#edc188"/><stop offset="9.3%" stop-color="#e9b276"/><stop offset="9.73%" stop-color="#984738"/><stop offset="9.88%" stop-color="#7f2829"/><stop offset="10.02%" stop-color="#741a22"/><stop offset="10.16%" stop-color="#751b22"/><stop offset="10.31%" stop-color="#86302d"/><stop offset="10.88%" stop-color="#eab77c"/><stop offset="11.02%" stop-color="#eec58d"/><stop offset="11.31%" stop-color="#f2d6a1"/><stop offset="11.59%" stop-color="#f4ddaa"/><stop offset="12.17%" stop-color="#f5e2b1"/><stop offset="14.17%" stop-color="#f7e9b9"/><stop offset="30.92%" stop-color="#f8edbe"/><stop offset="78.59%" stop-color="#f7ebbb"/><stop offset="80.73%" stop-color="#f7eaba"/><stop offset="81.45%" stop-color="#f5e1af"/><stop offset="82.02%" stop-color="#f7e8b8"/><stop offset="82.45%" stop-color="#f7e9b9"/><stop offset="83.17%" stop-color="#f6e6b6"/><stop offset="83.6%" stop-color="#f4dfad"/><stop offset="83.88%" stop-color="#f1d19c"/><stop offset="84.31%" stop-color="#e9b377"/><stop offset="84.45%" stop-color="#e7ad6f"/><stop offset="84.6%" stop-color="#e7ab6d"/><stop offset="84.74%" stop-color="#e8af72"/><stop offset="84.88%" stop-color="#eab77c"/><stop offset="85.17%" stop-color="#efcc95"/><stop offset="85.46%" stop-color="#f4dca9"/><stop offset="85.74%" stop-color="#f6e4b3"/><stop offset="86.17%" stop-color="#f7e7b7"/><stop offset="89.75%" stop-color="#f7ebbb"/><stop offset="90.9%" stop-color="#f5e3b2"/><stop offset="91.9%" stop-color="#f7ebbb"/><stop offset="96.05%" stop-color="#f7ebbc"/><stop offset="96.48%" stop-color="#f6e4b3"/><stop offset="96.91%" stop-color="#f1d09b"/><stop offset="97.05%" stop-color="#f0cd97"/><stop offset="97.19%" stop-color="#f0d09a"/><stop offset="97.62%" stop-color="#f6e4b3"/><stop offset="97.91%" stop-color="#f7eaba"/><stop offset="99.91%" stop-color="#f8ecbc"/></linearGradient>
<linearGradient id="h24" gradientUnits="userSpaceOnUse" x1="0" y1="553" x2="0" y2="902.3"><stop offset="0%" stop-color="#f7eabb"/><stop offset="6.01%" stop-color="#f7e8b7"/><stop offset="7.44%" stop-color="#f6e4b3"/><stop offset="8.45%" stop-color="#f4ddaa"/><stop offset="8.87%" stop-color="#f1d39e"/><stop offset="9.16%" stop-color="#edc188"/><stop offset="9.3%" stop-color="#e9b377"/><stop offset="9.73%" stop-color="#a45640"/><stop offset="9.88%" stop-color="#8f3b32"/><stop offset="10.02%" stop-color="#852f2c"/><stop offset="10.16%" stop-color="#88332e"/><stop offset="10.31%" stop-color="#984738"/><stop offset="10.88%" stop-color="#ebba80"/><stop offset="11.02%" stop-color="#eec78f"/><stop offset="11.31%" stop-color="#f2d5a1"/><stop offset="11.74%" stop-color="#f4ddab"/><stop offset="12.31%" stop-color="#f5e2b1"/><stop offset="14.31%" stop-color="#f7e8b8"/><stop offset="31.63%" stop-color="#f8ecbd"/><stop offset="80.45%" stop-color="#f7e9ba"/><stop offset="80.88%" stop-color="#f7e8b8"/><stop offset="81.45%" stop-color="#f5e0ae"/><stop offset="82.31%" stop-color="#f7e8b7"/><stop offset="83.02%" stop-color="#f6e6b5"/><stop offset="83.45%" stop-color="#f5e2b0"/><stop offset="83.74%" stop-color="#f3d9a6"/><stop offset="83.88%" stop-color="#f1d29c"/><stop offset="84.31%" stop-color="#e9b479"/><stop offset="84.45%" stop-color="#e8ae70"/><stop offset="84.6%" stop-color="#e7ac6e"/><stop offset="84.74%" stop-color="#e8af72"/><stop offset="84.88%" stop-color="#eab67b"/><stop offset="85.31%" stop-color="#f1d39e"/><stop offset="85.46%" stop-color="#f3daa7"/><stop offset="85.74%" stop-color="#f5e2b1"/><stop offset="86.17%" stop-color="#f6e6b6"/><stop offset="89.75%" stop-color="#f7eaba"/><stop offset="90.9%" stop-color="#f5e1b0"/><stop offset="91.9%" stop-color="#f7eaba"/><stop offset="95.91%" stop-color="#f7eabb"/><stop offset="96.34%" stop-color="#f6e7b6"/><stop offset="96.91%" stop-color="#f1d09b"/><stop offset="97.05%" stop-color="#f0cf9a"/><stop offset="97.19%" stop-color="#f1d39e"/><stop offset="97.62%" stop-color="#f6e5b4"/><stop offset="97.91%" stop-color="#f7eaba"/><stop offset="99.91%" stop-color="#f7ebbb"/></linearGradient>
<linearGradient id="h25" gradientUnits="userSpaceOnUse" x1="0" y1="553" x2="0" y2="902.3"><stop offset="0%" stop-color="#f8ecbd"/><stop offset="6.16%" stop-color="#f7e9ba"/><stop offset="7.59%" stop-color="#f6e6b5"/><stop offset="8.45%" stop-color="#f5e0ae"/><stop offset="8.73%" stop-color="#f3dba8"/><stop offset="9.02%" stop-color="#f0ce98"/><stop offset="9.16%" stop-color="#edc28a"/><stop offset="9.3%" stop-color="#e9b377"/><stop offset="9.73%" stop-color="#a1523e"/><stop offset="9.88%" stop-color="#8d3a32"/><stop offset="10.02%" stop-color="#86302d"/><stop offset="10.16%" stop-color="#8d3931"/><stop offset="10.31%" stop-color="#a0513d"/><stop offset="10.74%" stop-color="#e9b275"/><stop offset="10.88%" stop-color="#edc188"/><stop offset="11.02%" stop-color="#f0cc96"/><stop offset="11.31%" stop-color="#f3d9a6"/><stop offset="11.59%" stop-color="#f4dfad"/><stop offset="12.17%" stop-color="#f6e4b3"/><stop offset="14.17%" stop-color="#f7eaba"/><stop offset="31.92%" stop-color="#f8eebf"/><stop offset="80.59%" stop-color="#f7ebbb"/><stop offset="81.02%" stop-color="#f7e8b8"/><stop offset="81.45%" stop-color="#f5e1b0"/><stop offset="82.31%" stop-color="#f7e9b9"/><stop offset="83.02%" stop-color="#f7e7b7"/><stop offset="83.45%" stop-color="#f5e3b2"/><stop offset="83.74%" stop-color="#f3daa7"/><stop offset="83.88%" stop-color="#f1d39e"/><stop offset="84.31%" stop-color="#e9b478"/><stop offset="84.45%" stop-color="#e8ad6f"/><stop offset="84.6%" stop-color="#e7ab6d"/><stop offset="84.74%" stop-color="#e8ae70"/><stop offset="84.88%" stop-color="#eab579"/><stop offset="85.31%" stop-color="#f2d49f"/><stop offset="85.46%" stop-color="#f3dba8"/><stop offset="85.74%" stop-color="#f6e4b3"/><stop offset="86.17%" stop-color="#f7e8b8"/><stop offset="89.75%" stop-color="#f8ebbc"/><stop offset="90.9%" stop-color="#f5e3b1"/><stop offset="91.9%" stop-color="#f8ecbc"/><stop offset="96.05%" stop-color="#f8ecbc"/><stop offset="96.48%" stop-color="#f6e5b4"/><stop offset="96.91%" stop-color="#f1d29d"/><stop offset="97.05%" stop-color="#f0d09a"/><stop offset="97.19%" stop-color="#f1d29d"/><stop offset="97.62%" stop-color="#f6e5b4"/><stop offset="97.91%" stop-color="#f7ebbc"/><stop offset="99.91%" stop-color="#f8ecbd"/></linearGradient>
<pattern id="nze" href="#nz" patternTransform="translate(71.22,553) scale(1,0.9)"/>
<linearGradient id="h26" gradientUnits="userSpaceOnUse" x1="0" y1="553" x2="0" y2="902.3"><stop offset="0%" stop-color="#f5e2b0"/><stop offset="8.3%" stop-color="#f5e0af"/><stop offset="11.02%" stop-color="#f3dba7"/><stop offset="11.31%" stop-color="#f2d8a4"/><stop offset="11.59%" stop-color="#f1d19b"/><stop offset="11.88%" stop-color="#edc289"/><stop offset="12.45%" stop-color="#cf8a5a"/><stop offset="12.6%" stop-color="#c68055"/><stop offset="12.74%" stop-color="#c67f54"/><stop offset="12.88%" stop-color="#cd8758"/><stop offset="13.03%" stop-color="#da9861"/><stop offset="13.46%" stop-color="#edc087"/><stop offset="13.6%" stop-color="#efc992"/><stop offset="13.74%" stop-color="#f0d09a"/><stop offset="14.03%" stop-color="#f2d7a3"/><stop offset="14.74%" stop-color="#f4ddaa"/><stop offset="16.46%" stop-color="#f5e0ae"/><stop offset="32.92%" stop-color="#f5e3b2"/><stop offset="80.73%" stop-color="#f5e2b1"/><stop offset="81.02%" stop-color="#f5e1b0"/><stop offset="81.16%" stop-color="#f4deac"/><stop offset="81.45%" stop-color="#f1d29d"/><stop offset="81.59%" stop-color="#f1d19c"/><stop offset="82.02%" stop-color="#f5e1af"/><stop offset="82.31%" stop-color="#f5e3b1"/><stop offset="85.74%" stop-color="#f5e3b1"/><stop offset="86.03%" stop-color="#f5e0ae"/><stop offset="86.46%" stop-color="#f2d6a1"/><stop offset="86.89%" stop-color="#f5e0ae"/><stop offset="87.17%" stop-color="#f5e2b1"/><stop offset="94.19%" stop-color="#f5e0af"/><stop offset="95.76%" stop-color="#f4dcaa"/><stop offset="96.19%" stop-color="#f2d6a1"/><stop offset="96.34%" stop-color="#f0cf99"/><stop offset="96.48%" stop-color="#edc48c"/><stop offset="96.62%" stop-color="#e9b478"/><stop offset="96.91%" stop-color="#b86e4c"/><stop offset="97.05%" stop-color="#9c4c3b"/><stop offset="97.19%" stop-color="#8e3b32"/><stop offset="97.34%" stop-color="#934035"/><stop offset="97.48%" stop-color="#a85a42"/><stop offset="97.91%" stop-color="#ebbc81"/><stop offset="98.05%" stop-color="#efc992"/><stop offset="98.2%" stop-color="#f1d29d"/><stop offset="98.34%" stop-color="#f2d7a3"/><stop offset="98.63%" stop-color="#f3dba8"/><stop offset="99.91%" stop-color="#f4dfad"/></linearGradient>
<linearGradient id="h27" gradientUnits="userSpaceOnUse" x1="0" y1="553" x2="0" y2="902.3"><stop offset="0%" stop-color="#f5e0ae"/><stop offset="8.3%" stop-color="#f4deac"/><stop offset="11.02%" stop-color="#f3d9a6"/><stop offset="11.45%" stop-color="#f2d5a0"/><stop offset="11.74%" stop-color="#f0cd97"/><stop offset="12.02%" stop-color="#ecbe85"/><stop offset="12.45%" stop-color="#dd9c62"/><stop offset="12.6%" stop-color="#d38f5c"/><stop offset="12.74%" stop-color="#cf8a5a"/><stop offset="12.88%" stop-color="#d28e5c"/><stop offset="13.03%" stop-color="#db9a62"/><stop offset="13.6%" stop-color="#eec68e"/><stop offset="14.03%" stop-color="#f2d5a0"/><stop offset="14.74%" stop-color="#f3daa7"/><stop offset="16.6%" stop-color="#f4deac"/><stop offset="32.92%" stop-color="#f5e1b0"/><stop offset="80.73%" stop-color="#f5e0af"/><stop offset="81.02%" stop-color="#f4dfad"/><stop offset="81.16%" stop-color="#f4ddaa"/><stop offset="81.45%" stop-color="#f1d19b"/><stop offset="81.59%" stop-color="#f0d09a"/><stop offset="82.02%" stop-color="#f4dfad"/><stop offset="82.31%" stop-color="#f5e1af"/><stop offset="85.74%" stop-color="#f5e1af"/><stop offset="86.03%" stop-color="#f4deac"/><stop offset="86.46%" stop-color="#f2d5a0"/><stop offset="86.89%" stop-color="#f4deab"/><stop offset="87.17%" stop-color="#f5e0af"/><stop offset="94.05%" stop-color="#f4deac"/><stop offset="95.62%" stop-color="#f3dba8"/><stop offset="96.19%" stop-color="#f2d5a0"/><stop offset="96.34%" stop-color="#f0cf99"/><stop offset="96.48%" stop-color="#eec68e"/><stop offset="96.62%" stop-color="#ebb97e"/><stop offset="97.05%" stop-color="#ad6145"/><stop offset="97.19%" stop-color="#9e4d3b"/><stop offset="97.34%" stop-color="#9e4e3c"/><stop offset="97.48%" stop-color="#ae6145"/><stop offset="97.91%" stop-color="#ebb97e"/><stop offset="98.05%" stop-color="#eec78f"/><stop offset="98.2%" stop-color="#f0cf9a"/><stop offset="98.34%" stop-color="#f2d5a0"/><stop offset="98.63%" stop-color="#f3d9a6"/><stop offset="99.91%" stop-color="#f4ddab"/></linearGradient>
<linearGradient id="h28" gradientUnits="userSpaceOnUse" x1="0" y1="553" x2="0" y2="902.3"><stop offset="0%" stop-color="#f5e2b1"/><stop offset="8.3%" stop-color="#f5e1af"/><stop offset="11.02%" stop-color="#f3dba8"/><stop offset="11.45%" stop-color="#f2d6a2"/><stop offset="11.74%" stop-color="#f0cd97"/><stop offset="12.02%" stop-color="#ebbc82"/><stop offset="12.45%" stop-color="#d99660"/><stop offset="12.6%" stop-color="#d08c5a"/><stop offset="12.74%" stop-color="#ce8959"/><stop offset="12.88%" stop-color="#d3905d"/><stop offset="13.03%" stop-color="#df9e64"/><stop offset="13.6%" stop-color="#efc992"/><stop offset="14.03%" stop-color="#f2d7a3"/><stop offset="14.89%" stop-color="#f4ddab"/><stop offset="16.75%" stop-color="#f5e1af"/><stop offset="33.07%" stop-color="#f6e4b3"/><stop offset="80.73%" stop-color="#f5e3b2"/><stop offset="81.16%" stop-color="#f5e1af"/><stop offset="81.59%" stop-color="#f0cf9a"/><stop offset="81.73%" stop-color="#f1d39e"/><stop offset="82.02%" stop-color="#f5e0ae"/><stop offset="82.31%" stop-color="#f5e3b2"/><stop offset="85.74%" stop-color="#f5e3b2"/><stop offset="86.03%" stop-color="#f5e1af"/><stop offset="86.46%" stop-color="#f3d8a4"/><stop offset="86.89%" stop-color="#f5e1af"/><stop offset="87.17%" stop-color="#f5e3b2"/><stop offset="94.05%" stop-color="#f5e1af"/><stop offset="95.62%" stop-color="#f4ddab"/><stop offset="95.91%" stop-color="#f3dba8"/><stop offset="96.19%" stop-color="#f2d5a1"/><stop offset="96.34%" stop-color="#f0ce98"/><stop offset="96.48%" stop-color="#edc38a"/><stop offset="96.62%" stop-color="#e9b276"/><stop offset="96.91%" stop-color="#b66b4a"/><stop offset="97.05%" stop-color="#9a4939"/><stop offset="97.19%" stop-color="#8d3931"/><stop offset="97.34%" stop-color="#923f34"/><stop offset="97.48%" stop-color="#a85a42"/><stop offset="97.91%" stop-color="#ebbc82"/><stop offset="98.05%" stop-color="#efc992"/><stop offset="98.2%" stop-color="#f1d29d"/><stop offset="98.34%" stop-color="#f2d7a3"/><stop offset="98.63%" stop-color="#f3dba8"/><stop offset="99.91%" stop-color="#f5e0ae"/></linearGradient>
<linearGradient id="h29" gradientUnits="userSpaceOnUse" x1="0" y1="553" x2="0" y2="902.3"><stop offset="0%" stop-color="#f5e0ae"/><stop offset="8.3%" stop-color="#f4deac"/><stop offset="11.02%" stop-color="#f3d8a5"/><stop offset="11.45%" stop-color="#f1d39e"/><stop offset="11.74%" stop-color="#efc991"/><stop offset="11.88%" stop-color="#edc188"/><stop offset="12.45%" stop-color="#cd8959"/><stop offset="12.6%" stop-color="#c57e54"/><stop offset="12.74%" stop-color="#c47d53"/><stop offset="12.88%" stop-color="#cb8557"/><stop offset="13.03%" stop-color="#d8955f"/><stop offset="13.6%" stop-color="#eec790"/><stop offset="13.74%" stop-color="#f0ce97"/><stop offset="14.03%" stop-color="#f2d5a1"/><stop offset="14.74%" stop-color="#f3dba7"/><stop offset="16.46%" stop-color="#f4deab"/><stop offset="32.92%" stop-color="#f5e1b0"/><stop offset="80.73%" stop-color="#f5e0af"/><stop offset="81.02%" stop-color="#f4dfad"/><stop offset="81.16%" stop-color="#f4dca9"/><stop offset="81.45%" stop-color="#f0cf99"/><stop offset="81.59%" stop-color="#f0ce98"/><stop offset="82.02%" stop-color="#f4dfad"/><stop offset="82.31%" stop-color="#f5e1af"/><stop offset="85.74%" stop-color="#f5e1af"/><stop offset="86.03%" stop-color="#f4deac"/><stop offset="86.46%" stop-color="#f2d5a0"/><stop offset="86.89%" stop-color="#f4deab"/><stop offset="87.17%" stop-color="#f5e0af"/><stop offset="94.19%" stop-color="#f4deac"/><stop offset="95.62%" stop-color="#f3dba8"/><stop offset="95.91%" stop-color="#f3d9a5"/><stop offset="96.19%" stop-color="#f1d39e"/><stop offset="96.34%" stop-color="#f0cc96"/><stop offset="96.48%" stop-color="#edc188"/><stop offset="96.62%" stop-color="#e8b073"/><stop offset="97.05%" stop-color="#8e3a32"/><stop offset="97.19%" stop-color="#7c2427"/><stop offset="97.34%" stop-color="#7e2628"/><stop offset="97.48%" stop-color="#934035"/><stop offset="97.91%" stop-color="#e9b477"/><stop offset="98.05%" stop-color="#edc38b"/><stop offset="98.2%" stop-color="#f0ce97"/><stop offset="98.34%" stop-color="#f1d49f"/><stop offset="98.63%" stop-color="#f3d9a5"/><stop offset="99.91%" stop-color="#f4ddab"/></linearGradient>
<linearGradient id="h30" gradientUnits="userSpaceOnUse" x1="0" y1="553" x2="0" y2="902.3"><stop offset="0%" stop-color="#f5e1af"/><stop offset="8.3%" stop-color="#f4dfad"/><stop offset="11.02%" stop-color="#f3d9a6"/><stop offset="11.45%" stop-color="#f1d39e"/><stop offset="11.74%" stop-color="#efc992"/><stop offset="11.88%" stop-color="#edc187"/><stop offset="12.45%" stop-color="#ca8457"/><stop offset="12.6%" stop-color="#c17951"/><stop offset="12.74%" stop-color="#bf7750"/><stop offset="12.88%" stop-color="#c67f54"/><stop offset="13.03%" stop-color="#d38f5c"/><stop offset="13.6%" stop-color="#eec68e"/><stop offset="13.74%" stop-color="#f0cc96"/><stop offset="14.03%" stop-color="#f2d5a0"/><stop offset="14.89%" stop-color="#f3dba8"/><stop offset="16.6%" stop-color="#f4dfad"/><stop offset="32.92%" stop-color="#f5e2b1"/><stop offset="80.73%" stop-color="#f5e2b0"/><stop offset="81.02%" stop-color="#f5e0af"/><stop offset="81.45%" stop-color="#f1d39e"/><stop offset="81.59%" stop-color="#f1d39e"/><stop offset="82.02%" stop-color="#f5e1af"/><stop offset="82.31%" stop-color="#f5e2b0"/><stop offset="85.74%" stop-color="#f5e2b0"/><stop offset="86.03%" stop-color="#f4dfad"/><stop offset="86.46%" stop-color="#f2d5a1"/><stop offset="86.89%" stop-color="#f4dfad"/><stop offset="87.17%" stop-color="#f5e2b0"/><stop offset="94.33%" stop-color="#f4dfad"/><stop offset="95.76%" stop-color="#f3dca9"/><stop offset="96.19%" stop-color="#f2d5a1"/><stop offset="96.34%" stop-color="#f0cf9a"/><stop offset="96.48%" stop-color="#eec58d"/><stop offset="96.62%" stop-color="#eab579"/><stop offset="97.05%" stop-color="#954336"/><stop offset="97.19%" stop-color="#812a2a"/><stop offset="97.34%" stop-color="#802929"/><stop offset="97.48%" stop-color="#923f35"/><stop offset="97.91%" stop-color="#e9b377"/><stop offset="98.05%" stop-color="#edc48b"/><stop offset="98.2%" stop-color="#f0cf99"/><stop offset="98.34%" stop-color="#f2d5a0"/><stop offset="98.63%" stop-color="#f3daa7"/><stop offset="99.91%" stop-color="#f4dfac"/></linearGradient>
<linearGradient id="h31" gradientUnits="userSpaceOnUse" x1="0" y1="553" x2="0" y2="902.3"><stop offset="0%" stop-color="#f4deab"/><stop offset="8.3%" stop-color="#f4dcaa"/><stop offset="11.02%" stop-color="#f2d6a2"/><stop offset="11.45%" stop-color="#f1d19c"/><stop offset="11.74%" stop-color="#eec891"/><stop offset="12.02%" stop-color="#eab77c"/><stop offset="12.45%" stop-color="#d08c5a"/><stop offset="12.6%" stop-color="#c78055"/><stop offset="12.74%" stop-color="#c57e54"/><stop offset="12.88%" stop-color="#ca8457"/><stop offset="13.03%" stop-color="#d5935e"/><stop offset="13.6%" stop-color="#edc48c"/><stop offset="14.03%" stop-color="#f1d29d"/><stop offset="14.74%" stop-color="#f3d8a4"/><stop offset="16.6%" stop-color="#f4dca9"/><stop offset="32.92%" stop-color="#f4dfad"/><stop offset="80.73%" stop-color="#f4dfac"/><stop offset="81.02%" stop-color="#f4deab"/><stop offset="81.16%" stop-color="#f3dba8"/><stop offset="81.45%" stop-color="#f1d09b"/><stop offset="81.59%" stop-color="#f0cf9a"/><stop offset="82.02%" stop-color="#f4ddab"/><stop offset="82.31%" stop-color="#f4dfac"/><stop offset="85.74%" stop-color="#f4dfac"/><stop offset="86.03%" stop-color="#f4dcaa"/><stop offset="86.46%" stop-color="#f1d29c"/><stop offset="87.03%" stop-color="#f4deab"/><stop offset="87.32%" stop-color="#f4dfac"/><stop offset="94.05%" stop-color="#f4dcaa"/><stop offset="95.62%" stop-color="#f3d9a5"/><stop offset="96.19%" stop-color="#f1d39e"/><stop offset="96.48%" stop-color="#eec58d"/><stop offset="96.62%" stop-color="#eab87d"/><stop offset="97.05%" stop-color="#ab5e44"/><stop offset="97.19%" stop-color="#994839"/><stop offset="97.34%" stop-color="#974538"/><stop offset="97.48%" stop-color="#a55740"/><stop offset="97.91%" stop-color="#e9b478"/><stop offset="98.05%" stop-color="#edc38a"/><stop offset="98.2%" stop-color="#f0cc96"/><stop offset="98.34%" stop-color="#f1d29d"/><stop offset="98.63%" stop-color="#f2d7a3"/><stop offset="99.91%" stop-color="#f3dba8"/></linearGradient>
<linearGradient id="h32" gradientUnits="userSpaceOnUse" x1="0" y1="553" x2="0" y2="902.3"><stop offset="0%" stop-color="#f5e1b0"/><stop offset="8.3%" stop-color="#f5e0ae"/><stop offset="11.02%" stop-color="#f3dba7"/><stop offset="11.45%" stop-color="#f2d5a1"/><stop offset="11.74%" stop-color="#efcc95"/><stop offset="12.02%" stop-color="#ebba80"/><stop offset="12.45%" stop-color="#d28e5c"/><stop offset="12.6%" stop-color="#c88256"/><stop offset="12.74%" stop-color="#c67f54"/><stop offset="12.88%" stop-color="#cb8657"/><stop offset="13.03%" stop-color="#d7955f"/><stop offset="13.6%" stop-color="#eec790"/><stop offset="13.74%" stop-color="#f0ce98"/><stop offset="14.03%" stop-color="#f2d6a2"/><stop offset="14.74%" stop-color="#f4dca9"/><stop offset="16.46%" stop-color="#f5e0ae"/><stop offset="32.92%" stop-color="#f5e3b2"/><stop offset="80.73%" stop-color="#f5e2b1"/><stop offset="81.16%" stop-color="#f4dfad"/><stop offset="81.45%" stop-color="#f1d39e"/><stop offset="81.59%" stop-color="#f1d09b"/><stop offset="82.02%" stop-color="#f5e0ae"/><stop offset="82.31%" stop-color="#f5e2b1"/><stop offset="85.74%" stop-color="#f5e2b1"/><stop offset="86.03%" stop-color="#f5e0af"/><stop offset="86.46%" stop-color="#f3d8a4"/><stop offset="87.03%" stop-color="#f5e2b0"/><stop offset="87.32%" stop-color="#f5e2b1"/><stop offset="94.33%" stop-color="#f5e0ae"/><stop offset="95.76%" stop-color="#f4dca9"/><stop offset="96.19%" stop-color="#f2d5a1"/><stop offset="96.34%" stop-color="#f0cf99"/><stop offset="96.48%" stop-color="#edc38b"/><stop offset="96.62%" stop-color="#e9b376"/><stop offset="97.05%" stop-color="#944135"/><stop offset="97.19%" stop-color="#832d2b"/><stop offset="97.34%" stop-color="#86302d"/><stop offset="97.48%" stop-color="#9b4a3a"/><stop offset="97.91%" stop-color="#eab87d"/><stop offset="98.05%" stop-color="#eec78f"/><stop offset="98.2%" stop-color="#f1d19b"/><stop offset="98.34%" stop-color="#f2d6a2"/><stop offset="98.63%" stop-color="#f3dba8"/><stop offset="99.91%" stop-color="#f4dfad"/></linearGradient>
<linearGradient id="h33" gradientUnits="userSpaceOnUse" x1="0" y1="553" x2="0" y2="902.3"><stop offset="0%" stop-color="#f5e3b1"/><stop offset="8.3%" stop-color="#f5e1b0"/><stop offset="11.02%" stop-color="#f3dba8"/><stop offset="11.45%" stop-color="#f2d6a2"/><stop offset="11.74%" stop-color="#f0cc96"/><stop offset="12.02%" stop-color="#ebbb80"/><stop offset="12.45%" stop-color="#d3905d"/><stop offset="12.6%" stop-color="#ca8557"/><stop offset="12.74%" stop-color="#c88256"/><stop offset="12.88%" stop-color="#ce8959"/><stop offset="13.03%" stop-color="#da9860"/><stop offset="13.6%" stop-color="#efc891"/><stop offset="13.74%" stop-color="#f0cf99"/><stop offset="14.03%" stop-color="#f2d7a3"/><stop offset="14.74%" stop-color="#f4ddaa"/><stop offset="16.6%" stop-color="#f5e1af"/><stop offset="32.92%" stop-color="#f6e4b3"/><stop offset="80.73%" stop-color="#f6e4b2"/><stop offset="81.02%" stop-color="#f5e2b1"/><stop offset="81.16%" stop-color="#f4deac"/><stop offset="81.45%" stop-color="#f1d19c"/><stop offset="81.59%" stop-color="#f1d19c"/><stop offset="81.88%" stop-color="#f4deac"/><stop offset="82.02%" stop-color="#f5e2b1"/><stop offset="82.31%" stop-color="#f6e4b3"/><stop offset="85.74%" stop-color="#f6e4b3"/><stop offset="86.03%" stop-color="#f5e1b0"/><stop offset="86.46%" stop-color="#f2d7a2"/><stop offset="86.6%" stop-color="#f3d8a4"/><stop offset="86.89%" stop-color="#f5e0af"/><stop offset="87.17%" stop-color="#f6e3b2"/><stop offset="93.9%" stop-color="#f5e1b0"/><stop offset="95.62%" stop-color="#f4ddab"/><stop offset="96.19%" stop-color="#f2d6a2"/><stop offset="96.34%" stop-color="#f1d19b"/><stop offset="96.48%" stop-color="#eec790"/><stop offset="96.62%" stop-color="#ebb97e"/><stop offset="97.05%" stop-color="#aa5d43"/><stop offset="97.19%" stop-color="#9a4939"/><stop offset="97.34%" stop-color="#9a4839"/><stop offset="97.48%" stop-color="#aa5d43"/><stop offset="97.91%" stop-color="#ebb97e"/><stop offset="98.05%" stop-color="#eec78f"/><stop offset="98.2%" stop-color="#f1d09b"/><stop offset="98.34%" stop-color="#f2d6a2"/><stop offset="98.63%" stop-color="#f3dba8"/><stop offset="99.91%" stop-color="#f5e0ae"/></linearGradient>
<linearGradient id="h34" gradientUnits="userSpaceOnUse" x1="0" y1="553" x2="0" y2="902.3"><stop offset="0%" stop-color="#f5e0ae"/><stop offset="8.02%" stop-color="#f4deac"/><stop offset="10.88%" stop-color="#f3d9a5"/><stop offset="11.45%" stop-color="#f1d29d"/><stop offset="11.74%" stop-color="#efca93"/><stop offset="12.02%" stop-color="#ebb97f"/><stop offset="12.45%" stop-color="#d38f5c"/><stop offset="12.6%" stop-color="#c98356"/><stop offset="12.74%" stop-color="#c67f54"/><stop offset="12.88%" stop-color="#ca8457"/><stop offset="13.03%" stop-color="#d5915d"/><stop offset="13.6%" stop-color="#edc48b"/><stop offset="13.74%" stop-color="#efca94"/><stop offset="14.03%" stop-color="#f1d39e"/><stop offset="14.89%" stop-color="#f3daa7"/><stop offset="16.89%" stop-color="#f4deac"/><stop offset="32.92%" stop-color="#f5e1b0"/><stop offset="80.73%" stop-color="#f5e1af"/><stop offset="81.16%" stop-color="#f4ddaa"/><stop offset="81.45%" stop-color="#f1d09b"/><stop offset="81.59%" stop-color="#f0cf99"/><stop offset="82.02%" stop-color="#f4dfad"/><stop offset="82.31%" stop-color="#f5e1af"/><stop offset="85.74%" stop-color="#f5e1af"/><stop offset="86.03%" stop-color="#f4dfac"/><stop offset="86.46%" stop-color="#f2d5a1"/><stop offset="86.89%" stop-color="#f4deab"/><stop offset="87.17%" stop-color="#f5e1af"/><stop offset="93.9%" stop-color="#f4deac"/><stop offset="95.62%" stop-color="#f3daa7"/><stop offset="95.91%" stop-color="#f3d8a4"/><stop offset="96.19%" stop-color="#f1d29d"/><stop offset="96.34%" stop-color="#efcc95"/><stop offset="96.48%" stop-color="#edc188"/><stop offset="96.62%" stop-color="#e9b275"/><stop offset="96.91%" stop-color="#ba714d"/><stop offset="97.05%" stop-color="#a1523e"/><stop offset="97.19%" stop-color="#964437"/><stop offset="97.34%" stop-color="#9b4a3a"/><stop offset="97.48%" stop-color="#af6346"/><stop offset="97.91%" stop-color="#ebbb81"/><stop offset="98.05%" stop-color="#eec890"/><stop offset="98.2%" stop-color="#f0cf9a"/><stop offset="98.63%" stop-color="#f3d8a5"/><stop offset="99.91%" stop-color="#f4ddaa"/></linearGradient>
<linearGradient id="h35" gradientUnits="userSpaceOnUse" x1="0" y1="553" x2="0" y2="902.3"><stop offset="0%" stop-color="#f5e3b2"/><stop offset="8.3%" stop-color="#f5e2b1"/><stop offset="11.02%" stop-color="#f4ddaa"/><stop offset="11.45%" stop-color="#f2d8a4"/><stop offset="11.74%" stop-color="#f0cf99"/><stop offset="12.02%" stop-color="#ecbe84"/><stop offset="12.45%" stop-color="#dc9a62"/><stop offset="12.6%" stop-color="#d3905d"/><stop offset="12.74%" stop-color="#d28e5c"/><stop offset="12.88%" stop-color="#d7955f"/><stop offset="13.03%" stop-color="#e3a366"/><stop offset="13.6%" stop-color="#efcb95"/><stop offset="14.03%" stop-color="#f3d9a5"/><stop offset="14.74%" stop-color="#f4deac"/><stop offset="16.6%" stop-color="#f5e2b0"/><stop offset="32.92%" stop-color="#f6e5b4"/><stop offset="80.73%" stop-color="#f6e4b3"/><stop offset="81.02%" stop-color="#f5e3b2"/><stop offset="81.45%" stop-color="#f2d4a0"/><stop offset="81.59%" stop-color="#f2d4a0"/><stop offset="82.02%" stop-color="#f5e3b2"/><stop offset="82.31%" stop-color="#f6e4b3"/><stop offset="85.74%" stop-color="#f6e4b3"/><stop offset="86.03%" stop-color="#f5e2b1"/><stop offset="86.46%" stop-color="#f2d7a3"/><stop offset="87.03%" stop-color="#f5e3b2"/><stop offset="87.32%" stop-color="#f6e4b3"/><stop offset="94.19%" stop-color="#f5e2b0"/><stop offset="95.76%" stop-color="#f4ddab"/><stop offset="96.19%" stop-color="#f2d6a2"/><stop offset="96.34%" stop-color="#f0cf99"/><stop offset="96.48%" stop-color="#edc38a"/><stop offset="96.62%" stop-color="#e9b275"/><stop offset="96.91%" stop-color="#b46949"/><stop offset="97.05%" stop-color="#984738"/><stop offset="97.19%" stop-color="#8b3730"/><stop offset="97.34%" stop-color="#923f34"/><stop offset="97.48%" stop-color="#a95b42"/><stop offset="97.77%" stop-color="#e7aa6c"/><stop offset="97.91%" stop-color="#ecbd83"/><stop offset="98.05%" stop-color="#efcb94"/><stop offset="98.2%" stop-color="#f1d39e"/><stop offset="98.34%" stop-color="#f3d8a5"/><stop offset="98.63%" stop-color="#f4dcaa"/><stop offset="99.91%" stop-color="#f5e1af"/></linearGradient>
<linearGradient id="h36" gradientUnits="userSpaceOnUse" x1="0" y1="553" x2="0" y2="902.3"><stop offset="0%" stop-color="#f4dfac"/><stop offset="8.3%" stop-color="#f4ddab"/><stop offset="11.02%" stop-color="#f2d7a2"/><stop offset="11.45%" stop-color="#f1d19c"/><stop offset="11.74%" stop-color="#efc991"/><stop offset="12.02%" stop-color="#eab87d"/><stop offset="12.45%" stop-color="#cc8758"/><stop offset="12.6%" stop-color="#c17951"/><stop offset="12.74%" stop-color="#bc734e"/><stop offset="12.88%" stop-color="#c07750"/><stop offset="13.03%" stop-color="#ca8557"/><stop offset="13.6%" stop-color="#edc087"/><stop offset="13.74%" stop-color="#eec891"/><stop offset="14.03%" stop-color="#f1d29c"/><stop offset="14.74%" stop-color="#f3d9a5"/><stop offset="16.75%" stop-color="#f4ddaa"/><stop offset="32.92%" stop-color="#f5e0af"/><stop offset="80.73%" stop-color="#f5e0ad"/><stop offset="81.16%" stop-color="#f4dca9"/><stop offset="81.45%" stop-color="#f0d09a"/><stop offset="81.59%" stop-color="#f0ce98"/><stop offset="82.02%" stop-color="#f4deab"/><stop offset="82.31%" stop-color="#f5e0ae"/><stop offset="85.74%" stop-color="#f5e0ae"/><stop offset="86.03%" stop-color="#f4deac"/><stop offset="86.46%" stop-color="#f2d5a0"/><stop offset="87.03%" stop-color="#f4dfac"/><stop offset="87.32%" stop-color="#f5e0ae"/><stop offset="94.05%" stop-color="#f4ddab"/><stop offset="95.62%" stop-color="#f3d9a6"/><stop offset="95.91%" stop-color="#f2d7a3"/><stop offset="96.19%" stop-color="#f1d19c"/><stop offset="96.34%" stop-color="#efca93"/><stop offset="96.48%" stop-color="#ecbf86"/><stop offset="96.62%" stop-color="#e8af72"/><stop offset="96.91%" stop-color="#af6447"/><stop offset="97.05%" stop-color="#934035"/><stop offset="97.19%" stop-color="#842d2c"/><stop offset="97.34%" stop-color="#87322e"/><stop offset="97.48%" stop-color="#9c4c3b"/><stop offset="97.91%" stop-color="#eab57a"/><stop offset="98.05%" stop-color="#edc48b"/><stop offset="98.2%" stop-color="#f0cd97"/><stop offset="98.34%" stop-color="#f1d29d"/><stop offset="98.63%" stop-color="#f2d7a3"/><stop offset="99.91%" stop-color="#f4dca9"/></linearGradient>
<linearGradient id="h37" gradientUnits="userSpaceOnUse" x1="0" y1="553" x2="0" y2="902.3"><stop offset="0%" stop-color="#f5e2b0"/><stop offset="8.02%" stop-color="#f5e0ae"/><stop offset="10.88%" stop-color="#f3daa7"/><stop offset="11.31%" stop-color="#f2d6a2"/><stop offset="11.59%" stop-color="#f1d09b"/><stop offset="11.88%" stop-color="#edc38b"/><stop offset="12.45%" stop-color="#d7945f"/><stop offset="12.6%" stop-color="#cf8a5a"/><stop offset="12.74%" stop-color="#cd8859"/><stop offset="12.88%" stop-color="#d38f5c"/><stop offset="13.03%" stop-color="#de9d63"/><stop offset="13.6%" stop-color="#eec890"/><stop offset="14.03%" stop-color="#f2d6a1"/><stop offset="14.89%" stop-color="#f4dca9"/><stop offset="16.89%" stop-color="#f5e0ae"/><stop offset="32.92%" stop-color="#f5e3b2"/><stop offset="80.73%" stop-color="#f5e2b1"/><stop offset="81.02%" stop-color="#f5e1b0"/><stop offset="81.45%" stop-color="#f1d39e"/><stop offset="81.59%" stop-color="#f1d39e"/><stop offset="82.02%" stop-color="#f5e1b0"/><stop offset="82.31%" stop-color="#f5e3b1"/><stop offset="85.89%" stop-color="#f5e2b1"/><stop offset="86.46%" stop-color="#f2d6a2"/><stop offset="86.6%" stop-color="#f2d7a3"/><stop offset="87.03%" stop-color="#f5e1b0"/><stop offset="87.32%" stop-color="#f5e2b1"/><stop offset="94.05%" stop-color="#f5e0ae"/><stop offset="95.62%" stop-color="#f4ddaa"/><stop offset="96.19%" stop-color="#f2d5a1"/><stop offset="96.34%" stop-color="#f0cf99"/><stop offset="96.48%" stop-color="#eec58d"/><stop offset="96.62%" stop-color="#eab67a"/><stop offset="96.91%" stop-color="#c07851"/><stop offset="97.05%" stop-color="#a65841"/><stop offset="97.19%" stop-color="#994839"/><stop offset="97.34%" stop-color="#9c4c3b"/><stop offset="97.48%" stop-color="#b06447"/><stop offset="97.91%" stop-color="#ebbc82"/><stop offset="98.05%" stop-color="#efc992"/><stop offset="98.2%" stop-color="#f1d19c"/><stop offset="98.34%" stop-color="#f2d6a2"/><stop offset="98.63%" stop-color="#f3daa7"/><stop offset="99.91%" stop-color="#f4dfad"/></linearGradient>
<linearGradient id="h38" gradientUnits="userSpaceOnUse" x1="0" y1="553" x2="0" y2="902.3"><stop offset="0%" stop-color="#f4dfad"/><stop offset="8.02%" stop-color="#f4deac"/><stop offset="10.88%" stop-color="#f3d9a5"/><stop offset="11.45%" stop-color="#f1d39e"/><stop offset="11.74%" stop-color="#efca93"/><stop offset="12.02%" stop-color="#ebb97f"/><stop offset="12.45%" stop-color="#d3905c"/><stop offset="12.6%" stop-color="#c98456"/><stop offset="12.74%" stop-color="#c78055"/><stop offset="12.88%" stop-color="#cb8658"/><stop offset="13.03%" stop-color="#d6935e"/><stop offset="13.6%" stop-color="#edc48c"/><stop offset="14.03%" stop-color="#f1d39e"/><stop offset="14.89%" stop-color="#f3daa7"/><stop offset="16.75%" stop-color="#f4deab"/><stop offset="32.92%" stop-color="#f5e1af"/><stop offset="80.73%" stop-color="#f5e0ae"/><stop offset="81.16%" stop-color="#f4ddab"/><stop offset="81.45%" stop-color="#f1d29c"/><stop offset="81.59%" stop-color="#f0cf99"/><stop offset="82.02%" stop-color="#f4deac"/><stop offset="82.31%" stop-color="#f5e0af"/><stop offset="85.74%" stop-color="#f5e0ae"/><stop offset="86.03%" stop-color="#f4deac"/><stop offset="86.46%" stop-color="#f2d6a1"/><stop offset="86.89%" stop-color="#f4deac"/><stop offset="87.17%" stop-color="#f5e0ae"/><stop offset="94.05%" stop-color="#f4deac"/><stop offset="95.62%" stop-color="#f3daa7"/><stop offset="96.19%" stop-color="#f1d39e"/><stop offset="96.34%" stop-color="#f0cc96"/><stop offset="96.48%" stop-color="#edc289"/><stop offset="96.62%" stop-color="#e9b275"/><stop offset="97.05%" stop-color="#944236"/><stop offset="97.19%" stop-color="#822c2b"/><stop offset="97.34%" stop-color="#842d2c"/><stop offset="97.48%" stop-color="#974538"/><stop offset="97.91%" stop-color="#e9b478"/><stop offset="98.05%" stop-color="#edc38b"/><stop offset="98.2%" stop-color="#f0cd97"/><stop offset="98.34%" stop-color="#f1d39e"/><stop offset="98.63%" stop-color="#f3d8a4"/><stop offset="99.91%" stop-color="#f4ddaa"/></linearGradient>
<linearGradient id="h39" gradientUnits="userSpaceOnUse" x1="0" y1="553" x2="0" y2="902.3"><stop offset="0%" stop-color="#f5e3b1"/><stop offset="8.02%" stop-color="#f5e1b0"/><stop offset="10.88%" stop-color="#f3dba9"/><stop offset="11.31%" stop-color="#f2d8a4"/><stop offset="11.59%" stop-color="#f1d19c"/><stop offset="11.88%" stop-color="#eec58c"/><stop offset="12.45%" stop-color="#d8965f"/><stop offset="12.6%" stop-color="#cf8b5a"/><stop offset="12.74%" stop-color="#ce8959"/><stop offset="12.88%" stop-color="#d38f5c"/><stop offset="13.03%" stop-color="#de9d63"/><stop offset="13.6%" stop-color="#efc891"/><stop offset="14.03%" stop-color="#f2d6a2"/><stop offset="14.89%" stop-color="#f4ddab"/><stop offset="16.89%" stop-color="#f5e1af"/><stop offset="32.92%" stop-color="#f6e4b3"/><stop offset="80.73%" stop-color="#f6e4b2"/><stop offset="81.16%" stop-color="#f5e1af"/><stop offset="81.45%" stop-color="#f2d5a1"/><stop offset="81.59%" stop-color="#f1d29d"/><stop offset="82.02%" stop-color="#f5e1af"/><stop offset="82.31%" stop-color="#f6e4b2"/><stop offset="85.74%" stop-color="#f6e4b2"/><stop offset="86.03%" stop-color="#f5e1b0"/><stop offset="86.46%" stop-color="#f3d9a5"/><stop offset="86.89%" stop-color="#f5e1b0"/><stop offset="87.17%" stop-color="#f6e3b2"/><stop offset="93.9%" stop-color="#f5e1b0"/><stop offset="95.62%" stop-color="#f4ddab"/><stop offset="96.19%" stop-color="#f2d6a2"/><stop offset="96.34%" stop-color="#f1d19b"/><stop offset="96.48%" stop-color="#eec790"/><stop offset="96.62%" stop-color="#ebb97e"/><stop offset="97.05%" stop-color="#ac5f44"/><stop offset="97.19%" stop-color="#9c4c3b"/><stop offset="97.34%" stop-color="#9d4d3b"/><stop offset="97.48%" stop-color="#ae6246"/><stop offset="97.91%" stop-color="#ebbb81"/><stop offset="98.05%" stop-color="#efc992"/><stop offset="98.2%" stop-color="#f1d29d"/><stop offset="98.34%" stop-color="#f2d7a3"/><stop offset="98.63%" stop-color="#f4dca9"/><stop offset="99.91%" stop-color="#f5e0ae"/></linearGradient>
<linearGradient id="h40" gradientUnits="userSpaceOnUse" x1="0" y1="553" x2="0" y2="902.3"><stop offset="0%" stop-color="#f5e3b2"/><stop offset="8.3%" stop-color="#f5e1b0"/><stop offset="11.02%" stop-color="#f3dca9"/><stop offset="11.45%" stop-color="#f2d6a2"/><stop offset="11.74%" stop-color="#f0cd97"/><stop offset="12.02%" stop-color="#ecbd83"/><stop offset="12.45%" stop-color="#d99760"/><stop offset="12.6%" stop-color="#cf8b5a"/><stop offset="12.74%" stop-color="#cd8859"/><stop offset="12.88%" stop-color="#d28e5c"/><stop offset="13.03%" stop-color="#dd9c63"/><stop offset="13.6%" stop-color="#efc992"/><stop offset="14.03%" stop-color="#f2d7a3"/><stop offset="14.89%" stop-color="#f4deab"/><stop offset="16.75%" stop-color="#f5e1b0"/><stop offset="32.92%" stop-color="#f6e5b4"/><stop offset="80.73%" stop-color="#f6e4b3"/><stop offset="81.02%" stop-color="#f5e2b1"/><stop offset="81.45%" stop-color="#f2d49f"/><stop offset="81.59%" stop-color="#f2d4a0"/><stop offset="82.02%" stop-color="#f5e3b1"/><stop offset="82.31%" stop-color="#f6e4b3"/><stop offset="85.74%" stop-color="#f6e4b3"/><stop offset="86.03%" stop-color="#f5e1b0"/><stop offset="86.46%" stop-color="#f3d9a5"/><stop offset="86.89%" stop-color="#f5e2b0"/><stop offset="87.17%" stop-color="#f6e4b3"/><stop offset="94.33%" stop-color="#f5e2b0"/><stop offset="95.76%" stop-color="#f4deab"/><stop offset="96.19%" stop-color="#f3d8a4"/><stop offset="96.34%" stop-color="#f1d29d"/><stop offset="96.48%" stop-color="#eec891"/><stop offset="96.62%" stop-color="#ebb97e"/><stop offset="97.05%" stop-color="#a0503d"/><stop offset="97.19%" stop-color="#8d3931"/><stop offset="97.34%" stop-color="#8d3831"/><stop offset="97.48%" stop-color="#9f4f3c"/><stop offset="97.91%" stop-color="#eab87d"/><stop offset="98.05%" stop-color="#eec890"/><stop offset="98.2%" stop-color="#f1d29d"/><stop offset="98.34%" stop-color="#f3d8a4"/><stop offset="98.63%" stop-color="#f4ddaa"/><stop offset="99.91%" stop-color="#f5e1af"/></linearGradient>
<linearGradient id="h41" gradientUnits="userSpaceOnUse" x1="0" y1="553" x2="0" y2="902.3"><stop offset="0%" stop-color="#f5e3b1"/><stop offset="8.02%" stop-color="#f5e1b0"/><stop offset="10.88%" stop-color="#f3dba8"/><stop offset="11.31%" stop-color="#f2d7a3"/><stop offset="11.59%" stop-color="#f1d19b"/><stop offset="11.88%" stop-color="#edc48b"/><stop offset="12.45%" stop-color="#d7955f"/><stop offset="12.6%" stop-color="#cf8b5a"/><stop offset="12.74%" stop-color="#ce8959"/><stop offset="12.88%" stop-color="#d4905d"/><stop offset="13.03%" stop-color="#df9f64"/><stop offset="13.6%" stop-color="#efc891"/><stop offset="14.03%" stop-color="#f2d6a2"/><stop offset="14.89%" stop-color="#f4ddaa"/><stop offset="16.89%" stop-color="#f5e1af"/><stop offset="32.92%" stop-color="#f6e4b4"/><stop offset="80.73%" stop-color="#f6e4b3"/><stop offset="81.02%" stop-color="#f5e3b1"/><stop offset="81.16%" stop-color="#f5e0ae"/><stop offset="81.45%" stop-color="#f2d4a0"/><stop offset="81.59%" stop-color="#f1d49f"/><stop offset="82.02%" stop-color="#f5e2b1"/><stop offset="82.31%" stop-color="#f6e4b3"/><stop offset="85.74%" stop-color="#f6e4b3"/><stop offset="86.03%" stop-color="#f5e2b1"/><stop offset="86.46%" stop-color="#f3daa6"/><stop offset="87.03%" stop-color="#f5e3b1"/><stop offset="87.32%" stop-color="#f6e4b3"/><stop offset="94.19%" stop-color="#f5e1b0"/><stop offset="95.76%" stop-color="#f4ddaa"/><stop offset="96.19%" stop-color="#f2d5a0"/><stop offset="96.34%" stop-color="#f0cd96"/><stop offset="96.48%" stop-color="#ecc087"/><stop offset="96.62%" stop-color="#e8ad70"/><stop offset="96.91%" stop-color="#a55740"/><stop offset="97.05%" stop-color="#87312d"/><stop offset="97.19%" stop-color="#781f25"/><stop offset="97.34%" stop-color="#7e2728"/><stop offset="97.48%" stop-color="#984638"/><stop offset="97.77%" stop-color="#e1a165"/><stop offset="97.91%" stop-color="#ebb97e"/><stop offset="98.05%" stop-color="#eec890"/><stop offset="98.2%" stop-color="#f1d19c"/><stop offset="98.34%" stop-color="#f2d7a3"/><stop offset="98.63%" stop-color="#f4dca9"/><stop offset="99.91%" stop-color="#f5e0ae"/></linearGradient>
<linearGradient id="h42" gradientUnits="userSpaceOnUse" x1="0" y1="553" x2="0" y2="902.3"><stop offset="0%" stop-color="#f5e1af"/><stop offset="8.3%" stop-color="#f5e0ae"/><stop offset="11.02%" stop-color="#f3daa7"/><stop offset="11.45%" stop-color="#f2d5a1"/><stop offset="11.74%" stop-color="#f0cc96"/><stop offset="12.02%" stop-color="#ebbc81"/><stop offset="12.45%" stop-color="#d8955f"/><stop offset="12.6%" stop-color="#cf8b5a"/><stop offset="12.74%" stop-color="#cd8959"/><stop offset="12.88%" stop-color="#d38f5c"/><stop offset="13.03%" stop-color="#de9e63"/><stop offset="13.6%" stop-color="#efc992"/><stop offset="14.03%" stop-color="#f2d6a2"/><stop offset="14.74%" stop-color="#f4dca9"/><stop offset="16.6%" stop-color="#f4dfad"/><stop offset="33.07%" stop-color="#f5e3b1"/><stop offset="80.73%" stop-color="#f5e2b0"/><stop offset="81.16%" stop-color="#f4deac"/><stop offset="81.45%" stop-color="#f1d29d"/><stop offset="81.59%" stop-color="#f1d09a"/><stop offset="82.02%" stop-color="#f5e0ae"/><stop offset="82.31%" stop-color="#f5e2b0"/><stop offset="85.74%" stop-color="#f5e2b0"/><stop offset="86.03%" stop-color="#f5e0ae"/><stop offset="86.46%" stop-color="#f2d7a3"/><stop offset="87.03%" stop-color="#f5e1af"/><stop offset="87.32%" stop-color="#f5e2b0"/><stop offset="94.05%" stop-color="#f5e0ae"/><stop offset="95.62%" stop-color="#f4dca9"/><stop offset="95.91%" stop-color="#f3daa7"/><stop offset="96.19%" stop-color="#f2d4a0"/><stop offset="96.34%" stop-color="#f0ce98"/><stop offset="96.48%" stop-color="#edc38b"/><stop offset="96.62%" stop-color="#e9b478"/><stop offset="96.91%" stop-color="#bc734e"/><stop offset="97.05%" stop-color="#a2533e"/><stop offset="97.19%" stop-color="#964437"/><stop offset="97.34%" stop-color="#9a4a3a"/><stop offset="97.48%" stop-color="#af6346"/><stop offset="97.91%" stop-color="#ebbc82"/><stop offset="98.05%" stop-color="#efc992"/><stop offset="98.2%" stop-color="#f1d19c"/><stop offset="98.34%" stop-color="#f2d6a2"/><stop offset="98.63%" stop-color="#f3daa7"/><stop offset="99.91%" stop-color="#f4deac"/></linearGradient>
<linearGradient id="h43" gradientUnits="userSpaceOnUse" x1="0" y1="553" x2="0" y2="902.3"><stop offset="0%" stop-color="#f5e1af"/><stop offset="8.16%" stop-color="#f4dfad"/><stop offset="10.88%" stop-color="#f3d9a6"/><stop offset="11.31%" stop-color="#f2d5a1"/><stop offset="11.59%" stop-color="#f0ce98"/><stop offset="11.88%" stop-color="#ecbf86"/><stop offset="12.45%" stop-color="#c68055"/><stop offset="12.6%" stop-color="#bd744f"/><stop offset="12.74%" stop-color="#bb724e"/><stop offset="12.88%" stop-color="#c27a52"/><stop offset="13.03%" stop-color="#d08b5a"/><stop offset="13.6%" stop-color="#eec58d"/><stop offset="13.74%" stop-color="#f0cc96"/><stop offset="14.03%" stop-color="#f2d5a0"/><stop offset="14.74%" stop-color="#f3dba8"/><stop offset="16.6%" stop-color="#f4dfad"/><stop offset="32.92%" stop-color="#f5e2b1"/><stop offset="80.73%" stop-color="#f5e2b0"/><stop offset="81.02%" stop-color="#f5e1af"/><stop offset="81.45%" stop-color="#f1d39e"/><stop offset="81.59%" stop-color="#f1d39e"/><stop offset="82.02%" stop-color="#f5e0af"/><stop offset="82.31%" stop-color="#f5e2b0"/><stop offset="85.74%" stop-color="#f5e2b0"/><stop offset="86.03%" stop-color="#f5e0ae"/><stop offset="86.46%" stop-color="#f2d6a2"/><stop offset="87.03%" stop-color="#f5e1af"/><stop offset="87.32%" stop-color="#f5e2b0"/><stop offset="94.19%" stop-color="#f4dfad"/><stop offset="95.76%" stop-color="#f3dba8"/><stop offset="96.19%" stop-color="#f2d49f"/><stop offset="96.34%" stop-color="#f0cd97"/><stop offset="96.48%" stop-color="#edc188"/><stop offset="96.62%" stop-color="#e8b073"/><stop offset="96.91%" stop-color="#ae6145"/><stop offset="97.05%" stop-color="#903d33"/><stop offset="97.19%" stop-color="#812b2a"/><stop offset="97.34%" stop-color="#86312d"/><stop offset="97.48%" stop-color="#9d4d3b"/><stop offset="97.91%" stop-color="#eab87d"/><stop offset="98.05%" stop-color="#eec78f"/><stop offset="98.2%" stop-color="#f1d09b"/><stop offset="98.34%" stop-color="#f2d6a1"/><stop offset="98.63%" stop-color="#f3daa7"/><stop offset="99.91%" stop-color="#f4deac"/></linearGradient>
<linearGradient id="h44" gradientUnits="userSpaceOnUse" x1="0" y1="553" x2="0" y2="902.3"><stop offset="0%" stop-color="#f5e0ae"/><stop offset="8.16%" stop-color="#f4dfac"/><stop offset="10.88%" stop-color="#f3d9a6"/><stop offset="11.31%" stop-color="#f2d5a1"/><stop offset="11.59%" stop-color="#f0cf99"/><stop offset="11.88%" stop-color="#edc289"/><stop offset="12.45%" stop-color="#d4915d"/><stop offset="12.6%" stop-color="#cd8859"/><stop offset="12.74%" stop-color="#cc8758"/><stop offset="12.88%" stop-color="#d38f5c"/><stop offset="13.03%" stop-color="#df9e63"/><stop offset="13.6%" stop-color="#eec890"/><stop offset="14.03%" stop-color="#f2d5a0"/><stop offset="14.89%" stop-color="#f3dba8"/><stop offset="16.75%" stop-color="#f4deac"/><stop offset="32.92%" stop-color="#f5e2b0"/><stop offset="80.73%" stop-color="#f5e1af"/><stop offset="81.16%" stop-color="#f4deab"/><stop offset="81.45%" stop-color="#f1d39e"/><stop offset="81.59%" stop-color="#f1d19c"/><stop offset="82.02%" stop-color="#f4dfad"/><stop offset="82.31%" stop-color="#f5e1af"/><stop offset="85.74%" stop-color="#f5e1af"/><stop offset="86.03%" stop-color="#f4dfad"/><stop offset="86.46%" stop-color="#f2d6a1"/><stop offset="87.03%" stop-color="#f5e0ae"/><stop offset="87.32%" stop-color="#f5e1af"/><stop offset="94.05%" stop-color="#f4dfad"/><stop offset="95.62%" stop-color="#f3dba8"/><stop offset="95.91%" stop-color="#f3d9a6"/><stop offset="96.19%" stop-color="#f2d49f"/><stop offset="96.34%" stop-color="#f0cd97"/><stop offset="96.48%" stop-color="#edc38a"/><stop offset="96.62%" stop-color="#e9b478"/><stop offset="96.91%" stop-color="#bc734e"/><stop offset="97.05%" stop-color="#a2533e"/><stop offset="97.19%" stop-color="#964437"/><stop offset="97.34%" stop-color="#9a4939"/><stop offset="97.48%" stop-color="#ae6246"/><stop offset="97.91%" stop-color="#ebbc81"/><stop offset="98.05%" stop-color="#efc891"/><stop offset="98.2%" stop-color="#f1d19b"/><stop offset="98.34%" stop-color="#f2d5a1"/><stop offset="98.63%" stop-color="#f3d9a6"/><stop offset="99.91%" stop-color="#f4deab"/></linearGradient>
<linearGradient id="h45" gradientUnits="userSpaceOnUse" x1="0" y1="553" x2="0" y2="902.3"><stop offset="0%" stop-color="#f5e2b1"/><stop offset="8.3%" stop-color="#f5e1af"/><stop offset="11.02%" stop-color="#f3daa7"/><stop offset="11.45%" stop-color="#f2d5a0"/><stop offset="11.74%" stop-color="#efcb94"/><stop offset="12.02%" stop-color="#ebb97f"/><stop offset="12.45%" stop-color="#ce8a59"/><stop offset="12.6%" stop-color="#c37c53"/><stop offset="12.74%" stop-color="#c07851"/><stop offset="12.88%" stop-color="#c47e53"/><stop offset="13.03%" stop-color="#d08c5b"/><stop offset="13.6%" stop-color="#eec58d"/><stop offset="13.74%" stop-color="#f0cc96"/><stop offset="14.03%" stop-color="#f2d5a1"/><stop offset="14.74%" stop-color="#f4dca9"/><stop offset="16.6%" stop-color="#f5e0ae"/><stop offset="32.78%" stop-color="#f6e4b3"/><stop offset="80.73%" stop-color="#f5e3b2"/><stop offset="81.16%" stop-color="#f5e0ae"/><stop offset="81.45%" stop-color="#f2d5a1"/><stop offset="81.59%" stop-color="#f1d49f"/><stop offset="82.02%" stop-color="#f5e1b0"/><stop offset="82.31%" stop-color="#f5e3b2"/><stop offset="85.74%" stop-color="#f5e3b2"/><stop offset="86.03%" stop-color="#f5e1af"/><stop offset="86.46%" stop-color="#f2d7a3"/><stop offset="86.89%" stop-color="#f5e0af"/><stop offset="87.17%" stop-color="#f5e3b2"/><stop offset="94.05%" stop-color="#f5e1af"/><stop offset="95.62%" stop-color="#f4ddab"/><stop offset="96.19%" stop-color="#f2d6a2"/><stop offset="96.34%" stop-color="#f1d09b"/><stop offset="96.48%" stop-color="#eec78f"/><stop offset="96.62%" stop-color="#eab87d"/><stop offset="97.05%" stop-color="#a75941"/><stop offset="97.19%" stop-color="#974638"/><stop offset="97.34%" stop-color="#994738"/><stop offset="97.48%" stop-color="#ab5d44"/><stop offset="97.91%" stop-color="#ebba80"/><stop offset="98.05%" stop-color="#efc891"/><stop offset="98.2%" stop-color="#f1d19c"/><stop offset="98.34%" stop-color="#f2d7a3"/><stop offset="98.63%" stop-color="#f3dba8"/><stop offset="99.91%" stop-color="#f5e0ae"/></linearGradient>
<linearGradient id="h46" gradientUnits="userSpaceOnUse" x1="0" y1="553" x2="0" y2="902.3"><stop offset="0%" stop-color="#f4deab"/><stop offset="8.3%" stop-color="#f4dca9"/><stop offset="11.02%" stop-color="#f2d6a2"/><stop offset="11.45%" stop-color="#f1d19b"/><stop offset="11.74%" stop-color="#efc891"/><stop offset="12.02%" stop-color="#eab87d"/><stop offset="12.45%" stop-color="#cf8b5a"/><stop offset="12.6%" stop-color="#c47e53"/><stop offset="12.74%" stop-color="#c07851"/><stop offset="12.88%" stop-color="#c47d53"/><stop offset="13.03%" stop-color="#ce8a59"/><stop offset="13.6%" stop-color="#edc188"/><stop offset="13.74%" stop-color="#efc891"/><stop offset="14.03%" stop-color="#f1d19c"/><stop offset="14.74%" stop-color="#f3d8a4"/><stop offset="16.6%" stop-color="#f4dca9"/><stop offset="32.92%" stop-color="#f4dfad"/><stop offset="80.73%" stop-color="#f4dfac"/><stop offset="81.16%" stop-color="#f3daa7"/><stop offset="81.45%" stop-color="#f0cd96"/><stop offset="81.59%" stop-color="#efcb94"/><stop offset="82.02%" stop-color="#f4ddaa"/><stop offset="82.31%" stop-color="#f4dfac"/><stop offset="85.74%" stop-color="#f4dfac"/><stop offset="86.03%" stop-color="#f4ddaa"/><stop offset="86.46%" stop-color="#f1d39e"/><stop offset="86.89%" stop-color="#f4dca9"/><stop offset="87.17%" stop-color="#f4deac"/><stop offset="94.19%" stop-color="#f4dca9"/><stop offset="95.62%" stop-color="#f3d9a5"/><stop offset="95.91%" stop-color="#f2d7a2"/><stop offset="96.19%" stop-color="#f1d19b"/><stop offset="96.34%" stop-color="#efca93"/><stop offset="96.48%" stop-color="#ecbf85"/><stop offset="96.62%" stop-color="#e8ad70"/><stop offset="97.05%" stop-color="#88332e"/><stop offset="97.19%" stop-color="#771d24"/><stop offset="97.34%" stop-color="#792025"/><stop offset="97.48%" stop-color="#8e3b32"/><stop offset="97.91%" stop-color="#e9b275"/><stop offset="98.05%" stop-color="#edc189"/><stop offset="98.2%" stop-color="#efcc95"/><stop offset="98.34%" stop-color="#f1d29d"/><stop offset="98.63%" stop-color="#f2d7a3"/><stop offset="99.91%" stop-color="#f3dba8"/></linearGradient>
<linearGradient id="h47" gradientUnits="userSpaceOnUse" x1="0" y1="553" x2="0" y2="902.3"><stop offset="0%" stop-color="#f4dfad"/><stop offset="8.02%" stop-color="#f4deab"/><stop offset="10.88%" stop-color="#f3d9a5"/><stop offset="11.45%" stop-color="#f1d39e"/><stop offset="11.74%" stop-color="#efcb94"/><stop offset="12.02%" stop-color="#ebbc81"/><stop offset="12.45%" stop-color="#db9961"/><stop offset="12.6%" stop-color="#d28e5c"/><stop offset="12.74%" stop-color="#d08b5a"/><stop offset="12.88%" stop-color="#d4915d"/><stop offset="13.03%" stop-color="#de9d63"/><stop offset="13.6%" stop-color="#eec78f"/><stop offset="14.03%" stop-color="#f2d49f"/><stop offset="14.89%" stop-color="#f3daa7"/><stop offset="16.75%" stop-color="#f4ddab"/><stop offset="33.07%" stop-color="#f5e0af"/><stop offset="80.73%" stop-color="#f5e0ae"/><stop offset="81.02%" stop-color="#f4dfac"/><stop offset="81.16%" stop-color="#f3dba9"/><stop offset="81.45%" stop-color="#f0cf99"/><stop offset="81.59%" stop-color="#f0ce97"/><stop offset="82.02%" stop-color="#f4deac"/><stop offset="82.31%" stop-color="#f5e0ae"/><stop offset="85.74%" stop-color="#f5e0ae"/><stop offset="86.03%" stop-color="#f4ddab"/><stop offset="86.46%" stop-color="#f1d39e"/><stop offset="86.89%" stop-color="#f4ddaa"/><stop offset="87.17%" stop-color="#f5e0ae"/><stop offset="94.19%" stop-color="#f4deab"/><stop offset="95.62%" stop-color="#f3daa7"/><stop offset="96.19%" stop-color="#f1d49f"/><stop offset="96.34%" stop-color="#f0ce98"/><stop offset="96.48%" stop-color="#eec48c"/><stop offset="96.62%" stop-color="#eab67a"/><stop offset="97.05%" stop-color="#a3543f"/><stop offset="97.19%" stop-color="#923f34"/><stop offset="97.34%" stop-color="#923f35"/><stop offset="97.48%" stop-color="#a3553f"/><stop offset="97.91%" stop-color="#eab77b"/><stop offset="98.05%" stop-color="#eec58d"/><stop offset="98.2%" stop-color="#f0ce98"/><stop offset="98.34%" stop-color="#f1d49f"/><stop offset="98.63%" stop-color="#f3d8a5"/><stop offset="99.91%" stop-color="#f4ddaa"/></linearGradient>
<linearGradient id="h48" gradientUnits="userSpaceOnUse" x1="0" y1="553" x2="0" y2="902.3"><stop offset="0%" stop-color="#f5e2b0"/><stop offset="8.3%" stop-color="#f5e0af"/><stop offset="11.02%" stop-color="#f3dba8"/><stop offset="11.31%" stop-color="#f3d8a4"/><stop offset="11.59%" stop-color="#f1d19c"/><stop offset="11.88%" stop-color="#edc38a"/><stop offset="12.45%" stop-color="#d08c5a"/><stop offset="12.6%" stop-color="#c88255"/><stop offset="12.74%" stop-color="#c78155"/><stop offset="12.88%" stop-color="#ce8a59"/><stop offset="13.03%" stop-color="#dc9a62"/><stop offset="13.46%" stop-color="#edc188"/><stop offset="13.6%" stop-color="#efca93"/><stop offset="13.88%" stop-color="#f2d4a0"/><stop offset="14.6%" stop-color="#f4dca9"/><stop offset="16.46%" stop-color="#f5e0ae"/><stop offset="32.92%" stop-color="#f6e3b2"/><stop offset="80.73%" stop-color="#f5e3b1"/><stop offset="81.02%" stop-color="#f5e1af"/><stop offset="81.16%" stop-color="#f4ddab"/><stop offset="81.45%" stop-color="#f1d09a"/><stop offset="81.59%" stop-color="#f1d09a"/><stop offset="81.88%" stop-color="#f4ddab"/><stop offset="82.02%" stop-color="#f5e1af"/><stop offset="82.31%" stop-color="#f5e3b1"/><stop offset="85.74%" stop-color="#f5e3b1"/><stop offset="86.03%" stop-color="#f5e0ae"/><stop offset="86.46%" stop-color="#f2d6a2"/><stop offset="86.89%" stop-color="#f5e0ae"/><stop offset="87.17%" stop-color="#f5e2b1"/><stop offset="94.19%" stop-color="#f5e0ae"/><stop offset="95.62%" stop-color="#f4dcaa"/><stop offset="95.91%" stop-color="#f3daa7"/><stop offset="96.19%" stop-color="#f2d4a0"/><stop offset="96.34%" stop-color="#f0cd97"/><stop offset="96.48%" stop-color="#edc289"/><stop offset="96.62%" stop-color="#e8b174"/><stop offset="97.05%" stop-color="#8b3630"/><stop offset="97.19%" stop-color="#781f24"/><stop offset="97.34%" stop-color="#7a2125"/><stop offset="97.48%" stop-color="#8f3b33"/><stop offset="97.91%" stop-color="#e9b478"/><stop offset="98.05%" stop-color="#eec48c"/><stop offset="98.2%" stop-color="#f0cf99"/><stop offset="98.34%" stop-color="#f2d5a1"/><stop offset="98.63%" stop-color="#f3dba7"/><stop offset="99.91%" stop-color="#f4dfad"/></linearGradient>
<linearGradient id="h49" gradientUnits="userSpaceOnUse" x1="0" y1="553" x2="0" y2="902.3"><stop offset="0%" stop-color="#f5e0ae"/><stop offset="8.3%" stop-color="#f4dfad"/><stop offset="11.02%" stop-color="#f3d9a5"/><stop offset="11.45%" stop-color="#f1d39e"/><stop offset="11.74%" stop-color="#efca93"/><stop offset="12.02%" stop-color="#eab87d"/><stop offset="12.45%" stop-color="#cc8758"/><stop offset="12.6%" stop-color="#c27a52"/><stop offset="12.74%" stop-color="#bf7750"/><stop offset="12.88%" stop-color="#c47d53"/><stop offset="13.03%" stop-color="#d08c5b"/><stop offset="13.6%" stop-color="#eec48c"/><stop offset="13.74%" stop-color="#efcc95"/><stop offset="14.03%" stop-color="#f2d4a0"/><stop offset="14.74%" stop-color="#f3dba7"/><stop offset="16.6%" stop-color="#f4deac"/><stop offset="32.92%" stop-color="#f5e2b0"/><stop offset="80.73%" stop-color="#f5e1af"/><stop offset="81.16%" stop-color="#f4deab"/><stop offset="81.45%" stop-color="#f1d29d"/><stop offset="81.59%" stop-color="#f1d09b"/><stop offset="82.02%" stop-color="#f4dfad"/><stop offset="82.31%" stop-color="#f5e1b0"/><stop offset="85.74%" stop-color="#f5e1b0"/><stop offset="86.03%" stop-color="#f4dfad"/><stop offset="86.46%" stop-color="#f2d5a0"/><stop offset="86.6%" stop-color="#f2d6a2"/><stop offset="87.03%" stop-color="#f5e0ae"/><stop offset="87.32%" stop-color="#f5e1b0"/><stop offset="94.05%" stop-color="#f4dfad"/><stop offset="95.62%" stop-color="#f3dba8"/><stop offset="96.19%" stop-color="#f1d39f"/><stop offset="96.34%" stop-color="#f0cd97"/><stop offset="96.48%" stop-color="#edc38b"/><stop offset="96.62%" stop-color="#e9b478"/><stop offset="97.05%" stop-color="#9b4a3a"/><stop offset="97.19%" stop-color="#89342f"/><stop offset="97.34%" stop-color="#89342f"/><stop offset="97.48%" stop-color="#9b4b3a"/><stop offset="97.91%" stop-color="#e9b479"/><stop offset="98.05%" stop-color="#edc48b"/><stop offset="98.2%" stop-color="#f0ce98"/><stop offset="98.34%" stop-color="#f1d49f"/><stop offset="98.63%" stop-color="#f3d9a5"/><stop offset="99.91%" stop-color="#f4deab"/></linearGradient>
<linearGradient id="h50" gradientUnits="userSpaceOnUse" x1="0" y1="553" x2="0" y2="902.3"><stop offset="0%" stop-color="#f5e1af"/><stop offset="8.16%" stop-color="#f5e0ae"/><stop offset="10.88%" stop-color="#f3daa7"/><stop offset="11.31%" stop-color="#f2d5a1"/><stop offset="11.59%" stop-color="#f0cd97"/><stop offset="11.88%" stop-color="#ecbd83"/><stop offset="12.31%" stop-color="#d08c5a"/><stop offset="12.45%" stop-color="#c17a51"/><stop offset="12.6%" stop-color="#ba704d"/><stop offset="12.74%" stop-color="#ba714d"/><stop offset="12.88%" stop-color="#c37c53"/><stop offset="13.46%" stop-color="#ecbe84"/><stop offset="13.6%" stop-color="#eec78f"/><stop offset="13.74%" stop-color="#f0ce98"/><stop offset="14.03%" stop-color="#f2d5a1"/><stop offset="14.89%" stop-color="#f4dca9"/><stop offset="16.6%" stop-color="#f4dfad"/><stop offset="32.92%" stop-color="#f5e3b1"/><stop offset="80.73%" stop-color="#f5e2b0"/><stop offset="81.02%" stop-color="#f5e1af"/><stop offset="81.16%" stop-color="#f4deab"/><stop offset="81.45%" stop-color="#f1d29c"/><stop offset="81.59%" stop-color="#f1d19b"/><stop offset="82.02%" stop-color="#f5e0ae"/><stop offset="82.31%" stop-color="#f5e2b0"/><stop offset="85.74%" stop-color="#f5e2b0"/><stop offset="86.03%" stop-color="#f5e0ae"/><stop offset="86.46%" stop-color="#f2d7a3"/><stop offset="86.89%" stop-color="#f5e0ae"/><stop offset="87.17%" stop-color="#f5e2b0"/><stop offset="94.05%" stop-color="#f5e0ad"/><stop offset="95.62%" stop-color="#f4dca9"/><stop offset="96.19%" stop-color="#f2d4a0"/><stop offset="96.34%" stop-color="#f0ce98"/><stop offset="96.48%" stop-color="#eec48c"/><stop offset="96.62%" stop-color="#eab579"/><stop offset="97.05%" stop-color="#9e4d3c"/><stop offset="97.19%" stop-color="#8c3831"/><stop offset="97.34%" stop-color="#8d3931"/><stop offset="97.48%" stop-color="#9f4f3c"/><stop offset="97.91%" stop-color="#eab67a"/><stop offset="98.05%" stop-color="#eec58d"/><stop offset="98.2%" stop-color="#f0cf99"/><stop offset="98.34%" stop-color="#f2d5a0"/><stop offset="98.63%" stop-color="#f3daa6"/><stop offset="99.91%" stop-color="#f4deac"/></linearGradient>
<pattern id="nzf" href="#nz" patternTransform="translate(571.82,553) scale(1,0.9)"/>
<linearGradient id="h51" gradientUnits="userSpaceOnUse" x1="0" y1="553" x2="0" y2="902.3"><stop offset="0%" stop-color="#f6e4b4"/><stop offset="12.17%" stop-color="#f5e3b1"/><stop offset="14.31%" stop-color="#f4deab"/><stop offset="18.61%" stop-color="#efc991"/><stop offset="21.76%" stop-color="#ecc086"/><stop offset="23.62%" stop-color="#ecbe84"/><stop offset="26.2%" stop-color="#eec58d"/><stop offset="27.05%" stop-color="#eec58c"/><stop offset="27.63%" stop-color="#edc087"/><stop offset="28.2%" stop-color="#eab87c"/><stop offset="28.77%" stop-color="#e7a96b"/><stop offset="30.06%" stop-color="#ae6246"/><stop offset="30.49%" stop-color="#a2533e"/><stop offset="30.78%" stop-color="#9f503d"/><stop offset="31.21%" stop-color="#a3553f"/><stop offset="31.63%" stop-color="#b06547"/><stop offset="33.21%" stop-color="#eab87d"/><stop offset="34.07%" stop-color="#efcc95"/><stop offset="35.07%" stop-color="#f2d7a3"/><stop offset="36.5%" stop-color="#f4ddab"/><stop offset="40.51%" stop-color="#f5e3b1"/><stop offset="47.95%" stop-color="#f6e5b4"/><stop offset="49.81%" stop-color="#f5e3b2"/><stop offset="52.1%" stop-color="#f3daa7"/><stop offset="54.25%" stop-color="#f5e3b2"/><stop offset="55.54%" stop-color="#f6e5b4"/><stop offset="72.72%" stop-color="#f5e0ae"/><stop offset="74.72%" stop-color="#f3dba7"/><stop offset="75.87%" stop-color="#f0cf99"/><stop offset="76.72%" stop-color="#ebb97e"/><stop offset="78.16%" stop-color="#af6346"/><stop offset="78.59%" stop-color="#a1523e"/><stop offset="78.87%" stop-color="#9f4f3c"/><stop offset="79.16%" stop-color="#a2523e"/><stop offset="79.59%" stop-color="#af6346"/><stop offset="80.73%" stop-color="#e7aa6c"/><stop offset="81.31%" stop-color="#ebb97f"/><stop offset="81.88%" stop-color="#edc38a"/><stop offset="82.59%" stop-color="#efc991"/><stop offset="84.31%" stop-color="#f0cd97"/><stop offset="84.74%" stop-color="#efc891"/><stop offset="85.17%" stop-color="#ecbd83"/><stop offset="85.46%" stop-color="#ebba80"/><stop offset="85.6%" stop-color="#ecbd83"/><stop offset="86.17%" stop-color="#f1d19b"/><stop offset="86.46%" stop-color="#f2d7a3"/><stop offset="87.89%" stop-color="#f4dfad"/><stop offset="91.18%" stop-color="#f6e4b3"/><stop offset="99.91%" stop-color="#f6e4b3"/></linearGradient>
<linearGradient id="h52" gradientUnits="userSpaceOnUse" x1="0" y1="553" x2="0" y2="902.3"><stop offset="0%" stop-color="#f7e8b7"/><stop offset="12.31%" stop-color="#f6e5b5"/><stop offset="14.6%" stop-color="#f5e0ae"/><stop offset="18.75%" stop-color="#efcb95"/><stop offset="21.61%" stop-color="#edc38b"/><stop offset="23.62%" stop-color="#edc188"/><stop offset="26.05%" stop-color="#eec68e"/><stop offset="26.91%" stop-color="#eec58d"/><stop offset="27.63%" stop-color="#ecbf86"/><stop offset="28.2%" stop-color="#e9b478"/><stop offset="28.77%" stop-color="#df9f64"/><stop offset="30.06%" stop-color="#964537"/><stop offset="30.49%" stop-color="#88322e"/><stop offset="30.78%" stop-color="#842d2c"/><stop offset="31.21%" stop-color="#88332e"/><stop offset="31.63%" stop-color="#974638"/><stop offset="33.21%" stop-color="#e9b276"/><stop offset="33.64%" stop-color="#ecc086"/><stop offset="34.21%" stop-color="#f0cd97"/><stop offset="35.36%" stop-color="#f3daa7"/><stop offset="37.5%" stop-color="#f5e2b0"/><stop offset="41.51%" stop-color="#f6e6b5"/><stop offset="48.67%" stop-color="#f7e7b7"/><stop offset="49.96%" stop-color="#f6e6b5"/><stop offset="52.1%" stop-color="#f4dcaa"/><stop offset="54.39%" stop-color="#f6e7b6"/><stop offset="56.11%" stop-color="#f7e8b8"/><stop offset="69.85%" stop-color="#f6e5b5"/><stop offset="73.86%" stop-color="#f5e1b0"/><stop offset="75.15%" stop-color="#f4dca9"/><stop offset="76.01%" stop-color="#f1d19c"/><stop offset="76.72%" stop-color="#edc087"/><stop offset="78.16%" stop-color="#c17951"/><stop offset="78.59%" stop-color="#b36849"/><stop offset="78.87%" stop-color="#af6346"/><stop offset="79.16%" stop-color="#b16547"/><stop offset="79.59%" stop-color="#bc734e"/><stop offset="80.73%" stop-color="#e8ae71"/><stop offset="81.31%" stop-color="#ecbd83"/><stop offset="81.88%" stop-color="#eec68e"/><stop offset="82.59%" stop-color="#efcb95"/><stop offset="84.31%" stop-color="#f1d09a"/><stop offset="84.74%" stop-color="#efcb95"/><stop offset="85.17%" stop-color="#edc289"/><stop offset="85.46%" stop-color="#ecc087"/><stop offset="86.46%" stop-color="#f3daa7"/><stop offset="87.03%" stop-color="#f4dfad"/><stop offset="88.18%" stop-color="#f5e3b2"/><stop offset="91.47%" stop-color="#f6e7b7"/><stop offset="99.91%" stop-color="#f7e7b7"/></linearGradient>
<linearGradient id="h53" gradientUnits="userSpaceOnUse" x1="0" y1="553" x2="0" y2="902.3"><stop offset="0%" stop-color="#f7e9b9"/><stop offset="12.31%" stop-color="#f6e7b6"/><stop offset="14.31%" stop-color="#f5e2b1"/><stop offset="18.61%" stop-color="#f0ce98"/><stop offset="22.19%" stop-color="#edc48b"/><stop offset="23.76%" stop-color="#edc289"/><stop offset="26.91%" stop-color="#eec68f"/><stop offset="27.63%" stop-color="#edc187"/><stop offset="28.2%" stop-color="#eab67b"/><stop offset="28.77%" stop-color="#e5a567"/><stop offset="30.06%" stop-color="#a2533f"/><stop offset="30.49%" stop-color="#964437"/><stop offset="30.78%" stop-color="#934035"/><stop offset="31.21%" stop-color="#974638"/><stop offset="31.63%" stop-color="#a65841"/><stop offset="33.21%" stop-color="#eab77b"/><stop offset="33.64%" stop-color="#edc38b"/><stop offset="34.21%" stop-color="#f0cf99"/><stop offset="34.78%" stop-color="#f2d7a3"/><stop offset="35.5%" stop-color="#f4dca9"/><stop offset="37.79%" stop-color="#f5e3b2"/><stop offset="41.8%" stop-color="#f6e7b7"/><stop offset="48.67%" stop-color="#f7e9b9"/><stop offset="49.96%" stop-color="#f6e7b7"/><stop offset="52.1%" stop-color="#f5dfad"/><stop offset="54.39%" stop-color="#f7e8b8"/><stop offset="56.11%" stop-color="#f7e9b9"/><stop offset="69.71%" stop-color="#f6e6b6"/><stop offset="73.86%" stop-color="#f5e2b0"/><stop offset="75.15%" stop-color="#f3dba9"/><stop offset="76.01%" stop-color="#f0d09a"/><stop offset="76.72%" stop-color="#ecbc82"/><stop offset="78.16%" stop-color="#b56a4a"/><stop offset="78.59%" stop-color="#a65841"/><stop offset="78.87%" stop-color="#a3553f"/><stop offset="79.16%" stop-color="#a65841"/><stop offset="79.59%" stop-color="#b36849"/><stop offset="80.73%" stop-color="#e7ad6f"/><stop offset="81.31%" stop-color="#ecbc82"/><stop offset="81.88%" stop-color="#eec68e"/><stop offset="82.59%" stop-color="#efcc95"/><stop offset="84.45%" stop-color="#f1d19b"/><stop offset="85.46%" stop-color="#edc188"/><stop offset="85.74%" stop-color="#eec68e"/><stop offset="86.17%" stop-color="#f2d49f"/><stop offset="86.6%" stop-color="#f4ddaa"/><stop offset="88.18%" stop-color="#f6e4b3"/><stop offset="91.47%" stop-color="#f7e8b8"/><stop offset="99.91%" stop-color="#f7e9b9"/></linearGradient>
<linearGradient id="h54" gradientUnits="userSpaceOnUse" x1="0" y1="553" x2="0" y2="902.3"><stop offset="0%" stop-color="#f6e5b5"/><stop offset="12.31%" stop-color="#f6e3b2"/><stop offset="14.31%" stop-color="#f4dfad"/><stop offset="18.47%" stop-color="#efcb95"/><stop offset="21.76%" stop-color="#edc289"/><stop offset="23.62%" stop-color="#ecc087"/><stop offset="26.91%" stop-color="#edc48b"/><stop offset="27.63%" stop-color="#ecbe84"/><stop offset="28.2%" stop-color="#e9b377"/><stop offset="28.77%" stop-color="#e1a065"/><stop offset="30.06%" stop-color="#9f503d"/><stop offset="30.49%" stop-color="#934035"/><stop offset="30.78%" stop-color="#903d33"/><stop offset="31.21%" stop-color="#954236"/><stop offset="31.63%" stop-color="#a3553f"/><stop offset="33.21%" stop-color="#e9b478"/><stop offset="33.64%" stop-color="#edc087"/><stop offset="34.21%" stop-color="#f0cc96"/><stop offset="35.5%" stop-color="#f3d9a6"/><stop offset="37.79%" stop-color="#f5e0ae"/><stop offset="41.8%" stop-color="#f6e4b3"/><stop offset="48.67%" stop-color="#f6e5b5"/><stop offset="52.1%" stop-color="#f4dca9"/><stop offset="54.25%" stop-color="#f6e4b3"/><stop offset="56.11%" stop-color="#f6e6b5"/><stop offset="69.71%" stop-color="#f5e3b2"/><stop offset="73.72%" stop-color="#f4dfad"/><stop offset="75.15%" stop-color="#f3daa6"/><stop offset="76.01%" stop-color="#f0cf9a"/><stop offset="76.72%" stop-color="#ecbf85"/><stop offset="78.16%" stop-color="#c57e54"/><stop offset="78.59%" stop-color="#b96f4c"/><stop offset="78.87%" stop-color="#b76c4b"/><stop offset="79.44%" stop-color="#bf7750"/><stop offset="80.88%" stop-color="#e9b478"/><stop offset="81.73%" stop-color="#edc38a"/><stop offset="82.59%" stop-color="#efc891"/><stop offset="84.31%" stop-color="#f0cd96"/><stop offset="84.6%" stop-color="#efcb94"/><stop offset="85.17%" stop-color="#ecbf86"/><stop offset="85.46%" stop-color="#ecbc82"/><stop offset="85.74%" stop-color="#edc189"/><stop offset="86.46%" stop-color="#f2d7a3"/><stop offset="87.32%" stop-color="#f4deab"/><stop offset="90.61%" stop-color="#f6e4b3"/><stop offset="99.91%" stop-color="#f6e5b5"/></linearGradient>
<linearGradient id="h55" gradientUnits="userSpaceOnUse" x1="0" y1="553" x2="0" y2="902.3"><stop offset="0%" stop-color="#f6e6b5"/><stop offset="12.17%" stop-color="#f6e4b3"/><stop offset="14.46%" stop-color="#f4deab"/><stop offset="18.61%" stop-color="#efc992"/><stop offset="21.47%" stop-color="#edc188"/><stop offset="23.62%" stop-color="#ecbf85"/><stop offset="26.91%" stop-color="#edc38b"/><stop offset="27.63%" stop-color="#ecbe84"/><stop offset="28.2%" stop-color="#e9b478"/><stop offset="28.77%" stop-color="#e1a165"/><stop offset="30.06%" stop-color="#9e4e3c"/><stop offset="30.49%" stop-color="#903c33"/><stop offset="30.92%" stop-color="#8c3731"/><stop offset="31.21%" stop-color="#8f3c33"/><stop offset="31.63%" stop-color="#9d4d3b"/><stop offset="33.35%" stop-color="#eab67b"/><stop offset="34.21%" stop-color="#efcb94"/><stop offset="34.78%" stop-color="#f1d39e"/><stop offset="35.5%" stop-color="#f3d9a5"/><stop offset="37.79%" stop-color="#f5e0ae"/><stop offset="41.8%" stop-color="#f6e4b3"/><stop offset="48.67%" stop-color="#f6e6b5"/><stop offset="49.96%" stop-color="#f6e4b3"/><stop offset="52.1%" stop-color="#f4dcaa"/><stop offset="54.39%" stop-color="#f6e5b4"/><stop offset="56.11%" stop-color="#f6e6b6"/><stop offset="69.85%" stop-color="#f6e3b2"/><stop offset="73.86%" stop-color="#f4dfad"/><stop offset="75.15%" stop-color="#f3d9a6"/><stop offset="76.01%" stop-color="#f0ce98"/><stop offset="76.72%" stop-color="#ebbc82"/><stop offset="78.16%" stop-color="#ba704d"/><stop offset="78.59%" stop-color="#ad6145"/><stop offset="78.87%" stop-color="#ab5e44"/><stop offset="79.16%" stop-color="#ae6246"/><stop offset="79.59%" stop-color="#bb724e"/><stop offset="80.73%" stop-color="#e8af72"/><stop offset="81.31%" stop-color="#ecbd83"/><stop offset="81.88%" stop-color="#eec58d"/><stop offset="82.45%" stop-color="#efc992"/><stop offset="84.45%" stop-color="#f0ce98"/><stop offset="85.46%" stop-color="#ecbf85"/><stop offset="85.74%" stop-color="#edc38a"/><stop offset="86.32%" stop-color="#f2d5a0"/><stop offset="86.6%" stop-color="#f3daa6"/><stop offset="88.18%" stop-color="#f5e1b0"/><stop offset="91.47%" stop-color="#f6e5b4"/><stop offset="99.91%" stop-color="#f6e6b5"/></linearGradient>
<linearGradient id="h56" gradientUnits="userSpaceOnUse" x1="0" y1="553" x2="0" y2="902.3"><stop offset="0%" stop-color="#f7e8b8"/><stop offset="12.31%" stop-color="#f6e6b5"/><stop offset="14.46%" stop-color="#f5e1af"/><stop offset="18.47%" stop-color="#f0ce97"/><stop offset="20.9%" stop-color="#eec78f"/><stop offset="23.33%" stop-color="#edc48c"/><stop offset="26.91%" stop-color="#efc992"/><stop offset="27.63%" stop-color="#edc48b"/><stop offset="28.2%" stop-color="#ebba7f"/><stop offset="28.77%" stop-color="#e7aa6c"/><stop offset="30.06%" stop-color="#ac5f44"/><stop offset="30.49%" stop-color="#a0503d"/><stop offset="30.78%" stop-color="#9d4c3b"/><stop offset="31.21%" stop-color="#a1523e"/><stop offset="31.63%" stop-color="#b06447"/><stop offset="33.21%" stop-color="#ebba80"/><stop offset="33.64%" stop-color="#eec68e"/><stop offset="34.21%" stop-color="#f1d19c"/><stop offset="35.36%" stop-color="#f4dcaa"/><stop offset="37.5%" stop-color="#f5e3b1"/><stop offset="41.51%" stop-color="#f6e6b6"/><stop offset="48.67%" stop-color="#f7e8b8"/><stop offset="49.81%" stop-color="#f6e6b6"/><stop offset="52.1%" stop-color="#f4deac"/><stop offset="54.25%" stop-color="#f6e7b6"/><stop offset="56.11%" stop-color="#f7e8b8"/><stop offset="69.57%" stop-color="#f6e5b5"/><stop offset="73.72%" stop-color="#f5e1b0"/><stop offset="75.15%" stop-color="#f3dba8"/><stop offset="76.01%" stop-color="#f0d09a"/><stop offset="76.72%" stop-color="#ecbe85"/><stop offset="78.16%" stop-color="#c07951"/><stop offset="78.59%" stop-color="#b46a49"/><stop offset="78.87%" stop-color="#b26748"/><stop offset="79.16%" stop-color="#b56a4a"/><stop offset="79.59%" stop-color="#c17951"/><stop offset="80.73%" stop-color="#e8b073"/><stop offset="81.31%" stop-color="#ecbd84"/><stop offset="81.88%" stop-color="#eec58d"/><stop offset="82.45%" stop-color="#efca93"/><stop offset="84.31%" stop-color="#f0cf99"/><stop offset="84.6%" stop-color="#f0cd97"/><stop offset="85.17%" stop-color="#edc289"/><stop offset="85.46%" stop-color="#ecc086"/><stop offset="85.74%" stop-color="#eec58d"/><stop offset="86.32%" stop-color="#f2d7a3"/><stop offset="86.6%" stop-color="#f4dca9"/><stop offset="88.89%" stop-color="#f6e5b4"/><stop offset="99.91%" stop-color="#f7e8b7"/></linearGradient>
<linearGradient id="h57" gradientUnits="userSpaceOnUse" x1="0" y1="553" x2="0" y2="902.3"><stop offset="0%" stop-color="#f6e6b6"/><stop offset="12.45%" stop-color="#f6e4b3"/><stop offset="14.6%" stop-color="#f5e0ae"/><stop offset="18.75%" stop-color="#f0cd97"/><stop offset="22.19%" stop-color="#edc38a"/><stop offset="23.76%" stop-color="#edc289"/><stop offset="26.91%" stop-color="#eec78f"/><stop offset="27.63%" stop-color="#edc289"/><stop offset="28.2%" stop-color="#eab87d"/><stop offset="28.77%" stop-color="#e7a96b"/><stop offset="30.06%" stop-color="#ac5f44"/><stop offset="30.49%" stop-color="#9f503d"/><stop offset="30.78%" stop-color="#9c4c3b"/><stop offset="31.21%" stop-color="#a0513d"/><stop offset="31.63%" stop-color="#ae6145"/><stop offset="33.21%" stop-color="#eab87c"/><stop offset="33.64%" stop-color="#edc38b"/><stop offset="34.21%" stop-color="#f0cf99"/><stop offset="35.5%" stop-color="#f3dba8"/><stop offset="37.79%" stop-color="#f5e1b0"/><stop offset="48.67%" stop-color="#f6e6b6"/><stop offset="49.96%" stop-color="#f6e5b4"/><stop offset="52.1%" stop-color="#f4ddaa"/><stop offset="54.39%" stop-color="#f6e6b5"/><stop offset="56.11%" stop-color="#f6e7b6"/><stop offset="69.57%" stop-color="#f6e4b3"/><stop offset="73.58%" stop-color="#f5e0ae"/><stop offset="75.01%" stop-color="#f3dba8"/><stop offset="76.01%" stop-color="#f0d09a"/><stop offset="76.72%" stop-color="#ecbf85"/><stop offset="78.16%" stop-color="#c57e54"/><stop offset="78.59%" stop-color="#b96f4c"/><stop offset="78.87%" stop-color="#b66c4b"/><stop offset="79.16%" stop-color="#b86e4c"/><stop offset="79.59%" stop-color="#c37c53"/><stop offset="80.73%" stop-color="#e8b174"/><stop offset="81.31%" stop-color="#ecbd84"/><stop offset="81.88%" stop-color="#eec58d"/><stop offset="82.59%" stop-color="#efca93"/><stop offset="84.45%" stop-color="#f0cf99"/><stop offset="85.46%" stop-color="#edc188"/><stop offset="85.74%" stop-color="#eec58d"/><stop offset="86.32%" stop-color="#f2d6a2"/><stop offset="86.6%" stop-color="#f3dba8"/><stop offset="87.46%" stop-color="#f5e0ae"/><stop offset="89.04%" stop-color="#f6e4b3"/><stop offset="99.91%" stop-color="#f6e6b6"/></linearGradient>
<linearGradient id="h58" gradientUnits="userSpaceOnUse" x1="0" y1="553" x2="0" y2="902.3"><stop offset="0%" stop-color="#f6e5b5"/><stop offset="12.31%" stop-color="#f6e3b2"/><stop offset="14.31%" stop-color="#f4dfad"/><stop offset="18.61%" stop-color="#efc992"/><stop offset="22.19%" stop-color="#ecbe85"/><stop offset="23.9%" stop-color="#ecbd84"/><stop offset="26.34%" stop-color="#eec58d"/><stop offset="27.05%" stop-color="#eec48c"/><stop offset="27.63%" stop-color="#edc187"/><stop offset="28.2%" stop-color="#eab87d"/><stop offset="28.77%" stop-color="#e7aa6b"/><stop offset="30.06%" stop-color="#ae6246"/><stop offset="30.49%" stop-color="#a2533f"/><stop offset="30.78%" stop-color="#a0503d"/><stop offset="31.21%" stop-color="#a4553f"/><stop offset="31.63%" stop-color="#b16648"/><stop offset="33.21%" stop-color="#ebb97e"/><stop offset="33.64%" stop-color="#eec48c"/><stop offset="34.21%" stop-color="#f0cf9a"/><stop offset="35.5%" stop-color="#f3dba8"/><stop offset="37.65%" stop-color="#f5e1af"/><stop offset="48.81%" stop-color="#f6e5b5"/><stop offset="52.1%" stop-color="#f3dca9"/><stop offset="54.39%" stop-color="#f6e5b4"/><stop offset="56.26%" stop-color="#f6e6b5"/><stop offset="69.71%" stop-color="#f5e3b2"/><stop offset="73.72%" stop-color="#f4dfad"/><stop offset="75.15%" stop-color="#f3d9a5"/><stop offset="76.01%" stop-color="#f0ce98"/><stop offset="76.72%" stop-color="#ebbc82"/><stop offset="78.16%" stop-color="#ba704d"/><stop offset="78.59%" stop-color="#ac6045"/><stop offset="78.87%" stop-color="#a95c43"/><stop offset="79.16%" stop-color="#ab5e44"/><stop offset="79.59%" stop-color="#b76d4b"/><stop offset="80.73%" stop-color="#e7ac6e"/><stop offset="81.31%" stop-color="#ebba80"/><stop offset="81.88%" stop-color="#edc38b"/><stop offset="82.59%" stop-color="#efc991"/><stop offset="84.31%" stop-color="#f0cd97"/><stop offset="84.6%" stop-color="#efcb94"/><stop offset="85.31%" stop-color="#ecbd83"/><stop offset="85.6%" stop-color="#edc187"/><stop offset="86.17%" stop-color="#f1d39e"/><stop offset="86.46%" stop-color="#f3d8a5"/><stop offset="88.18%" stop-color="#f5e1af"/><stop offset="91.47%" stop-color="#f6e5b4"/><stop offset="99.91%" stop-color="#f6e5b5"/></linearGradient>
<linearGradient id="h59" gradientUnits="userSpaceOnUse" x1="0" y1="553" x2="0" y2="902.3"><stop offset="0%" stop-color="#f6e6b5"/><stop offset="12.45%" stop-color="#f6e4b3"/><stop offset="14.6%" stop-color="#f4deac"/><stop offset="18.75%" stop-color="#efca93"/><stop offset="22.47%" stop-color="#ecbe84"/><stop offset="23.9%" stop-color="#ecbd83"/><stop offset="26.34%" stop-color="#edc48b"/><stop offset="27.05%" stop-color="#edc48b"/><stop offset="27.63%" stop-color="#ecc086"/><stop offset="28.2%" stop-color="#eab77c"/><stop offset="28.77%" stop-color="#e6a96a"/><stop offset="30.06%" stop-color="#ac5f44"/><stop offset="30.49%" stop-color="#a0503d"/><stop offset="30.78%" stop-color="#9d4d3b"/><stop offset="31.21%" stop-color="#a1523e"/><stop offset="31.63%" stop-color="#ae6246"/><stop offset="33.21%" stop-color="#eab87d"/><stop offset="33.64%" stop-color="#edc48b"/><stop offset="34.21%" stop-color="#f0cf99"/><stop offset="35.5%" stop-color="#f3dba8"/><stop offset="37.65%" stop-color="#f5e1af"/><stop offset="41.8%" stop-color="#f6e4b4"/><stop offset="48.81%" stop-color="#f6e6b5"/><stop offset="52.1%" stop-color="#f4dca9"/><stop offset="54.39%" stop-color="#f6e5b4"/><stop offset="56.26%" stop-color="#f6e6b6"/><stop offset="69.42%" stop-color="#f5e3b2"/><stop offset="73.58%" stop-color="#f4dfad"/><stop offset="75.01%" stop-color="#f3daa6"/><stop offset="76.01%" stop-color="#f0ce99"/><stop offset="76.72%" stop-color="#ecbe84"/><stop offset="78.16%" stop-color="#c27b52"/><stop offset="78.59%" stop-color="#b66b4a"/><stop offset="78.87%" stop-color="#b36849"/><stop offset="79.16%" stop-color="#b56a4a"/><stop offset="79.59%" stop-color="#bf7750"/><stop offset="80.73%" stop-color="#e8ae71"/><stop offset="81.31%" stop-color="#ebbb81"/><stop offset="81.88%" stop-color="#edc48c"/><stop offset="82.59%" stop-color="#efc992"/><stop offset="84.31%" stop-color="#f0ce98"/><stop offset="84.74%" stop-color="#efc992"/><stop offset="85.17%" stop-color="#ecbf85"/><stop offset="85.46%" stop-color="#ecbd83"/><stop offset="86.46%" stop-color="#f3d9a5"/><stop offset="88.03%" stop-color="#f5e1af"/><stop offset="91.33%" stop-color="#f6e5b4"/><stop offset="99.91%" stop-color="#f6e6b5"/></linearGradient>
<linearGradient id="h60" gradientUnits="userSpaceOnUse" x1="0" y1="553" x2="0" y2="902.3"><stop offset="0%" stop-color="#f6e6b5"/><stop offset="12.17%" stop-color="#f6e4b3"/><stop offset="14.31%" stop-color="#f4dfac"/><stop offset="18.47%" stop-color="#efca93"/><stop offset="21.33%" stop-color="#edc289"/><stop offset="23.48%" stop-color="#ecbf86"/><stop offset="26.91%" stop-color="#eec58d"/><stop offset="27.63%" stop-color="#ecc086"/><stop offset="28.2%" stop-color="#eab67a"/><stop offset="28.77%" stop-color="#e4a567"/><stop offset="30.06%" stop-color="#a2533e"/><stop offset="30.49%" stop-color="#964437"/><stop offset="30.78%" stop-color="#934035"/><stop offset="31.21%" stop-color="#974538"/><stop offset="31.63%" stop-color="#a65740"/><stop offset="33.21%" stop-color="#eab57a"/><stop offset="33.64%" stop-color="#edc289"/><stop offset="34.21%" stop-color="#f0cd97"/><stop offset="35.5%" stop-color="#f3daa7"/><stop offset="37.65%" stop-color="#f5e0ae"/><stop offset="41.65%" stop-color="#f6e4b3"/><stop offset="48.67%" stop-color="#f6e6b5"/><stop offset="49.81%" stop-color="#f6e4b3"/><stop offset="52.1%" stop-color="#f4dca9"/><stop offset="54.25%" stop-color="#f6e4b4"/><stop offset="56.11%" stop-color="#f6e6b5"/><stop offset="69.57%" stop-color="#f5e3b2"/><stop offset="73.72%" stop-color="#f4dfad"/><stop offset="75.15%" stop-color="#f3d9a5"/><stop offset="76.01%" stop-color="#f0ce98"/><stop offset="76.72%" stop-color="#ebbc82"/><stop offset="78.16%" stop-color="#ba704d"/><stop offset="78.59%" stop-color="#ac6045"/><stop offset="78.87%" stop-color="#a95c43"/><stop offset="79.16%" stop-color="#ac5f44"/><stop offset="79.59%" stop-color="#b86e4b"/><stop offset="80.73%" stop-color="#e7ad6f"/><stop offset="81.31%" stop-color="#ebbb81"/><stop offset="81.88%" stop-color="#eec48c"/><stop offset="82.59%" stop-color="#efca93"/><stop offset="84.45%" stop-color="#f0ce98"/><stop offset="84.74%" stop-color="#efca93"/><stop offset="85.17%" stop-color="#ecbf85"/><stop offset="85.46%" stop-color="#ebbc81"/><stop offset="85.74%" stop-color="#edc188"/><stop offset="86.17%" stop-color="#f1d19c"/><stop offset="86.46%" stop-color="#f3d8a4"/><stop offset="86.89%" stop-color="#f4ddaa"/><stop offset="87.89%" stop-color="#f5e0af"/><stop offset="91.18%" stop-color="#f6e5b4"/><stop offset="99.91%" stop-color="#f6e5b5"/></linearGradient>
<linearGradient id="h61" gradientUnits="userSpaceOnUse" x1="0" y1="553" x2="0" y2="902.3"><stop offset="0%" stop-color="#f6e7b7"/><stop offset="12.17%" stop-color="#f6e5b4"/><stop offset="14.31%" stop-color="#f5e0ae"/><stop offset="18.32%" stop-color="#efca94"/><stop offset="21.19%" stop-color="#edc289"/><stop offset="23.48%" stop-color="#ecbf86"/><stop offset="26.91%" stop-color="#eec58d"/><stop offset="27.48%" stop-color="#edc188"/><stop offset="28.06%" stop-color="#eab87d"/><stop offset="28.63%" stop-color="#e6a96a"/><stop offset="30.06%" stop-color="#9c4c3b"/><stop offset="30.49%" stop-color="#903c33"/><stop offset="30.78%" stop-color="#8d3931"/><stop offset="31.06%" stop-color="#8f3c33"/><stop offset="31.49%" stop-color="#9c4c3b"/><stop offset="31.92%" stop-color="#b16648"/><stop offset="33.21%" stop-color="#eab67b"/><stop offset="33.64%" stop-color="#edc38a"/><stop offset="34.21%" stop-color="#f0cf99"/><stop offset="35.36%" stop-color="#f3dba8"/><stop offset="37.5%" stop-color="#f5e2b0"/><stop offset="41.51%" stop-color="#f6e5b5"/><stop offset="48.67%" stop-color="#f6e7b7"/><stop offset="49.96%" stop-color="#f6e5b5"/><stop offset="52.1%" stop-color="#f4ddaa"/><stop offset="54.39%" stop-color="#f6e6b6"/><stop offset="56.11%" stop-color="#f7e7b7"/><stop offset="69.57%" stop-color="#f6e5b4"/><stop offset="73.58%" stop-color="#f5e1af"/><stop offset="75.01%" stop-color="#f4dca9"/><stop offset="76.01%" stop-color="#f1d19c"/><stop offset="76.72%" stop-color="#edc189"/><stop offset="78.16%" stop-color="#ca8457"/><stop offset="78.59%" stop-color="#bd754f"/><stop offset="78.87%" stop-color="#ba714d"/><stop offset="79.16%" stop-color="#bb724e"/><stop offset="79.59%" stop-color="#c57e54"/><stop offset="81.02%" stop-color="#eab77c"/><stop offset="81.88%" stop-color="#eec58d"/><stop offset="82.59%" stop-color="#efca93"/><stop offset="84.31%" stop-color="#f0cf99"/><stop offset="84.74%" stop-color="#f0cd96"/><stop offset="85.46%" stop-color="#edc188"/><stop offset="85.74%" stop-color="#eec58d"/><stop offset="86.46%" stop-color="#f3d9a5"/><stop offset="87.32%" stop-color="#f4dfad"/><stop offset="90.61%" stop-color="#f6e6b5"/><stop offset="99.91%" stop-color="#f6e7b7"/></linearGradient>
<linearGradient id="h62" gradientUnits="userSpaceOnUse" x1="0" y1="553" x2="0" y2="902.3"><stop offset="0%" stop-color="#f6e5b4"/><stop offset="12.45%" stop-color="#f5e3b2"/><stop offset="14.46%" stop-color="#f4deac"/><stop offset="18.75%" stop-color="#efc992"/><stop offset="22.47%" stop-color="#ecbd83"/><stop offset="24.05%" stop-color="#ebbc82"/><stop offset="26.34%" stop-color="#edc38b"/><stop offset="27.05%" stop-color="#edc38a"/><stop offset="27.63%" stop-color="#ecbf85"/><stop offset="28.2%" stop-color="#eab67b"/><stop offset="28.77%" stop-color="#e6a96a"/><stop offset="30.06%" stop-color="#b06447"/><stop offset="30.49%" stop-color="#a55640"/><stop offset="30.78%" stop-color="#a3543f"/><stop offset="31.21%" stop-color="#a75941"/><stop offset="31.63%" stop-color="#b56a4a"/><stop offset="33.21%" stop-color="#ebb97f"/><stop offset="34.07%" stop-color="#f0cc96"/><stop offset="35.07%" stop-color="#f2d8a4"/><stop offset="36.64%" stop-color="#f4deac"/><stop offset="40.65%" stop-color="#f5e3b2"/><stop offset="48.1%" stop-color="#f6e5b4"/><stop offset="49.81%" stop-color="#f6e4b3"/><stop offset="52.1%" stop-color="#f4dca9"/><stop offset="54.25%" stop-color="#f6e4b3"/><stop offset="55.54%" stop-color="#f6e5b5"/><stop offset="72.57%" stop-color="#f5e0af"/><stop offset="74.72%" stop-color="#f3dba8"/><stop offset="75.87%" stop-color="#f0d09a"/><stop offset="76.72%" stop-color="#ebbb80"/><stop offset="78.16%" stop-color="#b36949"/><stop offset="78.59%" stop-color="#a55640"/><stop offset="78.87%" stop-color="#a1523e"/><stop offset="79.16%" stop-color="#a3543f"/><stop offset="79.59%" stop-color="#af6346"/><stop offset="80.73%" stop-color="#e6a96a"/><stop offset="81.31%" stop-color="#eab87d"/><stop offset="81.88%" stop-color="#edc289"/><stop offset="82.59%" stop-color="#eec890"/><stop offset="84.45%" stop-color="#f0cc96"/><stop offset="84.74%" stop-color="#efc992"/><stop offset="85.17%" stop-color="#ecbf85"/><stop offset="85.46%" stop-color="#ebbc82"/><stop offset="85.74%" stop-color="#edc289"/><stop offset="86.32%" stop-color="#f2d49f"/><stop offset="86.6%" stop-color="#f3d9a5"/><stop offset="88.18%" stop-color="#f5e0af"/><stop offset="91.47%" stop-color="#f6e4b3"/><stop offset="99.91%" stop-color="#f6e5b4"/></linearGradient>
<linearGradient id="h63" gradientUnits="userSpaceOnUse" x1="0" y1="553" x2="0" y2="902.3"><stop offset="0%" stop-color="#f6e5b5"/><stop offset="12.31%" stop-color="#f5e3b2"/><stop offset="14.46%" stop-color="#f4deab"/><stop offset="18.18%" stop-color="#efcb94"/><stop offset="20.18%" stop-color="#eec58d"/><stop offset="23.19%" stop-color="#edc187"/><stop offset="26.05%" stop-color="#eec58d"/><stop offset="26.91%" stop-color="#edc48b"/><stop offset="27.63%" stop-color="#ecbd83"/><stop offset="28.2%" stop-color="#e9b276"/><stop offset="28.77%" stop-color="#dc9b62"/><stop offset="30.06%" stop-color="#944236"/><stop offset="30.49%" stop-color="#86302d"/><stop offset="30.78%" stop-color="#822b2b"/><stop offset="31.21%" stop-color="#86302d"/><stop offset="31.63%" stop-color="#954336"/><stop offset="33.35%" stop-color="#e9b478"/><stop offset="34.21%" stop-color="#efca93"/><stop offset="34.78%" stop-color="#f1d29d"/><stop offset="35.5%" stop-color="#f3d8a4"/><stop offset="37.79%" stop-color="#f4dfad"/><stop offset="41.8%" stop-color="#f6e3b2"/><stop offset="48.67%" stop-color="#f6e5b5"/><stop offset="49.96%" stop-color="#f6e4b2"/><stop offset="52.1%" stop-color="#f4dca9"/><stop offset="54.39%" stop-color="#f6e4b4"/><stop offset="56.11%" stop-color="#f6e6b5"/><stop offset="69.71%" stop-color="#f5e3b2"/><stop offset="73.72%" stop-color="#f4dfad"/><stop offset="75.15%" stop-color="#f3d9a6"/><stop offset="76.01%" stop-color="#f0cf99"/><stop offset="76.72%" stop-color="#ecbf85"/><stop offset="78.16%" stop-color="#c57e54"/><stop offset="78.59%" stop-color="#b9704d"/><stop offset="78.87%" stop-color="#b76d4b"/><stop offset="79.44%" stop-color="#bf7750"/><stop offset="80.88%" stop-color="#e9b377"/><stop offset="81.73%" stop-color="#edc289"/><stop offset="82.59%" stop-color="#eec890"/><stop offset="84.31%" stop-color="#f0cc96"/><stop offset="84.6%" stop-color="#efca94"/><stop offset="85.17%" stop-color="#ecc087"/><stop offset="85.46%" stop-color="#ecbe84"/><stop offset="86.46%" stop-color="#f2d7a3"/><stop offset="87.32%" stop-color="#f4ddab"/><stop offset="90.61%" stop-color="#f6e4b3"/><stop offset="99.91%" stop-color="#f6e5b5"/></linearGradient>
<linearGradient id="h64" gradientUnits="userSpaceOnUse" x1="0" y1="553" x2="0" y2="902.3"><stop offset="0%" stop-color="#f6e7b6"/><stop offset="12.31%" stop-color="#f6e5b4"/><stop offset="14.46%" stop-color="#f5e0ae"/><stop offset="18.61%" stop-color="#efca94"/><stop offset="21.61%" stop-color="#edc188"/><stop offset="23.48%" stop-color="#ecbf86"/><stop offset="26.05%" stop-color="#eec68e"/><stop offset="26.91%" stop-color="#eec58d"/><stop offset="27.48%" stop-color="#edc188"/><stop offset="28.06%" stop-color="#ebb97e"/><stop offset="28.63%" stop-color="#e7ab6c"/><stop offset="29.92%" stop-color="#ae6246"/><stop offset="30.35%" stop-color="#a1523e"/><stop offset="30.78%" stop-color="#9d4c3b"/><stop offset="31.06%" stop-color="#9f503d"/><stop offset="31.49%" stop-color="#ac5f44"/><stop offset="33.21%" stop-color="#ebb97f"/><stop offset="33.64%" stop-color="#eec58c"/><stop offset="34.21%" stop-color="#f0cf99"/><stop offset="35.5%" stop-color="#f3dba8"/><stop offset="37.93%" stop-color="#f5e2b0"/><stop offset="41.94%" stop-color="#f6e5b5"/><stop offset="48.81%" stop-color="#f6e7b6"/><stop offset="52.1%" stop-color="#f4dcaa"/><stop offset="54.25%" stop-color="#f6e6b5"/><stop offset="56.11%" stop-color="#f6e7b7"/><stop offset="69.85%" stop-color="#f6e5b4"/><stop offset="73.86%" stop-color="#f5e1af"/><stop offset="75.15%" stop-color="#f3dba8"/><stop offset="76.01%" stop-color="#f1d09a"/><stop offset="76.72%" stop-color="#ecbe84"/><stop offset="78.16%" stop-color="#ba714d"/><stop offset="78.59%" stop-color="#ad6045"/><stop offset="78.87%" stop-color="#aa5c43"/><stop offset="79.16%" stop-color="#ac5f44"/><stop offset="79.59%" stop-color="#b86f4c"/><stop offset="80.73%" stop-color="#e8ae70"/><stop offset="81.31%" stop-color="#ebbc82"/><stop offset="81.88%" stop-color="#eec58d"/><stop offset="82.45%" stop-color="#efc992"/><stop offset="84.31%" stop-color="#f0ce98"/><stop offset="84.6%" stop-color="#f0cc96"/><stop offset="85.17%" stop-color="#edc188"/><stop offset="85.46%" stop-color="#ecbf86"/><stop offset="85.74%" stop-color="#eec58d"/><stop offset="86.32%" stop-color="#f2d6a2"/><stop offset="86.6%" stop-color="#f3dba8"/><stop offset="89.04%" stop-color="#f6e4b3"/><stop offset="99.91%" stop-color="#f6e7b6"/></linearGradient>
<linearGradient id="h65" gradientUnits="userSpaceOnUse" x1="0" y1="553" x2="0" y2="902.3"><stop offset="0%" stop-color="#f8ebbc"/><stop offset="12.31%" stop-color="#f7e9ba"/><stop offset="14.46%" stop-color="#f6e4b3"/><stop offset="18.61%" stop-color="#f0cf9a"/><stop offset="21.76%" stop-color="#eec68e"/><stop offset="23.62%" stop-color="#edc48b"/><stop offset="26.05%" stop-color="#efc991"/><stop offset="26.91%" stop-color="#eec890"/><stop offset="27.48%" stop-color="#edc38b"/><stop offset="28.06%" stop-color="#ebb97e"/><stop offset="28.63%" stop-color="#e6a96a"/><stop offset="30.06%" stop-color="#994839"/><stop offset="30.49%" stop-color="#8c3731"/><stop offset="30.78%" stop-color="#89342f"/><stop offset="31.06%" stop-color="#8b3730"/><stop offset="31.49%" stop-color="#994839"/><stop offset="31.92%" stop-color="#af6346"/><stop offset="33.21%" stop-color="#eab77c"/><stop offset="33.64%" stop-color="#eec58c"/><stop offset="34.21%" stop-color="#f1d19c"/><stop offset="34.78%" stop-color="#f3d9a6"/><stop offset="35.5%" stop-color="#f4dfad"/><stop offset="37.65%" stop-color="#f6e6b5"/><stop offset="41.65%" stop-color="#f7eaba"/><stop offset="48.67%" stop-color="#f8ebbc"/><stop offset="49.81%" stop-color="#f7eaba"/><stop offset="52.1%" stop-color="#f5e1af"/><stop offset="54.25%" stop-color="#f7eabb"/><stop offset="56.11%" stop-color="#f8ecbd"/><stop offset="69.57%" stop-color="#f7e9b9"/><stop offset="73.72%" stop-color="#f6e5b4"/><stop offset="75.15%" stop-color="#f4dfad"/><stop offset="76.01%" stop-color="#f2d5a1"/><stop offset="76.72%" stop-color="#edc48c"/><stop offset="78.3%" stop-color="#c07851"/><stop offset="78.73%" stop-color="#b56a4a"/><stop offset="79.02%" stop-color="#b46949"/><stop offset="79.3%" stop-color="#b76d4b"/><stop offset="79.73%" stop-color="#c57e54"/><stop offset="80.73%" stop-color="#e9b174"/><stop offset="81.31%" stop-color="#ecc086"/><stop offset="81.88%" stop-color="#efc992"/><stop offset="82.59%" stop-color="#f0ce98"/><stop offset="84.31%" stop-color="#f1d39e"/><stop offset="84.74%" stop-color="#f0ce98"/><stop offset="85.17%" stop-color="#edc48b"/><stop offset="85.46%" stop-color="#edc289"/><stop offset="86.46%" stop-color="#f4deab"/><stop offset="86.89%" stop-color="#f5e2b0"/><stop offset="88.03%" stop-color="#f6e7b6"/><stop offset="91.33%" stop-color="#f7ebbb"/><stop offset="99.91%" stop-color="#f8ebbc"/></linearGradient>
<linearGradient id="h66" gradientUnits="userSpaceOnUse" x1="0" y1="553" x2="0" y2="902.3"><stop offset="0%" stop-color="#f7e8b8"/><stop offset="12.31%" stop-color="#f6e6b5"/><stop offset="14.46%" stop-color="#f5e1af"/><stop offset="18.75%" stop-color="#efcb95"/><stop offset="22.33%" stop-color="#ecbf86"/><stop offset="23.9%" stop-color="#ecbe85"/><stop offset="26.2%" stop-color="#eec68e"/><stop offset="27.05%" stop-color="#eec58d"/><stop offset="27.63%" stop-color="#edc188"/><stop offset="28.2%" stop-color="#eab77c"/><stop offset="28.77%" stop-color="#e6a869"/><stop offset="30.06%" stop-color="#a85a42"/><stop offset="30.49%" stop-color="#9c4b3a"/><stop offset="30.78%" stop-color="#994839"/><stop offset="31.06%" stop-color="#9c4b3a"/><stop offset="31.49%" stop-color="#a75942"/><stop offset="31.92%" stop-color="#bb724e"/><stop offset="33.21%" stop-color="#ebb97f"/><stop offset="33.64%" stop-color="#eec58d"/><stop offset="34.21%" stop-color="#f1d09b"/><stop offset="35.5%" stop-color="#f4ddaa"/><stop offset="37.65%" stop-color="#f5e3b1"/><stop offset="41.8%" stop-color="#f6e6b6"/><stop offset="48.81%" stop-color="#f7e8b8"/><stop offset="52.1%" stop-color="#f4deab"/><stop offset="54.39%" stop-color="#f6e7b7"/><stop offset="56.11%" stop-color="#f7e8b8"/><stop offset="69.71%" stop-color="#f6e5b5"/><stop offset="73.86%" stop-color="#f5e1b0"/><stop offset="75.15%" stop-color="#f3dba8"/><stop offset="76.01%" stop-color="#f1d09b"/><stop offset="76.72%" stop-color="#ecbe84"/><stop offset="78.16%" stop-color="#ba714d"/><stop offset="78.59%" stop-color="#ad6145"/><stop offset="78.87%" stop-color="#ab5e44"/><stop offset="79.16%" stop-color="#ad6145"/><stop offset="79.59%" stop-color="#ba714d"/><stop offset="80.73%" stop-color="#e8af72"/><stop offset="81.31%" stop-color="#ecbe84"/><stop offset="81.88%" stop-color="#eec68f"/><stop offset="82.59%" stop-color="#efcc95"/><stop offset="84.45%" stop-color="#f1d09b"/><stop offset="85.46%" stop-color="#edc188"/><stop offset="85.74%" stop-color="#eec68e"/><stop offset="86.32%" stop-color="#f3d8a4"/><stop offset="86.6%" stop-color="#f4dcaa"/><stop offset="88.03%" stop-color="#f5e3b2"/><stop offset="91.33%" stop-color="#f6e7b7"/><stop offset="99.91%" stop-color="#f7e8b7"/></linearGradient>
<linearGradient id="h67" gradientUnits="userSpaceOnUse" x1="0" y1="553" x2="0" y2="902.3"><stop offset="0%" stop-color="#f6e6b5"/><stop offset="12.31%" stop-color="#f6e4b3"/><stop offset="14.46%" stop-color="#f4dfad"/><stop offset="18.61%" stop-color="#f0cc96"/><stop offset="22.33%" stop-color="#edc188"/><stop offset="23.9%" stop-color="#ecc086"/><stop offset="26.2%" stop-color="#eec68e"/><stop offset="26.91%" stop-color="#eec58d"/><stop offset="27.48%" stop-color="#edc188"/><stop offset="28.06%" stop-color="#eab77c"/><stop offset="28.63%" stop-color="#e6a768"/><stop offset="30.06%" stop-color="#984638"/><stop offset="30.49%" stop-color="#8b3630"/><stop offset="30.78%" stop-color="#88332e"/><stop offset="31.06%" stop-color="#8b3630"/><stop offset="31.49%" stop-color="#984738"/><stop offset="31.92%" stop-color="#ae6246"/><stop offset="33.21%" stop-color="#eab67a"/><stop offset="34.07%" stop-color="#f0cc96"/><stop offset="35.21%" stop-color="#f3daa6"/><stop offset="37.22%" stop-color="#f5e0af"/><stop offset="41.37%" stop-color="#f6e4b4"/><stop offset="48.67%" stop-color="#f6e6b5"/><stop offset="49.96%" stop-color="#f6e4b3"/><stop offset="52.1%" stop-color="#f4ddaa"/><stop offset="54.39%" stop-color="#f6e5b4"/><stop offset="56.11%" stop-color="#f6e6b6"/><stop offset="69.57%" stop-color="#f6e4b2"/><stop offset="73.72%" stop-color="#f4dfad"/><stop offset="75.15%" stop-color="#f3d9a5"/><stop offset="76.01%" stop-color="#f0cd97"/><stop offset="76.72%" stop-color="#ebba80"/><stop offset="78.16%" stop-color="#b56a4a"/><stop offset="78.59%" stop-color="#a85a42"/><stop offset="78.87%" stop-color="#a65741"/><stop offset="79.16%" stop-color="#a95b42"/><stop offset="79.59%" stop-color="#b66b4a"/><stop offset="80.73%" stop-color="#e7ac6f"/><stop offset="81.31%" stop-color="#ebbb80"/><stop offset="81.88%" stop-color="#edc48b"/><stop offset="82.45%" stop-color="#efc891"/><stop offset="84.31%" stop-color="#f0ce97"/><stop offset="84.6%" stop-color="#efcc95"/><stop offset="85.17%" stop-color="#ecbf85"/><stop offset="85.46%" stop-color="#ebbc82"/><stop offset="85.74%" stop-color="#edc289"/><stop offset="86.17%" stop-color="#f1d19b"/><stop offset="86.46%" stop-color="#f2d8a4"/><stop offset="86.89%" stop-color="#f4dca9"/><stop offset="88.03%" stop-color="#f5e1af"/><stop offset="91.33%" stop-color="#f6e5b4"/><stop offset="99.91%" stop-color="#f6e6b5"/></linearGradient>
<linearGradient id="h68" gradientUnits="userSpaceOnUse" x1="0" y1="553" x2="0" y2="902.3"><stop offset="0%" stop-color="#f7e9b9"/><stop offset="12.31%" stop-color="#f6e6b6"/><stop offset="14.46%" stop-color="#f5e1af"/><stop offset="18.61%" stop-color="#efcb95"/><stop offset="21.76%" stop-color="#edc188"/><stop offset="23.62%" stop-color="#ecc086"/><stop offset="26.91%" stop-color="#eec68e"/><stop offset="27.63%" stop-color="#edc087"/><stop offset="28.2%" stop-color="#eab67a"/><stop offset="28.77%" stop-color="#e4a567"/><stop offset="30.06%" stop-color="#a0503d"/><stop offset="30.49%" stop-color="#923f34"/><stop offset="30.78%" stop-color="#8f3b32"/><stop offset="31.21%" stop-color="#934035"/><stop offset="31.63%" stop-color="#a1523e"/><stop offset="33.21%" stop-color="#eab579"/><stop offset="33.64%" stop-color="#edc289"/><stop offset="34.21%" stop-color="#f0ce98"/><stop offset="34.78%" stop-color="#f2d6a2"/><stop offset="35.5%" stop-color="#f4dca9"/><stop offset="37.79%" stop-color="#f5e3b1"/><stop offset="41.8%" stop-color="#f6e7b6"/><stop offset="48.67%" stop-color="#f7e8b9"/><stop offset="52.1%" stop-color="#f5dfad"/><stop offset="54.25%" stop-color="#f7e8b7"/><stop offset="56.11%" stop-color="#f7e9b9"/><stop offset="69.71%" stop-color="#f6e6b6"/><stop offset="73.86%" stop-color="#f5e2b0"/><stop offset="75.15%" stop-color="#f3dca9"/><stop offset="76.01%" stop-color="#f0d09a"/><stop offset="76.72%" stop-color="#ecbd83"/><stop offset="78.16%" stop-color="#b66c4a"/><stop offset="78.59%" stop-color="#a85a42"/><stop offset="78.87%" stop-color="#a55640"/><stop offset="79.16%" stop-color="#a75941"/><stop offset="79.59%" stop-color="#b46949"/><stop offset="80.73%" stop-color="#e7ac6f"/><stop offset="81.31%" stop-color="#ebbc81"/><stop offset="81.88%" stop-color="#eec58d"/><stop offset="82.59%" stop-color="#efca94"/><stop offset="84.31%" stop-color="#f0d09a"/><stop offset="84.6%" stop-color="#f0ce98"/><stop offset="85.17%" stop-color="#edc48c"/><stop offset="85.46%" stop-color="#edc289"/><stop offset="85.74%" stop-color="#eec890"/><stop offset="86.32%" stop-color="#f3d8a5"/><stop offset="86.6%" stop-color="#f4ddaa"/><stop offset="89.04%" stop-color="#f6e6b5"/><stop offset="99.91%" stop-color="#f7e8b8"/></linearGradient>
<linearGradient id="h69" gradientUnits="userSpaceOnUse" x1="0" y1="553" x2="0" y2="902.3"><stop offset="0%" stop-color="#f7e8b8"/><stop offset="12.31%" stop-color="#f6e6b6"/><stop offset="14.46%" stop-color="#f5e0af"/><stop offset="18.75%" stop-color="#efc992"/><stop offset="22.19%" stop-color="#ecbe84"/><stop offset="23.9%" stop-color="#ecbd83"/><stop offset="26.2%" stop-color="#eec58c"/><stop offset="27.05%" stop-color="#eec58c"/><stop offset="27.63%" stop-color="#edc188"/><stop offset="28.2%" stop-color="#eab87d"/><stop offset="28.77%" stop-color="#e7aa6c"/><stop offset="30.06%" stop-color="#af6346"/><stop offset="30.49%" stop-color="#a3543f"/><stop offset="30.78%" stop-color="#a0503d"/><stop offset="31.21%" stop-color="#a4553f"/><stop offset="31.63%" stop-color="#b16547"/><stop offset="33.35%" stop-color="#ecbd83"/><stop offset="34.35%" stop-color="#f1d29d"/><stop offset="35.64%" stop-color="#f4ddaa"/><stop offset="37.93%" stop-color="#f5e3b2"/><stop offset="48.67%" stop-color="#f7e8b8"/><stop offset="49.96%" stop-color="#f6e7b6"/><stop offset="52.1%" stop-color="#f4dfad"/><stop offset="54.39%" stop-color="#f7e7b7"/><stop offset="56.11%" stop-color="#f7e9b9"/><stop offset="69.57%" stop-color="#f6e6b5"/><stop offset="73.72%" stop-color="#f5e2b0"/><stop offset="75.15%" stop-color="#f4dca9"/><stop offset="76.01%" stop-color="#f1d29d"/><stop offset="76.72%" stop-color="#edc38a"/><stop offset="78.16%" stop-color="#cb8658"/><stop offset="78.59%" stop-color="#be7650"/><stop offset="78.87%" stop-color="#bb724e"/><stop offset="79.16%" stop-color="#bc744e"/><stop offset="79.59%" stop-color="#c68054"/><stop offset="81.02%" stop-color="#eab87d"/><stop offset="81.88%" stop-color="#eec68e"/><stop offset="82.59%" stop-color="#efcb94"/><stop offset="84.31%" stop-color="#f1d09a"/><stop offset="84.74%" stop-color="#f0cc96"/><stop offset="85.46%" stop-color="#ecbd83"/><stop offset="85.74%" stop-color="#edc188"/><stop offset="86.46%" stop-color="#f3d9a6"/><stop offset="87.32%" stop-color="#f5e1af"/><stop offset="90.61%" stop-color="#f6e7b7"/><stop offset="99.91%" stop-color="#f7e8b8"/></linearGradient>
<linearGradient id="h70" gradientUnits="userSpaceOnUse" x1="0" y1="553" x2="0" y2="902.3"><stop offset="0%" stop-color="#f7e8b8"/><stop offset="12.45%" stop-color="#f6e6b6"/><stop offset="14.6%" stop-color="#f5e1b0"/><stop offset="18.75%" stop-color="#f0cf99"/><stop offset="22.33%" stop-color="#eec48c"/><stop offset="23.76%" stop-color="#edc38b"/><stop offset="26.91%" stop-color="#eec890"/><stop offset="27.63%" stop-color="#edc289"/><stop offset="28.2%" stop-color="#eab77c"/><stop offset="28.77%" stop-color="#e6a768"/><stop offset="30.06%" stop-color="#a45640"/><stop offset="30.49%" stop-color="#984638"/><stop offset="30.78%" stop-color="#954336"/><stop offset="31.21%" stop-color="#9a4939"/><stop offset="31.63%" stop-color="#a95b42"/><stop offset="33.21%" stop-color="#eab87d"/><stop offset="33.64%" stop-color="#eec48c"/><stop offset="34.21%" stop-color="#f1d09b"/><stop offset="35.5%" stop-color="#f4ddaa"/><stop offset="37.65%" stop-color="#f5e3b2"/><stop offset="41.65%" stop-color="#f6e7b6"/><stop offset="48.67%" stop-color="#f7e8b8"/><stop offset="52.1%" stop-color="#f5e0ae"/><stop offset="54.39%" stop-color="#f7e8b8"/><stop offset="56.11%" stop-color="#f7e9b9"/><stop offset="69.71%" stop-color="#f6e6b6"/><stop offset="73.86%" stop-color="#f5e2b0"/><stop offset="75.15%" stop-color="#f4dca9"/><stop offset="76.01%" stop-color="#f1d19c"/><stop offset="76.72%" stop-color="#ecbf85"/><stop offset="78.16%" stop-color="#bb724e"/><stop offset="78.59%" stop-color="#ac6045"/><stop offset="78.87%" stop-color="#a95b42"/><stop offset="79.16%" stop-color="#ab5d44"/><stop offset="79.59%" stop-color="#b66c4b"/><stop offset="80.73%" stop-color="#e7ad6f"/><stop offset="81.31%" stop-color="#ebbc82"/><stop offset="81.88%" stop-color="#eec58e"/><stop offset="82.59%" stop-color="#efcb95"/><stop offset="84.45%" stop-color="#f1d09b"/><stop offset="85.46%" stop-color="#edc188"/><stop offset="85.74%" stop-color="#eec68e"/><stop offset="86.32%" stop-color="#f2d8a4"/><stop offset="86.6%" stop-color="#f4dcaa"/><stop offset="87.46%" stop-color="#f5e2b0"/><stop offset="89.04%" stop-color="#f6e6b5"/><stop offset="99.91%" stop-color="#f7e8b8"/></linearGradient>
<linearGradient id="h71" gradientUnits="userSpaceOnUse" x1="0" y1="553" x2="0" y2="902.3"><stop offset="0%" stop-color="#f6e6b6"/><stop offset="12.45%" stop-color="#f6e4b3"/><stop offset="14.6%" stop-color="#f4dfac"/><stop offset="18.75%" stop-color="#efcb94"/><stop offset="22.04%" stop-color="#ecc087"/><stop offset="23.76%" stop-color="#ecbf85"/><stop offset="26.91%" stop-color="#edc38b"/><stop offset="27.48%" stop-color="#ecc086"/><stop offset="28.06%" stop-color="#eab77c"/><stop offset="28.63%" stop-color="#e7aa6b"/><stop offset="30.06%" stop-color="#a75a42"/><stop offset="30.49%" stop-color="#9c4b3b"/><stop offset="30.78%" stop-color="#994839"/><stop offset="31.21%" stop-color="#9e4e3c"/><stop offset="31.63%" stop-color="#ac5f44"/><stop offset="33.35%" stop-color="#ebba7f"/><stop offset="34.35%" stop-color="#f0ce98"/><stop offset="35.79%" stop-color="#f3daa7"/><stop offset="38.22%" stop-color="#f5e1af"/><stop offset="48.81%" stop-color="#f6e6b5"/><stop offset="49.96%" stop-color="#f6e4b3"/><stop offset="52.1%" stop-color="#f3dca9"/><stop offset="54.39%" stop-color="#f6e5b4"/><stop offset="56.26%" stop-color="#f6e6b6"/><stop offset="69.85%" stop-color="#f6e4b3"/><stop offset="73.86%" stop-color="#f5e0ae"/><stop offset="75.15%" stop-color="#f3daa7"/><stop offset="76.01%" stop-color="#f0ce98"/><stop offset="76.72%" stop-color="#ebbb81"/><stop offset="78.16%" stop-color="#b56a4a"/><stop offset="78.59%" stop-color="#a85a42"/><stop offset="78.87%" stop-color="#a65841"/><stop offset="79.16%" stop-color="#a95c43"/><stop offset="79.59%" stop-color="#b76d4b"/><stop offset="80.73%" stop-color="#e8ae70"/><stop offset="81.31%" stop-color="#ebbc82"/><stop offset="81.88%" stop-color="#eec58c"/><stop offset="82.45%" stop-color="#efc992"/><stop offset="84.31%" stop-color="#f0cd97"/><stop offset="84.74%" stop-color="#efc891"/><stop offset="85.17%" stop-color="#ecbe84"/><stop offset="85.46%" stop-color="#ebbc82"/><stop offset="86.46%" stop-color="#f3d8a5"/><stop offset="88.03%" stop-color="#f5e1b0"/><stop offset="91.18%" stop-color="#f6e5b5"/><stop offset="99.91%" stop-color="#f6e6b5"/></linearGradient>
<linearGradient id="h72" gradientUnits="userSpaceOnUse" x1="0" y1="553" x2="0" y2="902.3"><stop offset="0%" stop-color="#f6e7b6"/><stop offset="12.45%" stop-color="#f6e5b4"/><stop offset="14.6%" stop-color="#f4dfad"/><stop offset="18.61%" stop-color="#efcc95"/><stop offset="22.47%" stop-color="#ecbe85"/><stop offset="23.9%" stop-color="#ecbd84"/><stop offset="26.91%" stop-color="#edc38a"/><stop offset="27.48%" stop-color="#ecbf85"/><stop offset="28.06%" stop-color="#eab57a"/><stop offset="28.63%" stop-color="#e4a567"/><stop offset="30.06%" stop-color="#984738"/><stop offset="30.49%" stop-color="#8b3730"/><stop offset="30.78%" stop-color="#89342f"/><stop offset="31.06%" stop-color="#8b3730"/><stop offset="31.49%" stop-color="#984738"/><stop offset="31.92%" stop-color="#ae6245"/><stop offset="33.21%" stop-color="#e9b478"/><stop offset="33.64%" stop-color="#edc188"/><stop offset="34.21%" stop-color="#f0cd97"/><stop offset="34.78%" stop-color="#f2d5a0"/><stop offset="35.5%" stop-color="#f3daa7"/><stop offset="37.65%" stop-color="#f5e1af"/><stop offset="41.65%" stop-color="#f6e5b4"/><stop offset="48.67%" stop-color="#f6e7b6"/><stop offset="52.1%" stop-color="#f4deac"/><stop offset="54.25%" stop-color="#f6e6b5"/><stop offset="55.97%" stop-color="#f6e7b7"/><stop offset="69.28%" stop-color="#f6e4b4"/><stop offset="73.43%" stop-color="#f5e0af"/><stop offset="74.86%" stop-color="#f3dba8"/><stop offset="75.87%" stop-color="#f1d19c"/><stop offset="76.58%" stop-color="#edc289"/><stop offset="78.16%" stop-color="#c57f54"/><stop offset="78.59%" stop-color="#bb724d"/><stop offset="78.87%" stop-color="#b9704c"/><stop offset="79.44%" stop-color="#c37c52"/><stop offset="80.88%" stop-color="#eab57a"/><stop offset="81.73%" stop-color="#edc38b"/><stop offset="82.59%" stop-color="#efc991"/><stop offset="84.31%" stop-color="#f0cd97"/><stop offset="84.6%" stop-color="#efcb95"/><stop offset="85.17%" stop-color="#ecbf86"/><stop offset="85.46%" stop-color="#ecbd83"/><stop offset="85.6%" stop-color="#ecbf86"/><stop offset="86.17%" stop-color="#f1d29d"/><stop offset="86.46%" stop-color="#f3d8a5"/><stop offset="87.32%" stop-color="#f4dfad"/><stop offset="90.61%" stop-color="#f6e6b5"/><stop offset="99.91%" stop-color="#f6e7b6"/></linearGradient>
<linearGradient id="h73" gradientUnits="userSpaceOnUse" x1="0" y1="553" x2="0" y2="902.3"><stop offset="0%" stop-color="#f6e7b6"/><stop offset="12.31%" stop-color="#f6e5b4"/><stop offset="14.46%" stop-color="#f5e0ae"/><stop offset="18.32%" stop-color="#f0cd97"/><stop offset="20.76%" stop-color="#eec68e"/><stop offset="23.33%" stop-color="#edc38a"/><stop offset="26.05%" stop-color="#eec78f"/><stop offset="26.91%" stop-color="#eec68e"/><stop offset="27.48%" stop-color="#edc188"/><stop offset="28.06%" stop-color="#eab77c"/><stop offset="28.63%" stop-color="#e6a768"/><stop offset="30.06%" stop-color="#984638"/><stop offset="30.49%" stop-color="#8b3630"/><stop offset="30.78%" stop-color="#88322e"/><stop offset="31.21%" stop-color="#8d3931"/><stop offset="31.63%" stop-color="#9d4d3b"/><stop offset="33.21%" stop-color="#e9b478"/><stop offset="33.64%" stop-color="#edc188"/><stop offset="34.21%" stop-color="#f0cd97"/><stop offset="34.78%" stop-color="#f2d5a0"/><stop offset="35.5%" stop-color="#f3daa7"/><stop offset="37.65%" stop-color="#f5e1af"/><stop offset="41.65%" stop-color="#f6e5b4"/><stop offset="48.67%" stop-color="#f6e7b6"/><stop offset="49.96%" stop-color="#f6e5b4"/><stop offset="52.1%" stop-color="#f4deab"/><stop offset="54.39%" stop-color="#f6e6b5"/><stop offset="56.11%" stop-color="#f6e7b7"/><stop offset="69.71%" stop-color="#f6e4b4"/><stop offset="73.86%" stop-color="#f5e0ae"/><stop offset="75.15%" stop-color="#f3dba7"/><stop offset="76.01%" stop-color="#f1d09a"/><stop offset="76.72%" stop-color="#ecbf85"/><stop offset="78.16%" stop-color="#be754f"/><stop offset="78.59%" stop-color="#b06447"/><stop offset="78.87%" stop-color="#ac6045"/><stop offset="79.16%" stop-color="#ae6246"/><stop offset="79.59%" stop-color="#b9704d"/><stop offset="80.73%" stop-color="#e7ad6f"/><stop offset="81.31%" stop-color="#ebbb81"/><stop offset="81.88%" stop-color="#edc48c"/><stop offset="82.59%" stop-color="#efc992"/><stop offset="84.45%" stop-color="#f0ce98"/><stop offset="85.46%" stop-color="#ecbe84"/><stop offset="85.74%" stop-color="#edc28a"/><stop offset="86.32%" stop-color="#f2d5a1"/><stop offset="86.6%" stop-color="#f3daa7"/><stop offset="88.18%" stop-color="#f5e2b1"/><stop offset="91.33%" stop-color="#f6e6b5"/><stop offset="99.91%" stop-color="#f6e6b6"/></linearGradient>
<linearGradient id="h74" gradientUnits="userSpaceOnUse" x1="0" y1="553" x2="0" y2="902.3"><stop offset="0%" stop-color="#f6e7b6"/><stop offset="12.45%" stop-color="#f6e5b4"/><stop offset="14.6%" stop-color="#f4dfad"/><stop offset="18.75%" stop-color="#efcb94"/><stop offset="22.19%" stop-color="#ecc086"/><stop offset="23.76%" stop-color="#ecbf85"/><stop offset="26.2%" stop-color="#eec58d"/><stop offset="27.05%" stop-color="#eec58d"/><stop offset="27.63%" stop-color="#edc187"/><stop offset="28.2%" stop-color="#eab77c"/><stop offset="28.77%" stop-color="#e6a869"/><stop offset="30.06%" stop-color="#a75941"/><stop offset="30.49%" stop-color="#9a4939"/><stop offset="30.78%" stop-color="#974537"/><stop offset="31.21%" stop-color="#9b4a3a"/><stop offset="31.63%" stop-color="#a95c43"/><stop offset="33.21%" stop-color="#eab77b"/><stop offset="33.64%" stop-color="#edc38a"/><stop offset="34.21%" stop-color="#f0ce99"/><stop offset="35.5%" stop-color="#f3dba8"/><stop offset="37.79%" stop-color="#f5e2b0"/><stop offset="41.8%" stop-color="#f6e5b5"/><stop offset="48.81%" stop-color="#f6e7b6"/><stop offset="49.96%" stop-color="#f6e5b4"/><stop offset="52.1%" stop-color="#f4dca9"/><stop offset="54.39%" stop-color="#f6e6b5"/><stop offset="56.11%" stop-color="#f6e7b7"/><stop offset="69.71%" stop-color="#f6e4b4"/><stop offset="73.72%" stop-color="#f5e0af"/><stop offset="75.15%" stop-color="#f3daa7"/><stop offset="76.01%" stop-color="#f1d09a"/><stop offset="76.72%" stop-color="#ecbf86"/><stop offset="78.16%" stop-color="#c37b52"/><stop offset="78.59%" stop-color="#b66b4a"/><stop offset="78.87%" stop-color="#b36849"/><stop offset="79.44%" stop-color="#bc724e"/><stop offset="81.02%" stop-color="#eab67b"/><stop offset="81.88%" stop-color="#eec48c"/><stop offset="82.59%" stop-color="#efc992"/><stop offset="84.31%" stop-color="#f0ce98"/><stop offset="84.6%" stop-color="#f0cc96"/><stop offset="85.17%" stop-color="#edc289"/><stop offset="85.46%" stop-color="#edc087"/><stop offset="86.46%" stop-color="#f3d9a5"/><stop offset="87.17%" stop-color="#f4dfac"/><stop offset="90.47%" stop-color="#f6e6b5"/><stop offset="99.91%" stop-color="#f6e7b6"/></linearGradient>
<linearGradient id="h75" gradientUnits="userSpaceOnUse" x1="0" y1="553" x2="0" y2="902.3"><stop offset="0%" stop-color="#f6e5b4"/><stop offset="12.31%" stop-color="#f5e3b2"/><stop offset="14.46%" stop-color="#f4deac"/><stop offset="18.61%" stop-color="#efcb94"/><stop offset="22.19%" stop-color="#ecc087"/><stop offset="23.76%" stop-color="#ecbf85"/><stop offset="26.91%" stop-color="#edc48c"/><stop offset="27.48%" stop-color="#ecc087"/><stop offset="28.06%" stop-color="#eab87d"/><stop offset="28.63%" stop-color="#e7ab6d"/><stop offset="30.06%" stop-color="#ab5d44"/><stop offset="30.49%" stop-color="#a0503d"/><stop offset="30.78%" stop-color="#9d4d3b"/><stop offset="31.06%" stop-color="#a0503d"/><stop offset="31.49%" stop-color="#ab5e44"/><stop offset="33.21%" stop-color="#eab87d"/><stop offset="34.21%" stop-color="#f0ce98"/><stop offset="35.5%" stop-color="#f3d9a6"/><stop offset="37.79%" stop-color="#f5e0ae"/><stop offset="48.67%" stop-color="#f6e5b4"/><stop offset="52.1%" stop-color="#f4dca9"/><stop offset="54.25%" stop-color="#f6e4b3"/><stop offset="56.11%" stop-color="#f6e5b4"/><stop offset="69.42%" stop-color="#f5e2b1"/><stop offset="73.58%" stop-color="#f4deac"/><stop offset="75.01%" stop-color="#f3d9a5"/><stop offset="76.01%" stop-color="#f0cd97"/><stop offset="76.72%" stop-color="#ebbc82"/><stop offset="78.16%" stop-color="#bf7750"/><stop offset="78.59%" stop-color="#b36849"/><stop offset="78.87%" stop-color="#b06547"/><stop offset="79.44%" stop-color="#b9704c"/><stop offset="80.88%" stop-color="#e8b073"/><stop offset="81.73%" stop-color="#ecbf86"/><stop offset="82.45%" stop-color="#eec58c"/><stop offset="84.31%" stop-color="#efca93"/><stop offset="84.74%" stop-color="#eec78f"/><stop offset="85.17%" stop-color="#ecbd83"/><stop offset="85.46%" stop-color="#ebba80"/><stop offset="85.74%" stop-color="#ecbf86"/><stop offset="86.46%" stop-color="#f2d5a1"/><stop offset="87.32%" stop-color="#f4ddaa"/><stop offset="90.61%" stop-color="#f6e4b2"/><stop offset="99.91%" stop-color="#f6e5b4"/></linearGradient>
<pattern id="nzg" href="#nz" patternTransform="translate(1071.32,553) scale(1,1.4)"/>
<linearGradient id="h76" gradientUnits="userSpaceOnUse" x1="0" y1="553" x2="0" y2="902.3"><stop offset="0%" stop-color="#f5e3b1"/><stop offset="13.6%" stop-color="#f5e1b0"/><stop offset="15.75%" stop-color="#f4dfad"/><stop offset="17.32%" stop-color="#f3d9a5"/><stop offset="18.75%" stop-color="#f0cf99"/><stop offset="19.75%" stop-color="#ecc087"/><stop offset="20.47%" stop-color="#e7ac6e"/><stop offset="21.47%" stop-color="#ad6145"/><stop offset="21.76%" stop-color="#9e4e3c"/><stop offset="22.04%" stop-color="#954336"/><stop offset="22.33%" stop-color="#934035"/><stop offset="22.62%" stop-color="#984638"/><stop offset="22.9%" stop-color="#a3553f"/><stop offset="24.33%" stop-color="#e9b478"/><stop offset="25.19%" stop-color="#eec890"/><stop offset="25.91%" stop-color="#f1d09b"/><stop offset="26.91%" stop-color="#f2d7a3"/><stop offset="29.2%" stop-color="#f4dfad"/><stop offset="99.91%" stop-color="#f5e3b1"/></linearGradient>
<linearGradient id="h77" gradientUnits="userSpaceOnUse" x1="0" y1="553" x2="0" y2="902.3"><stop offset="0%" stop-color="#f5e1af"/><stop offset="13.88%" stop-color="#f5e0ae"/><stop offset="16.03%" stop-color="#f4ddaa"/><stop offset="17.61%" stop-color="#f2d7a3"/><stop offset="18.89%" stop-color="#f0ce97"/><stop offset="19.75%" stop-color="#ecc087"/><stop offset="20.47%" stop-color="#e7a96b"/><stop offset="21.61%" stop-color="#9d4d3b"/><stop offset="21.9%" stop-color="#913e34"/><stop offset="22.19%" stop-color="#8c3831"/><stop offset="22.47%" stop-color="#8f3c33"/><stop offset="22.76%" stop-color="#994839"/><stop offset="24.19%" stop-color="#e8b074"/><stop offset="24.62%" stop-color="#ecbd83"/><stop offset="25.05%" stop-color="#eec68e"/><stop offset="25.77%" stop-color="#f0ce99"/><stop offset="26.77%" stop-color="#f2d6a1"/><stop offset="29.2%" stop-color="#f4deab"/><stop offset="99.91%" stop-color="#f5e1af"/></linearGradient>
<linearGradient id="h78" gradientUnits="userSpaceOnUse" x1="0" y1="553" x2="0" y2="902.3"><stop offset="0%" stop-color="#f6e4b3"/><stop offset="13.6%" stop-color="#f5e3b2"/><stop offset="15.75%" stop-color="#f5e0af"/><stop offset="17.32%" stop-color="#f3daa7"/><stop offset="18.75%" stop-color="#f0cf9a"/><stop offset="19.75%" stop-color="#ecbf85"/><stop offset="20.47%" stop-color="#e6a769"/><stop offset="21.61%" stop-color="#994839"/><stop offset="21.9%" stop-color="#8d3932"/><stop offset="22.19%" stop-color="#89332f"/><stop offset="22.47%" stop-color="#8c3731"/><stop offset="22.76%" stop-color="#964437"/><stop offset="24.19%" stop-color="#e8b073"/><stop offset="24.62%" stop-color="#ecbd83"/><stop offset="25.05%" stop-color="#eec68e"/><stop offset="25.77%" stop-color="#f0cf9a"/><stop offset="26.77%" stop-color="#f2d8a4"/><stop offset="29.2%" stop-color="#f5e1af"/><stop offset="99.91%" stop-color="#f6e4b3"/></linearGradient>
<linearGradient id="h79" gradientUnits="userSpaceOnUse" x1="0" y1="553" x2="0" y2="902.3"><stop offset="0%" stop-color="#f6e4b3"/><stop offset="13.74%" stop-color="#f5e3b1"/><stop offset="15.89%" stop-color="#f5e0ae"/><stop offset="17.46%" stop-color="#f3daa7"/><stop offset="18.89%" stop-color="#f0cf9a"/><stop offset="19.75%" stop-color="#edc189"/><stop offset="20.47%" stop-color="#e7ab6d"/><stop offset="21.61%" stop-color="#9f4f3c"/><stop offset="21.9%" stop-color="#934035"/><stop offset="22.19%" stop-color="#8e3a32"/><stop offset="22.47%" stop-color="#913e34"/><stop offset="22.76%" stop-color="#9c4b3a"/><stop offset="24.19%" stop-color="#e9b377"/><stop offset="24.62%" stop-color="#ecc086"/><stop offset="25.05%" stop-color="#efc891"/><stop offset="25.77%" stop-color="#f1d19c"/><stop offset="26.62%" stop-color="#f3d8a4"/><stop offset="29.06%" stop-color="#f5e0af"/><stop offset="99.91%" stop-color="#f6e4b3"/></linearGradient>
<linearGradient id="h80" gradientUnits="userSpaceOnUse" x1="0" y1="553" x2="0" y2="902.3"><stop offset="0%" stop-color="#f6e5b4"/><stop offset="13.74%" stop-color="#f6e3b2"/><stop offset="15.89%" stop-color="#f5e1af"/><stop offset="17.46%" stop-color="#f4dca9"/><stop offset="18.89%" stop-color="#f1d29d"/><stop offset="19.75%" stop-color="#eec58d"/><stop offset="20.47%" stop-color="#e8b074"/><stop offset="21.61%" stop-color="#b06447"/><stop offset="21.9%" stop-color="#a55740"/><stop offset="22.19%" stop-color="#a1523e"/><stop offset="22.47%" stop-color="#a45540"/><stop offset="22.76%" stop-color="#ae6145"/><stop offset="24.19%" stop-color="#eab87d"/><stop offset="24.62%" stop-color="#edc48b"/><stop offset="25.05%" stop-color="#efcc95"/><stop offset="26.62%" stop-color="#f3d9a6"/><stop offset="29.06%" stop-color="#f5e1b0"/><stop offset="99.91%" stop-color="#f6e5b4"/></linearGradient>
<linearGradient id="h81" gradientUnits="userSpaceOnUse" x1="0" y1="553" x2="0" y2="902.3"><stop offset="0%" stop-color="#f5e2b1"/><stop offset="13.74%" stop-color="#f5e1b0"/><stop offset="15.89%" stop-color="#f4dfac"/><stop offset="17.46%" stop-color="#f3d9a6"/><stop offset="18.89%" stop-color="#f0cf9a"/><stop offset="19.75%" stop-color="#edc48b"/><stop offset="20.47%" stop-color="#e8b073"/><stop offset="21.76%" stop-color="#a95b42"/><stop offset="22.04%" stop-color="#a0503d"/><stop offset="22.33%" stop-color="#9d4d3b"/><stop offset="22.62%" stop-color="#a1523e"/><stop offset="22.9%" stop-color="#ac5f44"/><stop offset="24.33%" stop-color="#eab77c"/><stop offset="25.19%" stop-color="#efca93"/><stop offset="26.77%" stop-color="#f2d7a4"/><stop offset="29.2%" stop-color="#f4dfad"/><stop offset="99.91%" stop-color="#f5e2b1"/></linearGradient>
<linearGradient id="h82" gradientUnits="userSpaceOnUse" x1="0" y1="553" x2="0" y2="902.3"><stop offset="0%" stop-color="#f5e3b1"/><stop offset="13.6%" stop-color="#f5e2b0"/><stop offset="15.75%" stop-color="#f4dfad"/><stop offset="17.46%" stop-color="#f3daa6"/><stop offset="18.89%" stop-color="#f1d09a"/><stop offset="19.75%" stop-color="#edc48b"/><stop offset="20.47%" stop-color="#e8b073"/><stop offset="21.61%" stop-color="#b16547"/><stop offset="21.9%" stop-color="#a65741"/><stop offset="22.19%" stop-color="#a1523e"/><stop offset="22.47%" stop-color="#a3543f"/><stop offset="22.76%" stop-color="#ac5f44"/><stop offset="24.19%" stop-color="#eab67b"/><stop offset="24.62%" stop-color="#edc289"/><stop offset="25.05%" stop-color="#efca93"/><stop offset="25.77%" stop-color="#f1d29d"/><stop offset="26.62%" stop-color="#f3d8a4"/><stop offset="29.06%" stop-color="#f4dfad"/><stop offset="99.91%" stop-color="#f5e3b1"/></linearGradient>
<linearGradient id="h83" gradientUnits="userSpaceOnUse" x1="0" y1="553" x2="0" y2="902.3"><stop offset="0%" stop-color="#f5e3b1"/><stop offset="13.88%" stop-color="#f5e1b0"/><stop offset="16.03%" stop-color="#f4deac"/><stop offset="17.61%" stop-color="#f3d8a5"/><stop offset="18.89%" stop-color="#f0ce98"/><stop offset="19.75%" stop-color="#ecc086"/><stop offset="20.47%" stop-color="#e6a769"/><stop offset="21.61%" stop-color="#964437"/><stop offset="21.9%" stop-color="#8a3530"/><stop offset="22.19%" stop-color="#85302d"/><stop offset="22.47%" stop-color="#89342f"/><stop offset="22.76%" stop-color="#944236"/><stop offset="24.19%" stop-color="#e8b174"/><stop offset="24.62%" stop-color="#ecbe84"/><stop offset="25.05%" stop-color="#eec78f"/><stop offset="25.77%" stop-color="#f0d09a"/><stop offset="26.62%" stop-color="#f2d6a2"/><stop offset="29.06%" stop-color="#f4dfad"/><stop offset="99.91%" stop-color="#f5e3b1"/></linearGradient>
<linearGradient id="h84" gradientUnits="userSpaceOnUse" x1="0" y1="553" x2="0" y2="902.3"><stop offset="0%" stop-color="#f6e6b6"/><stop offset="13.46%" stop-color="#f6e5b4"/><stop offset="15.6%" stop-color="#f5e3b1"/><stop offset="17.18%" stop-color="#f4deab"/><stop offset="18.75%" stop-color="#f1d39e"/><stop offset="19.75%" stop-color="#eec68e"/><stop offset="20.47%" stop-color="#e9b377"/><stop offset="21.61%" stop-color="#bb724e"/><stop offset="21.9%" stop-color="#b16547"/><stop offset="22.19%" stop-color="#ac6045"/><stop offset="22.47%" stop-color="#ae6246"/><stop offset="22.76%" stop-color="#b66b4a"/><stop offset="24.19%" stop-color="#eab87d"/><stop offset="24.62%" stop-color="#edc38a"/><stop offset="25.19%" stop-color="#f0cd96"/><stop offset="27.05%" stop-color="#f4dca9"/><stop offset="29.34%" stop-color="#f5e3b2"/><stop offset="99.91%" stop-color="#f6e6b6"/></linearGradient>
<linearGradient id="h85" gradientUnits="userSpaceOnUse" x1="0" y1="553" x2="0" y2="902.3"><stop offset="0%" stop-color="#f5e3b2"/><stop offset="13.88%" stop-color="#f5e2b0"/><stop offset="16.03%" stop-color="#f4dfad"/><stop offset="17.75%" stop-color="#f3d9a5"/><stop offset="18.89%" stop-color="#f1d19b"/><stop offset="19.75%" stop-color="#edc38b"/><stop offset="20.47%" stop-color="#e7ad6f"/><stop offset="21.61%" stop-color="#9f503d"/><stop offset="21.9%" stop-color="#924035"/><stop offset="22.19%" stop-color="#8d3931"/><stop offset="22.47%" stop-color="#903c33"/><stop offset="22.76%" stop-color="#9a4939"/><stop offset="24.19%" stop-color="#e9b478"/><stop offset="24.62%" stop-color="#edc188"/><stop offset="25.05%" stop-color="#efca93"/><stop offset="25.62%" stop-color="#f1d19c"/><stop offset="26.48%" stop-color="#f2d7a4"/><stop offset="28.91%" stop-color="#f5e0ae"/><stop offset="99.91%" stop-color="#f5e3b2"/></linearGradient>
<linearGradient id="h86" gradientUnits="userSpaceOnUse" x1="0" y1="553" x2="0" y2="902.3"><stop offset="0%" stop-color="#f6e4b3"/><stop offset="13.46%" stop-color="#f5e3b2"/><stop offset="15.6%" stop-color="#f5e1af"/><stop offset="17.18%" stop-color="#f4dca9"/><stop offset="18.61%" stop-color="#f1d49f"/><stop offset="19.61%" stop-color="#efc891"/><stop offset="20.33%" stop-color="#eab87d"/><stop offset="21.61%" stop-color="#bc734e"/><stop offset="21.9%" stop-color="#b36748"/><stop offset="22.19%" stop-color="#ae6246"/><stop offset="22.47%" stop-color="#b06447"/><stop offset="22.76%" stop-color="#b86e4c"/><stop offset="24.19%" stop-color="#ebb97e"/><stop offset="24.62%" stop-color="#edc48b"/><stop offset="25.19%" stop-color="#f0cd97"/><stop offset="26.91%" stop-color="#f3daa7"/><stop offset="29.2%" stop-color="#f5e1af"/><stop offset="99.91%" stop-color="#f6e4b3"/></linearGradient>
<linearGradient id="h87" gradientUnits="userSpaceOnUse" x1="0" y1="553" x2="0" y2="902.3"><stop offset="0%" stop-color="#f4dfad"/><stop offset="13.6%" stop-color="#f4deac"/><stop offset="15.6%" stop-color="#f3dca9"/><stop offset="17.18%" stop-color="#f2d6a2"/><stop offset="18.61%" stop-color="#efcc95"/><stop offset="19.61%" stop-color="#ecbe84"/><stop offset="20.33%" stop-color="#e7ab6d"/><stop offset="21.76%" stop-color="#944236"/><stop offset="22.04%" stop-color="#8b3630"/><stop offset="22.33%" stop-color="#88332f"/><stop offset="22.62%" stop-color="#8e3a32"/><stop offset="22.9%" stop-color="#994839"/><stop offset="24.19%" stop-color="#e7a96b"/><stop offset="24.62%" stop-color="#eab67b"/><stop offset="25.19%" stop-color="#edc289"/><stop offset="25.91%" stop-color="#efcb94"/><stop offset="26.91%" stop-color="#f1d39e"/><stop offset="29.34%" stop-color="#f4dca9"/><stop offset="99.91%" stop-color="#f4dfad"/></linearGradient>
<linearGradient id="h88" gradientUnits="userSpaceOnUse" x1="0" y1="553" x2="0" y2="902.3"><stop offset="0%" stop-color="#f6e4b3"/><stop offset="13.74%" stop-color="#f5e3b2"/><stop offset="15.89%" stop-color="#f5e1af"/><stop offset="17.61%" stop-color="#f3daa7"/><stop offset="18.89%" stop-color="#f1d19b"/><stop offset="19.75%" stop-color="#edc28a"/><stop offset="20.47%" stop-color="#e7ab6c"/><stop offset="21.61%" stop-color="#9c4c3b"/><stop offset="21.9%" stop-color="#903d33"/><stop offset="22.19%" stop-color="#8c3731"/><stop offset="22.47%" stop-color="#8f3c33"/><stop offset="22.76%" stop-color="#9a4a3a"/><stop offset="24.19%" stop-color="#e9b478"/><stop offset="24.62%" stop-color="#edc188"/><stop offset="25.05%" stop-color="#efc992"/><stop offset="25.77%" stop-color="#f1d29d"/><stop offset="26.62%" stop-color="#f3d8a5"/><stop offset="29.06%" stop-color="#f5e1af"/><stop offset="99.91%" stop-color="#f6e4b3"/></linearGradient>
<linearGradient id="h89" gradientUnits="userSpaceOnUse" x1="0" y1="553" x2="0" y2="902.3"><stop offset="0%" stop-color="#f5e2b0"/><stop offset="13.74%" stop-color="#f5e1af"/><stop offset="15.89%" stop-color="#f4deac"/><stop offset="17.46%" stop-color="#f3d9a5"/><stop offset="18.89%" stop-color="#f0cf99"/><stop offset="19.75%" stop-color="#edc289"/><stop offset="20.47%" stop-color="#e8ad6f"/><stop offset="21.61%" stop-color="#a75941"/><stop offset="21.9%" stop-color="#9b4a3a"/><stop offset="22.19%" stop-color="#964437"/><stop offset="22.47%" stop-color="#984738"/><stop offset="22.76%" stop-color="#a1523e"/><stop offset="24.19%" stop-color="#e9b376"/><stop offset="24.62%" stop-color="#ecbf85"/><stop offset="25.05%" stop-color="#eec790"/><stop offset="25.77%" stop-color="#f0d09a"/><stop offset="26.77%" stop-color="#f2d7a3"/><stop offset="29.2%" stop-color="#f4deac"/><stop offset="99.91%" stop-color="#f5e2b0"/></linearGradient>
<linearGradient id="h90" gradientUnits="userSpaceOnUse" x1="0" y1="553" x2="0" y2="902.3"><stop offset="0%" stop-color="#f6e4b3"/><stop offset="13.74%" stop-color="#f5e2b1"/><stop offset="15.89%" stop-color="#f5e0ae"/><stop offset="17.46%" stop-color="#f3dba7"/><stop offset="18.89%" stop-color="#f1d19c"/><stop offset="19.75%" stop-color="#eec58d"/><stop offset="20.47%" stop-color="#e9b175"/><stop offset="21.61%" stop-color="#b36849"/><stop offset="22.04%" stop-color="#a45640"/><stop offset="22.33%" stop-color="#a2533f"/><stop offset="22.62%" stop-color="#a85a42"/><stop offset="22.9%" stop-color="#b36848"/><stop offset="24.19%" stop-color="#eab67b"/><stop offset="24.62%" stop-color="#edc289"/><stop offset="25.05%" stop-color="#efca93"/><stop offset="25.77%" stop-color="#f1d29d"/><stop offset="26.77%" stop-color="#f3d9a5"/><stop offset="29.2%" stop-color="#f5e0af"/><stop offset="99.91%" stop-color="#f6e4b3"/></linearGradient>
<linearGradient id="h91" gradientUnits="userSpaceOnUse" x1="0" y1="553" x2="0" y2="902.3"><stop offset="0%" stop-color="#f6e6b5"/><stop offset="13.74%" stop-color="#f6e4b4"/><stop offset="15.89%" stop-color="#f5e2b0"/><stop offset="17.61%" stop-color="#f4dca9"/><stop offset="18.89%" stop-color="#f1d39e"/><stop offset="19.75%" stop-color="#eec58d"/><stop offset="20.47%" stop-color="#e8af71"/><stop offset="21.61%" stop-color="#a65841"/><stop offset="21.9%" stop-color="#9a4a3a"/><stop offset="22.19%" stop-color="#964437"/><stop offset="22.47%" stop-color="#994839"/><stop offset="22.76%" stop-color="#a4553f"/><stop offset="24.19%" stop-color="#eab77b"/><stop offset="24.62%" stop-color="#edc38a"/><stop offset="25.05%" stop-color="#efcb95"/><stop offset="25.77%" stop-color="#f2d49f"/><stop offset="26.62%" stop-color="#f3daa7"/><stop offset="29.06%" stop-color="#f5e2b1"/><stop offset="99.91%" stop-color="#f6e6b5"/></linearGradient>
<linearGradient id="h92" gradientUnits="userSpaceOnUse" x1="0" y1="553" x2="0" y2="902.3"><stop offset="0%" stop-color="#f5e2b0"/><stop offset="13.6%" stop-color="#f5e1af"/><stop offset="15.75%" stop-color="#f4deac"/><stop offset="17.32%" stop-color="#f3d8a4"/><stop offset="18.75%" stop-color="#f0ce97"/><stop offset="19.75%" stop-color="#ecbe84"/><stop offset="20.47%" stop-color="#e6a869"/><stop offset="21.61%" stop-color="#9d4d3b"/><stop offset="21.9%" stop-color="#913d34"/><stop offset="22.19%" stop-color="#8b3730"/><stop offset="22.47%" stop-color="#8d3931"/><stop offset="22.76%" stop-color="#974537"/><stop offset="23.05%" stop-color="#a65741"/><stop offset="24.19%" stop-color="#e8ae70"/><stop offset="24.62%" stop-color="#ebbb80"/><stop offset="25.19%" stop-color="#eec68e"/><stop offset="25.91%" stop-color="#f0cf99"/><stop offset="26.91%" stop-color="#f2d6a2"/><stop offset="29.2%" stop-color="#f4deac"/><stop offset="99.91%" stop-color="#f5e2b0"/></linearGradient>
<linearGradient id="h93" gradientUnits="userSpaceOnUse" x1="0" y1="553" x2="0" y2="902.3"><stop offset="0%" stop-color="#f6e4b3"/><stop offset="13.88%" stop-color="#f5e3b2"/><stop offset="16.03%" stop-color="#f5e0ae"/><stop offset="17.75%" stop-color="#f3daa6"/><stop offset="18.89%" stop-color="#f1d19c"/><stop offset="19.75%" stop-color="#edc48b"/><stop offset="20.47%" stop-color="#e8ad6f"/><stop offset="21.47%" stop-color="#a85a42"/><stop offset="21.76%" stop-color="#974538"/><stop offset="22.04%" stop-color="#8d3931"/><stop offset="22.33%" stop-color="#8b3630"/><stop offset="22.62%" stop-color="#913e34"/><stop offset="22.9%" stop-color="#9e4e3c"/><stop offset="24.19%" stop-color="#e9b275"/><stop offset="24.62%" stop-color="#ecbf86"/><stop offset="25.05%" stop-color="#efc891"/><stop offset="25.77%" stop-color="#f1d29c"/><stop offset="26.62%" stop-color="#f3d8a4"/><stop offset="29.06%" stop-color="#f5e1af"/><stop offset="99.91%" stop-color="#f6e4b3"/></linearGradient>
<linearGradient id="h94" gradientUnits="userSpaceOnUse" x1="0" y1="553" x2="0" y2="902.3"><stop offset="0%" stop-color="#f5e3b2"/><stop offset="13.46%" stop-color="#f5e2b0"/><stop offset="15.6%" stop-color="#f4dfad"/><stop offset="17.18%" stop-color="#f3daa7"/><stop offset="18.61%" stop-color="#f1d09b"/><stop offset="19.61%" stop-color="#edc38b"/><stop offset="20.33%" stop-color="#e9b174"/><stop offset="21.61%" stop-color="#ab5d43"/><stop offset="21.9%" stop-color="#a0503d"/><stop offset="22.19%" stop-color="#9b4a3a"/><stop offset="22.47%" stop-color="#9d4d3b"/><stop offset="22.76%" stop-color="#a55740"/><stop offset="24.19%" stop-color="#e9b276"/><stop offset="24.62%" stop-color="#ecbe84"/><stop offset="25.19%" stop-color="#efc991"/><stop offset="26.91%" stop-color="#f3d8a4"/><stop offset="29.34%" stop-color="#f5e0ae"/><stop offset="99.91%" stop-color="#f5e3b2"/></linearGradient>
<linearGradient id="h95" gradientUnits="userSpaceOnUse" x1="0" y1="553" x2="0" y2="902.3"><stop offset="0%" stop-color="#f6e4b3"/><stop offset="13.74%" stop-color="#f5e3b2"/><stop offset="15.89%" stop-color="#f5e0ae"/><stop offset="17.46%" stop-color="#f3daa7"/><stop offset="18.89%" stop-color="#f0cf99"/><stop offset="19.75%" stop-color="#edc188"/><stop offset="20.47%" stop-color="#e7aa6b"/><stop offset="21.61%" stop-color="#9c4c3b"/><stop offset="21.9%" stop-color="#903c33"/><stop offset="22.19%" stop-color="#8a3630"/><stop offset="22.47%" stop-color="#8d3931"/><stop offset="22.76%" stop-color="#974638"/><stop offset="24.19%" stop-color="#e9b174"/><stop offset="24.62%" stop-color="#ecbe85"/><stop offset="25.05%" stop-color="#eec790"/><stop offset="25.77%" stop-color="#f1d19b"/><stop offset="26.77%" stop-color="#f3d8a5"/><stop offset="29.2%" stop-color="#f5e1af"/><stop offset="99.91%" stop-color="#f6e4b3"/></linearGradient>
<linearGradient id="h96" gradientUnits="userSpaceOnUse" x1="0" y1="553" x2="0" y2="902.3"><stop offset="0%" stop-color="#f5e2b1"/><stop offset="13.46%" stop-color="#f5e1af"/><stop offset="15.6%" stop-color="#f4dfad"/><stop offset="17.18%" stop-color="#f3daa7"/><stop offset="18.75%" stop-color="#f1d19b"/><stop offset="19.75%" stop-color="#eec48c"/><stop offset="20.47%" stop-color="#e9b376"/><stop offset="21.76%" stop-color="#b46949"/><stop offset="22.04%" stop-color="#ac5f44"/><stop offset="22.33%" stop-color="#aa5c43"/><stop offset="22.62%" stop-color="#ae6145"/><stop offset="22.9%" stop-color="#b76d4b"/><stop offset="24.33%" stop-color="#ebb97f"/><stop offset="25.19%" stop-color="#efca93"/><stop offset="26.91%" stop-color="#f3d8a4"/><stop offset="29.2%" stop-color="#f4dfad"/><stop offset="99.91%" stop-color="#f5e2b1"/></linearGradient>
<linearGradient id="h97" gradientUnits="userSpaceOnUse" x1="0" y1="553" x2="0" y2="902.3"><stop offset="0%" stop-color="#f5e2b0"/><stop offset="13.46%" stop-color="#f5e1af"/><stop offset="15.6%" stop-color="#f4dfac"/><stop offset="17.18%" stop-color="#f3daa7"/><stop offset="18.61%" stop-color="#f1d29c"/><stop offset="19.61%" stop-color="#eec68f"/><stop offset="20.33%" stop-color="#eab67b"/><stop offset="21.76%" stop-color="#b56a4a"/><stop offset="22.04%" stop-color="#ad6145"/><stop offset="22.33%" stop-color="#ac5f44"/><stop offset="22.9%" stop-color="#ba714d"/><stop offset="24.33%" stop-color="#ebbb80"/><stop offset="25.19%" stop-color="#efcb94"/><stop offset="26.91%" stop-color="#f3d8a5"/><stop offset="29.2%" stop-color="#f4dfad"/><stop offset="99.91%" stop-color="#f5e2b0"/></linearGradient>
<linearGradient id="h98" gradientUnits="userSpaceOnUse" x1="0" y1="553" x2="0" y2="902.3"><stop offset="0%" stop-color="#f5e3b2"/><stop offset="13.6%" stop-color="#f5e2b1"/><stop offset="15.75%" stop-color="#f5e0ae"/><stop offset="17.32%" stop-color="#f3daa7"/><stop offset="18.75%" stop-color="#f1d19b"/><stop offset="19.75%" stop-color="#edc289"/><stop offset="20.47%" stop-color="#e8ae71"/><stop offset="21.61%" stop-color="#ad6145"/><stop offset="21.9%" stop-color="#a2533e"/><stop offset="22.19%" stop-color="#9d4d3b"/><stop offset="22.47%" stop-color="#9f4f3c"/><stop offset="22.76%" stop-color="#a75a42"/><stop offset="24.19%" stop-color="#e9b377"/><stop offset="24.62%" stop-color="#ecbf85"/><stop offset="25.19%" stop-color="#efc992"/><stop offset="26.91%" stop-color="#f3d8a4"/><stop offset="29.34%" stop-color="#f5e0ae"/><stop offset="99.91%" stop-color="#f5e3b2"/></linearGradient>
<linearGradient id="h99" gradientUnits="userSpaceOnUse" x1="0" y1="553" x2="0" y2="902.3"><stop offset="0%" stop-color="#f6e5b4"/><stop offset="13.74%" stop-color="#f6e3b2"/><stop offset="15.89%" stop-color="#f5e1af"/><stop offset="17.46%" stop-color="#f3dba8"/><stop offset="18.89%" stop-color="#f1d09b"/><stop offset="19.75%" stop-color="#edc38a"/><stop offset="20.47%" stop-color="#e8ad70"/><stop offset="21.61%" stop-color="#a55740"/><stop offset="21.9%" stop-color="#9a4839"/><stop offset="22.19%" stop-color="#944236"/><stop offset="22.47%" stop-color="#974537"/><stop offset="22.76%" stop-color="#a1513d"/><stop offset="24.19%" stop-color="#e9b478"/><stop offset="24.62%" stop-color="#edc188"/><stop offset="25.05%" stop-color="#efca93"/><stop offset="25.77%" stop-color="#f1d29d"/><stop offset="26.62%" stop-color="#f3d9a5"/><stop offset="29.06%" stop-color="#f5e1b0"/><stop offset="99.91%" stop-color="#f6e5b4"/></linearGradient>
<linearGradient id="h100" gradientUnits="userSpaceOnUse" x1="0" y1="553" x2="0" y2="902.3"><stop offset="0%" stop-color="#f6e5b4"/><stop offset="13.6%" stop-color="#f6e4b3"/><stop offset="15.75%" stop-color="#f5e2b0"/><stop offset="17.32%" stop-color="#f4dca9"/><stop offset="18.75%" stop-color="#f1d29d"/><stop offset="19.75%" stop-color="#edc48c"/><stop offset="20.47%" stop-color="#e8af72"/><stop offset="21.61%" stop-color="#ac5f44"/><stop offset="22.04%" stop-color="#9c4c3b"/><stop offset="22.33%" stop-color="#9a493a"/><stop offset="22.62%" stop-color="#a0503d"/><stop offset="22.9%" stop-color="#ab5e44"/><stop offset="24.19%" stop-color="#e9b478"/><stop offset="24.62%" stop-color="#edc087"/><stop offset="25.05%" stop-color="#efc992"/><stop offset="25.77%" stop-color="#f1d29d"/><stop offset="26.77%" stop-color="#f3daa6"/><stop offset="29.2%" stop-color="#f5e2b0"/><stop offset="99.91%" stop-color="#f6e5b4"/></linearGradient>
<pattern id="nzh" href="#nz" patternTransform="translate(1571.83,553) scale(1,1.4)"/>
</defs>
<rect width="2000" height="965" fill="#fff"/>
<polyline points="99.5,257.86 100.23,267.15 100.96,267.47 101.69,269.84 102.42,264.48 103.15,273.5 103.88,263.7 104.61,272.86 105.34,267.87 106.07,269.49 106.8,259.42 107.53,255.18 108.26,230.27 108.99,223.29 109.72,228.7 110.45,254.76 111.18,261.62 111.91,267.49 112.64,264.22 113.37,260.83 114.1,265.18 114.83,257.96 115.56,259.25 116.29,260.25 117.02,261.62 117.75,267.61 118.48,265.33 119.21,266.29 119.94,263.65 120.67,258.62 121.4,262.06 122.13,261.52 122.86,260.6 123.59,261.16 124.32,261.34 125.05,257.15 125.78,261.32 126.51,258.12 127.24,252.58 127.97,252.84 128.7,254.71 129.43,251.38 130.16,246.36 130.89,238.93 131.62,248.99 132.35,254.61 133.08,256.74 133.81,256.17 134.54,262.44 135.27,261.21 136,263.79 136.73,267.14 137.46,266.46 138.19,266.78 138.92,267.36 139.65,264.59 140.38,260.53 141.11,259.52 141.84,259.5 142.57,254.32 143.3,258.29 144.03,249.1 144.76,251.69 145.49,251.68 146.22,248.35 146.95,250.5 147.68,247.92 148.41,246 149.14,240.8 149.87,244.72 150.6,234.38 151.33,219.41 152.06,205.08 152.79,199.31 153.52,198.92 154.25,213.2 154.98,221.07 155.71,231.85 156.44,241.84 157.17,251.96 157.9,259.17 158.63,261.03 159.36,257.38 160.09,257.26 160.82,257.21 161.55,257.15 162.28,255.11 163.01,243.79 163.74,241.91 164.47,248.73 165.2,256.83 165.93,262.81 166.66,264.74 167.39,265.66 168.12,263.37 168.85,261.96 169.58,263.04 170.31,261.72 171.04,267.99 171.77,264.6 172.5,270.57 173.23,264.02 173.96,264.95 174.69,261.63 175.42,264.75 176.15,259.8 176.88,257.57 177.61,265.37 178.34,261.8 179.07,263.74 179.8,268.4 180.53,265.33 181.26,263.79 181.99,272.35 182.72,268 183.45,273.44 184.18,268.52 184.91,274.44 185.64,262.67 186.37,264 187.1,264.68 187.83,266.14 188.56,259 189.29,260.65 190.02,274.07 190.75,264.16 191.48,265.01 192.21,267.45 192.94,270.82 193.67,262.94 194.4,269.62 195.13,268.51 195.86,271.45 196.59,264.23 197.32,263.72 198.05,265.28 198.78,263.12 199.51,267.49 200.24,264.06 200.97,267.85 201.7,268.67 202.43,268.35 203.16,266.4 203.89,265.31 204.62,264.27 205.35,266.97 206.08,266.56 206.81,265.63 207.54,267.1 208.27,265.17 209,266.44 209.73,273.53 210.46,262.07 211.19,259.76 211.92,264.93 212.65,269.92 213.38,270.06 214.11,271.5 214.84,270.11 215.57,272.93 216.3,267.93 217.03,266.46 217.76,260.68 218.49,262.5 219.22,261.89 219.95,263.81 220.68,261.87 221.41,265.81 222.14,261.37 222.87,273.41 223.6,273.77 224.33,269.47 225.06,266.11 225.79,271.74 226.52,271.24 227.25,269.36 227.98,262.48 228.71,267.63 229.44,265.02 230.17,269.72 230.9,272.25 231.63,268.31 232.36,265.6 233.09,264.47 233.82,266.42 234.55,267.76 235.28,264.54 236.01,266.33 236.74,264.7 237.47,265.72 238.2,263.31 238.93,267.09 239.66,259.67 240.39,260.55 241.12,263.95 241.85,269.51 242.58,260.5 243.31,263.02 244.04,263.76 244.77,262.52 245.5,267.75 246.23,265.15 246.96,270.17 247.69,262.74 248.42,272.16 249.15,272.17 249.88,269.92 250.61,269 251.34,269.93 252.07,261.01 252.8,267.94 253.53,272.56 254.26,261.94 254.99,267.29 255.72,268.43 256.45,264.65 257.18,263.94 257.91,269.26 258.64,264.6 259.37,269.29 260.1,265.68 260.83,270.65 261.56,266.82 262.29,269.4 263.02,271.25 263.75,258.94 264.48,265.99 265.21,264.68 265.94,266.79 266.67,269.18 267.4,266.4 268.13,267.98 268.86,266.87 269.59,264.51 270.32,267.9 271.05,272.32 271.78,271.57 272.51,270.11 273.24,270.71 273.97,262.12 274.7,265.58 275.43,262.47 276.16,261.5 276.89,266.85 277.62,267.36 278.35,262.87 279.08,267.48 279.81,273.13 280.54,266.7 281.27,275.55 282,271.91 282.72,272.51 283.45,275.75 284.18,262.21 284.91,268.02 285.64,272.98 286.37,261.7 287.1,265.1 287.83,266.24 288.56,266.98 289.29,265.33 290.02,269.02 290.75,262.59 291.48,264.8 292.21,265.66 292.94,263.36 293.67,268.45 294.4,268.08 295.13,268.93 295.86,269.64 296.59,264.94 297.32,263.15 298.05,263.67 298.78,262.36 299.51,271.67 300.24,269.82 300.97,270.14 301.7,266.02 302.43,271.76 303.16,264.51 303.89,271.09 304.62,269.22 305.35,265.06 306.08,260.92 306.81,263.76 307.54,265.05 308.27,267.75 309,266.75 309.73,274.11 310.46,269.44 311.19,270.56 311.92,269.51 312.65,267.83 313.38,267.99 314.11,269.02 314.84,269.35 315.57,266.66 316.3,266.73 317.03,272.57 317.76,267.9 318.49,262.17 319.22,272.64 319.95,269.91 320.68,269.8 321.41,266.97 322.14,260.18 322.87,266.47 323.6,267.94 324.33,265.39 325.06,266.95 325.79,261.91 326.52,265.32 327.25,262.89 327.98,269.06 328.71,261.88 329.44,267.26 330.17,264.12 330.9,265.93 331.63,266.22 332.36,267.03 333.09,265.07 333.82,269.04 334.55,266.51 335.28,269.06 336.01,263.62 336.74,260.11 337.47,265.72 338.2,259.5 338.93,266.66 339.66,262.17 340.39,264.75 341.12,262.48 341.85,269.52 342.58,267.87 343.31,263.46 344.04,270.25 344.77,273.94 345.5,273.02 346.23,272.68 346.96,272.42 347.69,267.44 348.42,262.69 349.15,267.93 349.88,265.03 350.61,265.53 351.34,266.27 352.07,266.57 352.8,266.27 353.53,263.31 354.26,267.79 354.99,259.7 355.72,259.52 356.45,265.07 357.18,262.06 357.91,265.89 358.64,267.03 359.37,266.64 360.1,266.33 360.83,266.67 361.56,269.32 362.29,268.56 363.02,262.77 363.75,270.41 364.48,263.59 365.21,263.32 365.94,258.85 366.67,259.5 367.4,267.37 368.13,260.22 368.86,264.79 369.59,266.64 370.32,268.01 371.05,266.08 371.78,270.22 372.51,262.48 373.24,266.34 373.97,262.65 374.7,269.33 375.43,271.66 376.16,262.31 376.89,264.04 377.62,264.45 378.35,268.28 379.08,264.89 379.81,261.97 380.54,261.88 381.27,264.29 382,265.82 382.73,267.35 383.46,266.43 384.19,268.69 384.92,257.71 385.65,264.78 386.38,263.45 387.11,268.83 387.84,264.74 388.57,271.25 389.3,262.24 390.03,265.41 390.76,258.09 391.49,268.06 392.22,268.89 392.95,267.59 393.68,265.36 394.41,270.21 395.14,269.3 395.87,273.9 396.6,270.02 397.33,265.72 398.06,264.56 398.79,267.34 399.52,257.58 400.25,257.7 400.98,261.38 401.71,267.41 402.44,264.23 403.17,261.68 403.9,253.43 404.63,254.54 405.36,256.64 406.09,248.09 406.82,238.61 407.55,243.18 408.28,241.3 409.01,232.4 409.74,238.58 410.47,235.5 411.2,227.71 411.93,221.6 412.66,209.53 413.39,187.1 414.12,164.34 414.85,141.84 415.58,130.68 416.31,131.04 417.04,152.29 417.77,176.04 418.5,195.05 419.23,211.51 419.96,218.5 420.69,230.29 421.42,243.54 422.15,247.38 422.88,242.97 423.61,254.68 424.34,254.63 425.07,258.31 425.8,252.93 426.53,258.74 427.26,251.05 427.99,259.39 428.72,254.95 429.45,255.96 430.18,260.2 430.91,257.69 431.64,264.47 432.37,264.89 433.1,261.01 433.83,266.91 434.56,265.69 435.29,264.5 436.02,266.98 436.75,261.08 437.48,262.4 438.21,264.92 438.94,264.31 439.67,262.72 440.4,259.22 441.13,259.82 441.86,263.65 442.59,260.23 443.32,263.9 444.05,266.21 444.78,262.47 445.51,269.73 446.24,270.78 446.97,275.83 447.7,272.31 448.43,266.1 449.16,269.69 449.89,265.74 450.62,271.09 451.35,272.93 452.08,265.85 452.81,263.19" fill="none" stroke="#767676" stroke-width="4.7" stroke-linejoin="round" stroke-linecap="round"/>
<polyline points="99.5,392.08 100.23,391.5 100.96,394.76 101.69,384.32 102.42,392.21 103.15,387.91 103.88,382.42 104.61,388.64 105.34,386.66 106.07,386.66 106.8,383.67 107.53,378.11 108.26,384.67 108.99,391.23 109.72,386.49 110.45,389.49 111.18,386.62 111.91,383.35 112.64,390.34 113.37,387.42 114.1,390 114.83,388.6 115.56,386.75 116.29,390.38 117.02,389.2 117.75,389.13 118.48,392.62 119.21,395.16 119.94,396.02 120.67,391.32 121.4,391.4 122.13,384.39 122.86,395.33 123.59,384.32 124.32,384.36 125.05,378.22 125.78,382.12 126.51,386.46 127.24,386.4 127.97,383.26 128.7,384.82 129.43,367.73 130.16,361.23 130.89,346.82 131.62,359.97 132.35,373.98 133.08,373.96 133.81,372.9 134.54,372.66 135.27,368.09 136,361.9 136.73,364 137.46,363.27 138.19,360.42 138.92,355.53 139.65,354.03 140.38,355.14 141.11,347.99 141.84,346.64 142.57,348.91 143.3,339.46 144.03,337.04 144.76,333.68 145.49,329.61 146.22,335.47 146.95,332.06 147.68,338.8 148.41,345.61 149.14,346.71 149.87,353.67 150.6,362.93 151.33,363.18 152.06,372.79 152.79,374.05 153.52,379.59 154.25,373.65 154.98,387.11 155.71,383.21 156.44,381.11 157.17,392.03 157.9,388.12 158.63,386.46 159.36,382.73 160.09,380.34 160.82,385.19 161.55,387.67 162.28,379.34 163.01,380.68 163.74,386.26 164.47,383.87 165.2,384.21 165.93,383.73 166.66,384.56 167.39,379.08 168.12,389.92 168.85,380.23 169.58,382.07 170.31,384.28 171.04,382.71 171.77,392.55 172.5,382.98 173.23,385.56 173.96,388.62 174.69,382.88 175.42,385.31 176.15,378.97 176.88,380.44 177.61,386.64 178.34,393.09 179.07,391.57 179.8,390.28 180.53,390.61 181.26,392.58 181.99,391.35 182.72,392.67 183.45,393.43 184.18,394.01 184.91,392.46 185.64,381.71 186.37,391.01 187.1,389.5 187.83,385.69 188.56,387.94 189.29,384.66 190.02,382.59 190.75,381.17 191.48,382 192.21,387.75 192.94,382.2 193.67,393.31 194.4,388.84 195.13,389.88 195.86,391.98 196.59,385.56 197.32,385.96 198.05,381.36 198.78,389.25 199.51,381.34 200.24,382.99 200.97,382.34 201.7,385.15 202.43,379.4 203.16,383.6 203.89,382.94 204.62,369.47 205.35,373.96 206.08,376.35 206.81,382.97 207.54,382.86 208.27,384.33 209,387.87 209.73,388.88 210.46,391.43 211.19,396.93 211.92,388.03 212.65,383.3 213.38,381.51 214.11,386.52 214.84,377.2 215.57,384.23 216.3,389.72 217.03,383.26 217.76,385.87 218.49,390.01 219.22,384.55 219.95,383.15 220.68,383.5 221.41,383.8 222.14,379.52 222.87,383.71 223.6,379.54 224.33,391.02 225.06,383.35 225.79,382.02 226.52,385.71 227.25,388.36 227.98,384.82 228.71,387.24 229.44,387.82 230.17,382.22 230.9,379.92 231.63,380.37 232.36,381.83 233.09,379.18 233.82,378.41 234.55,380.49 235.28,388.96 236.01,385.34 236.74,381.9 237.47,380.49 238.2,379.89 238.93,381.27 239.66,386.43 240.39,385.84 241.12,386.14 241.85,374.91 242.58,375.37 243.31,371.27 244.04,359.18 244.77,357.73 245.5,353.6 246.23,347.58 246.96,341.54 247.69,333.07 248.42,328.53 249.15,328.45 249.88,315.82 250.61,313.28 251.34,317.18 252.07,313.45 252.8,323.49 253.53,322.49 254.26,330.37 254.99,343.5 255.72,349.5 256.45,350.06 257.18,355.94 257.91,355.31 258.64,355.86 259.37,362.71 260.1,365.9 260.83,364.17 261.56,376.17 262.29,382.55 263.02,382.42 263.75,385.74 264.48,377.59 265.21,377.01 265.94,371.72 266.67,366.33 267.4,363.7 268.13,358.36 268.86,359.18 269.59,365.37 270.32,373 271.05,376.33 271.78,381.05 272.51,365.97 273.24,373.41 273.97,366.95 274.7,373.28 275.43,379.3 276.16,379.43 276.89,382.98 277.62,385.08 278.35,384.62 279.08,388.63 279.81,383.02 280.54,382.63 281.27,381.96 282,378.62 282.72,374.53 283.45,378.22 284.18,378.59 284.91,387.89 285.64,383.64 286.37,384.69 287.1,386.52 287.83,385.32 288.56,381.29 289.29,386 290.02,384.06 290.75,389.61 291.48,391.46 292.21,390.85 292.94,392.6 293.67,386.88 294.4,387.43 295.13,384.3 295.86,390.01 296.59,390.64 297.32,390.08 298.05,393.63 298.78,390.67 299.51,388.31 300.24,388.52 300.97,386.31 301.7,382.9 302.43,385.84 303.16,389.54 303.89,384.33 304.62,392.1 305.35,393.28 306.08,385.67 306.81,384.03 307.54,382.23 308.27,381.1 309,386.53 309.73,385.42 310.46,381.75 311.19,384.25 311.92,389.76 312.65,383.46 313.38,393.64 314.11,391.86 314.84,386.61 315.57,393.11 316.3,391.02 317.03,390.45 317.76,388.69 318.49,385.35 319.22,385.38 319.95,388.9 320.68,387.6 321.41,385.97 322.14,385.1 322.87,385.71 323.6,382.59 324.33,381.83 325.06,386.72 325.79,386.62 326.52,397.32 327.25,396.9 327.98,388.17 328.71,391.8 329.44,389.74 330.17,386.88 330.9,387.3 331.63,386 332.36,391.39 333.09,388.59 333.82,378.12 334.55,383.38 335.28,388.14 336.01,381.1 336.74,382.99 337.47,381.28 338.2,388.3 338.93,392.71 339.66,386.04 340.39,386.26 341.12,394.76 341.85,387 342.58,388.42 343.31,385.36 344.04,392.44 344.77,386.85 345.5,387.27 346.23,384.01 346.96,386.17 347.69,384.58 348.42,384.88 349.15,380.41 349.88,383.52 350.61,378.63 351.34,383.03 352.07,381.97 352.8,381.17 353.53,385.99 354.26,383.26 354.99,386.32 355.72,384.07 356.45,379.33 357.18,385.29 357.91,381.82 358.64,391.73 359.37,391.35 360.1,385.17 360.83,390.54 361.56,379.48 362.29,380.82 363.02,389.2 363.75,385.62 364.48,384.07 365.21,382.53 365.94,386.41 366.67,386.31 367.4,386.68 368.13,393.05 368.86,393.84 369.59,386.19 370.32,388.27 371.05,381.61 371.78,385.82 372.51,385.17 373.24,386.05 373.97,386.21 374.7,389.06 375.43,385.16 376.16,381.26 376.89,386.41 377.62,389.72 378.35,384.08 379.08,384.53 379.81,386.79 380.54,381.31 381.27,378.3 382,385.5 382.73,390.39 383.46,386.73 384.19,383.22 384.92,385.86 385.65,387.18 386.38,383.07 387.11,383.24 387.84,385.59 388.57,386.86 389.3,383.87 390.03,386.3 390.76,384.48 391.49,388.26 392.22,382.41 392.95,386.13 393.68,387.25 394.41,383.39 395.14,393.38 395.87,390.25 396.6,390.7 397.33,385.84 398.06,390.47 398.79,384.44 399.52,388.21 400.25,385.71 400.98,390.15 401.71,383.76 402.44,387.11 403.17,385.1 403.9,388.99 404.63,389.35 405.36,387.08 406.09,383.11 406.82,389.94 407.55,391.71 408.28,390.21 409.01,387.47 409.74,394.13 410.47,394.1 411.2,391.11 411.93,390.09 412.66,387.43 413.39,385.57 414.12,388.58 414.85,389.03 415.58,387.19 416.31,389.45 417.04,390.24 417.77,389.34 418.5,390.18 419.23,380.84 419.96,387.29 420.69,385.58 421.42,383.84 422.15,389.06 422.88,385.51 423.61,389.81 424.34,393.63 425.07,389.92 425.8,392.25 426.53,389.98 427.26,384.48 427.99,381.21 428.72,387 429.45,387.09 430.18,380.78 430.91,385.39 431.64,385.38 432.37,390.37 433.1,387.99 433.83,390.49 434.56,392.56 435.29,393.15 436.02,394.06 436.75,387.52 437.48,392.43 438.21,383.83 438.94,389.24 439.67,390.24 440.4,391.32 441.13,387.33 441.86,383.57 442.59,390.1 443.32,386.49 444.05,388.19 444.78,388.69 445.51,387.35 446.24,386.41 446.97,395.34 447.7,394.66 448.43,386.94 449.16,387.91 449.89,384.75 450.62,393.93 451.35,390.9 452.08,382.22 452.81,390.28" fill="none" stroke="#d66769" stroke-width="4.7" stroke-linejoin="round" stroke-linecap="round"/>
<rect x="60.4" y="60" width="434.5" height="349.2" fill="none" stroke="#000" stroke-width="2.4"/>
<path d="M103.85,60v3.9M103.85,409.2v-3.9M147.3,60v7M147.3,409.2v-7M190.75,60v3.9M190.75,409.2v-3.9M234.2,60v7M234.2,409.2v-7M277.65,60v3.9M277.65,409.2v-3.9M321.1,60v7M321.1,409.2v-7M364.55,60v3.9M364.55,409.2v-3.9M408,60v7M408,409.2v-7M451.45,60v3.9M451.45,409.2v-3.9M60.4,79.3h7M494.9,79.3h-7M60.4,98.72h3.9M494.9,98.72h-3.9M60.4,118.14h7M494.9,118.14h-7M60.4,137.56h3.9M494.9,137.56h-3.9M60.4,156.98h7M494.9,156.98h-7M60.4,176.4h3.9M494.9,176.4h-3.9M60.4,195.82h7M494.9,195.82h-7M60.4,215.24h3.9M494.9,215.24h-3.9M60.4,234.66h7M494.9,234.66h-7M60.4,254.08h3.9M494.9,254.08h-3.9M60.4,273.5h7M494.9,273.5h-7M60.4,292.92h3.9M494.9,292.92h-3.9M60.4,312.34h7M494.9,312.34h-7M60.4,331.76h3.9M494.9,331.76h-3.9M60.4,351.18h7M494.9,351.18h-7M60.4,370.6h3.9M494.9,370.6h-3.9M60.4,390.02h7M494.9,390.02h-7" stroke="#000" stroke-width="2.4" fill="none"/>
<text x="60.4" y="434.1" font-size="21.6" text-anchor="middle">50</text>
<text x="147.3" y="434.1" font-size="21.6" text-anchor="middle">100</text>
<text x="234.2" y="434.1" font-size="21.6" text-anchor="middle">150</text>
<text x="321.1" y="434.1" font-size="21.6" text-anchor="middle">200</text>
<text x="408" y="434.1" font-size="21.6" text-anchor="middle">250</text>
<text x="494.9" y="434.1" font-size="21.6" text-anchor="middle">300</text>
<text x="277.65" y="473" font-size="22.8" text-anchor="middle">Raman Shift (cm<tspan font-size="14.8" dy="-9">-1</tspan><tspan dy="9">)</tspan></text>
<text transform="translate(44.2,234.4) rotate(-90)" font-size="22.8" text-anchor="middle">Intensity (a.u.)</text>
<text x="1.5" y="39.2" font-size="48">a</text>
<text x="479.3" y="100.5" font-size="30" text-anchor="end">XX</text>
<path d="M89,91.3H140M89,125.6H140" stroke="#767676" stroke-width="5.1" stroke-linecap="round"/>
<path d="M89,125.6H140" stroke="#d66769" stroke-width="5.1" stroke-linecap="round"/>
<text x="146.6" y="99.1" font-size="23">EuCd<tspan font-size="14.5" dy="6">2</tspan><tspan dy="-6">P</tspan><tspan font-size="14.5" dy="6">2</tspan></text>
<text x="146.6" y="133.5" font-size="23">EuCd<tspan font-size="14.5" dy="6">2</tspan><tspan dy="-6">As</tspan><tspan font-size="14.5" dy="6">2</tspan></text>
<text x="100.6" y="212.5" font-size="23">E</text>
<text x="116.6" y="202.4" font-size="15">1</text>
<text x="116.6" y="218.3" font-size="15">g</text>
<text x="144.8" y="198.8" font-size="23">A</text>
<text x="162.4" y="188.7" font-size="15">1</text>
<text x="162.4" y="204.6" font-size="15">1g</text>
<text x="406.7" y="124.7" font-size="23">A</text>
<text x="424.3" y="114.6" font-size="15">2</text>
<text x="424.3" y="130.5" font-size="15">1g</text>
<text x="137.1" y="326.4" font-size="23">A</text>
<text x="154.7" y="316.3" font-size="15">1</text>
<text x="154.7" y="332.2" font-size="15">1g</text>
<text x="241.5" y="311.1" font-size="23">A</text>
<text x="259.1" y="301" font-size="15">2</text>
<text x="259.1" y="316.9" font-size="15">1g</text>
<text x="266.8" y="347.4" font-size="23">E</text>
<text x="282.8" y="337.3" font-size="15">2</text>
<text x="282.8" y="353.2" font-size="15">g</text>
<polyline points="594.36,263.69 595.09,266.77 595.82,266.61 596.55,272.96 597.28,268.57 598.01,267.49 598.73,269.04 599.46,269.32 600.19,268.42 600.92,267.93 601.65,266.09 602.38,247.46 603.11,235.22 603.84,228.85 604.57,245.98 605.3,260.4 606.03,266.9 606.76,271.27 607.48,265.89 608.21,272.5 608.94,272.89 609.67,271.77 610.4,266.09 611.13,268.91 611.86,270.98 612.59,268.8 613.32,265.45 614.05,270.21 614.78,272.32 615.5,271.71 616.23,269.51 616.96,266.04 617.69,271.87 618.42,271.21 619.15,273.1 619.88,276.14 620.61,270.34 621.34,270.87 622.07,263.69 622.8,263.6 623.52,264.03 624.25,254.96 624.98,253.95 625.71,254.42 626.44,251.58 627.17,254.46 627.9,258.92 628.63,258.46 629.36,266.96 630.09,264.78 630.82,262.65 631.55,265.11 632.27,266 633,264.8 633.73,263.04 634.46,268.57 635.19,263.1 635.92,271.34 636.65,268.87 637.38,271.27 638.11,261.67 638.84,255.86 639.57,255.42 640.29,246.91 641.02,254.72 641.75,256.1 642.48,258.56 643.21,262.67 643.94,251.88 644.67,239.7 645.4,233.42 646.13,212.51 646.86,204.31 647.59,198.28 648.31,204.11 649.04,216.24 649.77,230.46 650.5,243.09 651.23,257.71 651.96,257.82 652.69,267.32 653.42,264.28 654.15,264.15 654.88,266.81 655.61,264.28 656.34,262.25 657.06,259.89 657.79,245.98 658.52,247.31 659.25,261.19 659.98,268.06 660.71,268.44 661.44,271.04 662.17,265.98 662.9,269.71 663.63,269.23 664.36,268.22 665.08,269.98 665.81,265.94 666.54,258.51 667.27,261.21 668,267 668.73,264.93 669.46,265.63 670.19,265.27 670.92,267.1 671.65,268.51 672.38,267.31 673.1,265.14 673.83,263.29 674.56,266.76 675.29,266.7 676.02,264.77 676.75,256.72 677.48,257.5 678.21,257.23 678.94,262.1 679.67,266.28 680.4,269.63 681.13,263.69 681.85,269.82 682.58,267.2 683.31,271 684.04,271.94 684.77,266.14 685.5,265.81 686.23,265.94 686.96,263.23 687.69,265.5 688.42,266.21 689.15,265.26 689.87,260.97 690.6,265.11 691.33,269.64 692.06,266.1 692.79,269.06 693.52,268.48 694.25,265.93 694.98,268.94 695.71,273.25 696.44,270.47 697.17,268.64 697.9,267.88 698.62,266.76 699.35,270 700.08,266.14 700.81,266.44 701.54,268.58 702.27,265.89 703,267.87 703.73,270.25 704.46,266.29 705.19,272.36 705.92,268.55 706.64,269.83 707.37,271.83 708.1,273.53 708.83,270.12 709.56,271.72 710.29,267.91 711.02,270.21 711.75,267 712.48,268.99 713.21,268.1 713.94,259.01 714.66,266.18 715.39,269.94 716.12,262.9 716.85,270.82 717.58,268.7 718.31,265.88 719.04,271.38 719.77,268.68 720.5,269.12 721.23,266.42 721.96,271.08 722.69,268.48 723.41,268.32 724.14,265.48 724.87,266.59 725.6,263.2 726.33,266.2 727.06,265.19 727.79,264.16 728.52,269.15 729.25,266.39 729.98,266.54 730.71,267.14 731.43,264.65 732.16,269.27 732.89,271.61 733.62,276.65 734.35,271.14 735.08,271.55 735.81,270.43 736.54,270.8 737.27,262.45 738,264.46 738.73,270.08 739.45,270.73 740.18,270 740.91,269.11 741.64,271.26 742.37,269.17 743.1,267.3 743.83,267.23 744.56,268.04 745.29,270.39 746.02,267.17 746.75,271.35 747.48,272.13 748.2,266.28 748.93,271.92 749.66,265.1 750.39,270.91 751.12,267.66 751.85,263.86 752.58,266.45 753.31,266.24 754.04,267.76 754.77,268.24 755.5,267.13 756.22,269.1 756.95,263.07 757.68,267.96 758.41,263.44 759.14,273.63 759.87,267.33 760.6,267.4 761.33,269.24 762.06,264.77 762.79,267.42 763.52,268.74 764.24,265.18 764.97,261.57 765.7,269.15 766.43,266.73 767.16,271.11 767.89,270.35 768.62,273.42 769.35,269.79 770.08,265.89 770.81,268.54 771.54,269.3 772.27,268.03 772.99,264.61 773.72,266.73 774.45,262.23 775.18,264.47 775.91,268.07 776.64,262.44 777.37,272.54 778.1,270.25 778.83,269.16 779.56,270.14 780.29,271.29 781.01,273.16 781.74,270.99 782.47,263.95 783.2,268.11 783.93,267.06 784.66,263.78 785.39,267.23 786.12,264.05 786.85,267.41 787.58,265.36 788.31,272.46 789.04,268.27 789.76,268.35 790.49,272.2 791.22,267.32 791.95,273.71 792.68,265.81 793.41,268.78 794.14,266.29 794.87,268.34 795.6,265.01 796.33,272.66 797.06,269.77 797.78,273.04 798.51,268.79 799.24,269.13 799.97,267.56 800.7,269.4 801.43,261.2 802.16,261.24 802.89,267.87 803.62,268.41 804.35,268.35 805.08,266.43 805.8,262.71 806.53,270.62 807.26,268.24 807.99,269.41 808.72,269.27 809.45,273.11 810.18,267.51 810.91,271.58 811.64,263.51 812.37,265.64 813.1,270.21 813.83,269.9 814.55,269.84 815.28,265.09 816.01,270.19 816.74,272.54 817.47,269.98 818.2,269.51 818.93,271.33 819.66,266.38 820.39,270.9 821.12,269.25 821.85,272.71 822.57,270.71 823.3,269.74 824.03,272.91 824.76,267.6 825.49,272.56 826.22,270.54 826.95,273.42 827.68,265.18 828.41,269.96 829.14,265.9 829.87,264.57 830.59,272.12 831.32,273.7 832.05,268.89 832.78,268.09 833.51,270.17 834.24,266.88 834.97,265.54 835.7,274.67 836.43,270.79 837.16,265.48 837.89,273.54 838.62,278.25 839.34,269.92 840.07,270.38 840.8,267.21 841.53,270.46 842.26,266.98 842.99,273.27 843.72,263.21 844.45,262.61 845.18,264.01 845.91,271.27 846.64,266.46 847.36,274.59 848.09,267.01 848.82,266.29 849.55,268.14 850.28,264.66 851.01,263.69 851.74,263.18 852.47,267.38 853.2,268.38 853.93,274.08 854.66,272.94 855.38,269.03 856.11,267.57 856.84,269.2 857.57,265.97 858.3,270.44 859.03,270.71 859.76,268.17 860.49,269.52 861.22,267.66 861.95,272.92 862.68,266.42 863.41,270.16 864.13,264.56 864.86,267.5 865.59,259.86 866.32,269.4 867.05,266.79 867.78,270.51 868.51,267.97 869.24,267.04 869.97,273.26 870.7,271.24 871.43,268.48 872.15,266.05 872.88,273.13 873.61,268.47 874.34,272.45 875.07,272.84 875.8,269.23 876.53,265.72 877.26,265.43 877.99,265.14 878.72,263.82 879.45,266 880.18,272.07 880.9,268.95 881.63,268.42 882.36,266.02 883.09,261.38 883.82,263.73 884.55,266.14 885.28,268.77 886.01,265.14 886.74,265.25 887.47,264.15 888.2,269.3 888.92,265.45 889.65,264.03 890.38,260.86 891.11,266.37 891.84,266.7 892.57,266.73 893.3,265.96 894.03,265.99 894.76,259.68 895.49,258.81 896.22,258.1 896.94,257 897.67,260.5 898.4,256.96 899.13,257.8 899.86,254.91 900.59,249.71 901.32,252.86 902.05,256.31 902.78,250.65 903.51,251.09 904.24,249.78 904.97,242.61 905.69,234.89 906.42,226.88 907.15,224.82 907.88,209.34 908.61,193.39 909.34,178.55 910.07,154.57 910.8,138.93 911.53,140.53 912.26,160.37 912.99,181.26 913.71,197.72 914.44,212.62 915.17,219.99 915.9,234.43 916.63,233.73 917.36,243.84 918.09,252.09 918.82,252.61 919.55,257.37 920.28,258.36 921.01,260.03 921.73,258.94 922.46,260.81 923.19,263.96 923.92,259.95 924.65,263.23 925.38,265.22 926.11,261.06 926.84,266.04 927.57,266.01 928.3,266.07 929.03,268.78 929.76,265.81 930.48,260.18 931.21,267.83 931.94,263.7 932.67,268.38 933.4,266.47 934.13,258.78 934.86,260.9 935.59,265.08 936.32,262.29 937.05,266.75 937.78,267.55 938.5,267.84 939.23,268.99 939.96,266.69 940.69,265.31 941.42,267.55 942.15,270.55 942.88,273.57 943.61,270.26 944.34,272.15 945.07,266.22 945.8,265.81 946.52,264.11 947.25,267.14" fill="none" stroke="#767676" stroke-width="4.7" stroke-linejoin="round" stroke-linecap="round"/>
<polyline points="594.36,386.29 595.09,384.36 595.82,390.76 596.55,383.81 597.28,388.8 598.01,392.42 598.73,388.96 599.46,382.8 600.19,386.29 600.92,391.5 601.65,385.74 602.38,385.76 603.11,384.23 603.84,382.69 604.57,387.15 605.3,383.51 606.03,388.72 606.76,383.17 607.48,385.51 608.21,386.91 608.94,387.19 609.67,383.78 610.4,381.34 611.13,386.21 611.86,375.08 612.59,379.59 613.32,376.01 614.05,387.24 614.78,376.95 615.5,387.27 616.23,387.95 616.96,383.04 617.69,382.95 618.42,389.12 619.15,385.86 619.88,380.04 620.61,378.03 621.34,383.57 622.07,389.76 622.8,385.44 623.52,390.58 624.25,373.78 624.98,356.16 625.71,346.32 626.44,364.82 627.17,371.92 627.9,376.12 628.63,370.28 629.36,373.01 630.09,365.44 630.82,361.99 631.55,368.23 632.27,359.61 633,355.19 633.73,358.19 634.46,353.79 635.19,357.75 635.92,347.63 636.65,345.8 637.38,342.15 638.11,331.92 638.84,332.33 639.57,330.68 640.29,329.78 641.02,327.23 641.75,331.47 642.48,325.36 643.21,336.49 643.94,338.53 644.67,338.58 645.4,347.36 646.13,358.39 646.86,357.72 647.59,369.68 648.31,369.18 649.04,375.96 649.77,378.79 650.5,376.33 651.23,375.82 651.96,381.08 652.69,384.89 653.42,385.09 654.15,389.16 654.88,382.33 655.61,384.14 656.34,374.8 657.06,383.07 657.79,385.65 658.52,380.04 659.25,385.18 659.98,385.18 660.71,386.21 661.44,387.31 662.17,389.43 662.9,384.53 663.63,384.03 664.36,384.9 665.08,385.28 665.81,388.25 666.54,383.4 667.27,381.49 668,384.67 668.73,386.19 669.46,385.47 670.19,379.91 670.92,386.03 671.65,385.02 672.38,385.73 673.1,386.92 673.83,387.05 674.56,380.34 675.29,385.54 676.02,389.39 676.75,383.46 677.48,386.97 678.21,381.09 678.94,378.48 679.67,386.2 680.4,384.48 681.13,386.06 681.85,384.4 682.58,380.34 683.31,386.59 684.04,390.14 684.77,386.57 685.5,387.36 686.23,386.05 686.96,385.3 687.69,389.85 688.42,392.31 689.15,381.56 689.87,386.29 690.6,388.15 691.33,388.72 692.06,382.31 692.79,386.91 693.52,387.33 694.25,385.35 694.98,389.42 695.71,390.14 696.44,388.82 697.17,389.25 697.9,387.34 698.62,389.55 699.35,387.77 700.08,386.38 700.81,385.03 701.54,383 702.27,379.97 703,378.72 703.73,384.64 704.46,381.99 705.19,383.27 705.92,379.32 706.64,379.23 707.37,384.68 708.1,382.91 708.83,386.51 709.56,386.31 710.29,381.81 711.02,384.17 711.75,381.33 712.48,388.91 713.21,387.31 713.94,388.4 714.66,391.18 715.39,386.23 716.12,392.03 716.85,385.65 717.58,388.86 718.31,386.7 719.04,382.51 719.77,378.54 720.5,380.17 721.23,379.2 721.96,382.22 722.69,375.3 723.41,380.66 724.14,381.78 724.87,384.2 725.6,380.11 726.33,378.41 727.06,383.01 727.79,382.97 728.52,385.2 729.25,384.1 729.98,385.82 730.71,388.41 731.43,377.71 732.16,385.9 732.89,382.74 733.62,378.08 734.35,377.55 735.08,381.92 735.81,381.56 736.54,379.83 737.27,377 738,369.06 738.73,370.85 739.45,371.46 740.18,363.15 740.91,358.92 741.64,351.65 742.37,345.22 743.1,345.99 743.83,344.47 744.56,338.08 745.29,319.97 746.02,323 746.75,320.2 747.48,316.9 748.2,328.74 748.93,333.11 749.66,340.61 750.39,349.48 751.12,347.07 751.85,348.49 752.58,361.48 753.31,354.39 754.04,360.39 754.77,361.45 755.5,362.68 756.22,367.51 756.95,366.72 757.68,368.79 758.41,363.02 759.14,367.27 759.87,374.68 760.6,382.29 761.33,377.36 762.06,376.18 762.79,359.33 763.52,350.8 764.24,354.06 764.97,369.86 765.7,374.58 766.43,371.48 767.16,368.13 767.89,370.18 768.62,365.39 769.35,370.03 770.08,376.16 770.81,379.24 771.54,378.12 772.27,375.98 772.99,388.02 773.72,379.96 774.45,379.85 775.18,377.54 775.91,374.27 776.64,368.14 777.37,364.03 778.1,374.04 778.83,379.97 779.56,384.11 780.29,382.54 781.01,387.94 781.74,384.68 782.47,380.51 783.2,386.1 783.93,386.19 784.66,386.1 785.39,382.14 786.12,386.92 786.85,383.82 787.58,385.34 788.31,387.48 789.04,386.34 789.76,389.5 790.49,384.91 791.22,385.69 791.95,394.53 792.68,390.36 793.41,384.5 794.14,388.66 794.87,391.09 795.6,384.1 796.33,389.94 797.06,385.86 797.78,384.23 798.51,381.45 799.24,389.37 799.97,390.45 800.7,382.1 801.43,387.96 802.16,386.64 802.89,380.2 803.62,386.43 804.35,392.92 805.08,380.81 805.8,383.39 806.53,383.85 807.26,380.55 807.99,386.68 808.72,382 809.45,387.86 810.18,390.68 810.91,387.4 811.64,385.36 812.37,385.85 813.1,383.26 813.83,387.47 814.55,384.79 815.28,377.38 816.01,379.89 816.74,383.32 817.47,380.91 818.2,381.01 818.93,380.88 819.66,386.52 820.39,385.51 821.12,381.38 821.85,382.2 822.57,391.5 823.3,388.03 824.03,387.69 824.76,381.86 825.49,386.87 826.22,377.21 826.95,385.43 827.68,383.88 828.41,381.82 829.14,385.62 829.87,384.55 830.59,387.61 831.32,385.91 832.05,390.81 832.78,388.5 833.51,388.03 834.24,391.16 834.97,384.64 835.7,384.53 836.43,393.75 837.16,385.84 837.89,388.52 838.62,381.54 839.34,386.42 840.07,383.28 840.8,380.27 841.53,376.48 842.26,387.46 842.99,383.37 843.72,382.92 844.45,378.85 845.18,381.91 845.91,382.44 846.64,378.41 847.36,380.24 848.09,383.93 848.82,386.67 849.55,385.12 850.28,386.12 851.01,392.34 851.74,389.87 852.47,388.44 853.2,391.61 853.93,392.09 854.66,387.28 855.38,386.37 856.11,393.49 856.84,392.43 857.57,384.55 858.3,390.85 859.03,391.82 859.76,385.59 860.49,380.63 861.22,386.84 861.95,384.41 862.68,384.68 863.41,378.66 864.13,385.07 864.86,381.93 865.59,381.3 866.32,381.82 867.05,387.22 867.78,384.75 868.51,385.79 869.24,382.5 869.97,383.81 870.7,383.95 871.43,390.08 872.15,383.13 872.88,389.41 873.61,395.76 874.34,390.09 875.07,387.83 875.8,388.25 876.53,390.69 877.26,386.09 877.99,385.69 878.72,384.31 879.45,391.61 880.18,384.55 880.9,384.3 881.63,386.11 882.36,389.01 883.09,386.85 883.82,384.77 884.55,384.87 885.28,384.06 886.01,382.29 886.74,382.53 887.47,380.67 888.2,384.95 888.92,389.48 889.65,386.72 890.38,382.96 891.11,381.7 891.84,379.02 892.57,388.98 893.3,387.27 894.03,386.79 894.76,379.58 895.49,379.85 896.22,381.78 896.94,381.2 897.67,388.84 898.4,386.9 899.13,389.39 899.86,387.88 900.59,387.34 901.32,382.47 902.05,381.12 902.78,387.75 903.51,385.75 904.24,382.6 904.97,381.6 905.69,388.72 906.42,387.51 907.15,385.61 907.88,379.81 908.61,387.39 909.34,386.89 910.07,385.91 910.8,385.95 911.53,384.18 912.26,385.47 912.99,384.5 913.71,381.71 914.44,381.76 915.17,380.94 915.9,381.94 916.63,388.98 917.36,387.05 918.09,388.06 918.82,388.45 919.55,387.99 920.28,383.46 921.01,390.04 921.73,387.67 922.46,385.33 923.19,387.86 923.92,386.9 924.65,387.16 925.38,388.32 926.11,381.31 926.84,387.72 927.57,382.76 928.3,389.54 929.03,385.51 929.76,386.69 930.48,384.89 931.21,383.22 931.94,383.09 932.67,386.31 933.4,388.5 934.13,389.21 934.86,385.99 935.59,381.98 936.32,389.96 937.05,388.19 937.78,389.38 938.5,384.59 939.23,390.61 939.96,385.76 940.69,390.92 941.42,390.39 942.15,381.09 942.88,383.9 943.61,388.25 944.34,390.64 945.07,389.41 945.8,383.52 946.52,385.93 947.25,389.32" fill="none" stroke="#d66769" stroke-width="4.7" stroke-linejoin="round" stroke-linecap="round"/>
<rect x="555.3" y="60" width="434" height="349.2" fill="none" stroke="#000" stroke-width="2.4"/>
<path d="M598.7,60v3.9M598.7,409.2v-3.9M642.1,60v7M642.1,409.2v-7M685.5,60v3.9M685.5,409.2v-3.9M728.9,60v7M728.9,409.2v-7M772.3,60v3.9M772.3,409.2v-3.9M815.7,60v7M815.7,409.2v-7M859.1,60v3.9M859.1,409.2v-3.9M902.5,60v7M902.5,409.2v-7M945.9,60v3.9M945.9,409.2v-3.9M555.3,79.3h7M989.3,79.3h-7M555.3,98.72h3.9M989.3,98.72h-3.9M555.3,118.14h7M989.3,118.14h-7M555.3,137.56h3.9M989.3,137.56h-3.9M555.3,156.98h7M989.3,156.98h-7M555.3,176.4h3.9M989.3,176.4h-3.9M555.3,195.82h7M989.3,195.82h-7M555.3,215.24h3.9M989.3,215.24h-3.9M555.3,234.66h7M989.3,234.66h-7M555.3,254.08h3.9M989.3,254.08h-3.9M555.3,273.5h7M989.3,273.5h-7M555.3,292.92h3.9M989.3,292.92h-3.9M555.3,312.34h7M989.3,312.34h-7M555.3,331.76h3.9M989.3,331.76h-3.9M555.3,351.18h7M989.3,351.18h-7M555.3,370.6h3.9M989.3,370.6h-3.9M555.3,390.02h7M989.3,390.02h-7" stroke="#000" stroke-width="2.4" fill="none"/>
<text x="555.3" y="434.1" font-size="21.6" text-anchor="middle">50</text>
<text x="642.1" y="434.1" font-size="21.6" text-anchor="middle">100</text>
<text x="728.9" y="434.1" font-size="21.6" text-anchor="middle">150</text>
<text x="815.7" y="434.1" font-size="21.6" text-anchor="middle">200</text>
<text x="902.5" y="434.1" font-size="21.6" text-anchor="middle">250</text>
<text x="989.3" y="434.1" font-size="21.6" text-anchor="middle">300</text>
<text x="772.3" y="473" font-size="22.8" text-anchor="middle">Raman Shift (cm<tspan font-size="14.8" dy="-9">-1</tspan><tspan dy="9">)</tspan></text>
<text transform="translate(540,234.4) rotate(-90)" font-size="22.8" text-anchor="middle">Intensity (a.u.)</text>
<text x="514.8" y="39.2" font-size="48">b</text>
<text x="977.5" y="98.8" font-size="27.8" text-anchor="end">YY</text>
<path d="M582.7,90.7H633.3M582.7,125H633.3" stroke="#767676" stroke-width="5.1" stroke-linecap="round"/>
<path d="M582.7,125H633.3" stroke="#d66769" stroke-width="5.1" stroke-linecap="round"/>
<text x="640.4" y="98.5" font-size="23">EuCd<tspan font-size="14.5" dy="6">2</tspan><tspan dy="-6">P</tspan><tspan font-size="14.5" dy="6">2</tspan></text>
<text x="640.4" y="132.9" font-size="23">EuCd<tspan font-size="14.5" dy="6">2</tspan><tspan dy="-6">As</tspan><tspan font-size="14.5" dy="6">2</tspan></text>
<text x="592.9" y="227.2" font-size="23">E</text>
<text x="608.9" y="217.1" font-size="15">2</text>
<text x="608.9" y="233" font-size="15">g</text>
<text x="641.1" y="198.1" font-size="23">A</text>
<text x="658.7" y="188" font-size="15">1</text>
<text x="658.7" y="203.9" font-size="15">1g</text>
<text x="900.9" y="133.8" font-size="23">A</text>
<text x="918.5" y="123.7" font-size="15">2</text>
<text x="918.5" y="139.6" font-size="15">1g</text>
<text x="632.6" y="324.5" font-size="23">A</text>
<text x="650.2" y="314.4" font-size="15">1</text>
<text x="650.2" y="330.3" font-size="15">1g</text>
<text x="734.1" y="313.6" font-size="23">A</text>
<text x="751.7" y="303.5" font-size="15">2</text>
<text x="751.7" y="319.4" font-size="15">1g</text>
<text x="759.5" y="345.9" font-size="23">E</text>
<text x="775.5" y="335.8" font-size="15">2</text>
<text x="775.5" y="351.7" font-size="15">g</text>
<polyline points="1088.25,270.28 1088.97,271.17 1089.7,259.83 1090.43,268.47 1091.16,263.4 1091.88,257.09 1092.61,265.87 1093.34,265.48 1094.07,263.59 1094.8,268.78 1095.52,270.73 1096.25,259.67 1096.98,242.06 1097.71,211.51 1098.43,201.28 1099.16,209.98 1099.89,231.75 1100.62,250.38 1101.34,268.16 1102.07,263.01 1102.8,270.15 1103.53,274.08 1104.25,271 1104.98,270.41 1105.71,264.15 1106.44,265.73 1107.16,266.49 1107.89,268.5 1108.62,267.26 1109.35,268.77 1110.07,264.45 1110.8,268.37 1111.53,267.67 1112.26,266.2 1112.99,265.91 1113.71,265.71 1114.44,264.87 1115.17,258.7 1115.9,263.52 1116.62,254.74 1117.35,261.42 1118.08,264.03 1118.81,261.09 1119.53,259.97 1120.26,262.82 1120.99,258.35 1121.72,258.43 1122.44,264.9 1123.17,268.42 1123.9,266.81 1124.63,262.15 1125.35,263.89 1126.08,265.69 1126.81,265.67 1127.54,267.19 1128.27,263.6 1128.99,270.38 1129.72,265.17 1130.45,268.82 1131.18,269.4 1131.9,269.93 1132.63,265.45 1133.36,271.41 1134.09,272.46 1134.81,267.03 1135.54,258.83 1136.27,245.91 1137,258.82 1137.72,274.32 1138.45,264.9 1139.18,276.45 1139.91,260.39 1140.63,259.79 1141.36,268.06 1142.09,270.54 1142.82,271.4 1143.54,264.56 1144.27,267.75 1145,269.54 1145.73,271.11 1146.46,261.72 1147.18,268.35 1147.91,267.1 1148.64,267.67 1149.37,262.43 1150.09,262.37 1150.82,269.14 1151.55,266.39 1152.28,265.19 1153,254.46 1153.73,231.27 1154.46,255.38 1155.19,271.54 1155.91,276.45 1156.64,276.71 1157.37,272.77 1158.1,277.55 1158.82,277.71 1159.55,274.21 1160.28,273.64 1161.01,272.7 1161.74,272.94 1162.46,279.75 1163.19,268.61 1163.92,269.69 1164.65,267.27 1165.37,270.43 1166.1,261.24 1166.83,277.51 1167.56,271.15 1168.28,274 1169.01,277.94 1169.74,272.93 1170.47,274.38 1171.19,281.27 1171.92,277.56 1172.65,272.07 1173.38,265.56 1174.1,277.74 1174.83,267.69 1175.56,261.56 1176.29,263.04 1177.01,267.05 1177.74,270.93 1178.47,275.97 1179.2,275.15 1179.93,272.13 1180.65,276.52 1181.38,276.2 1182.11,268.37 1182.84,269.71 1183.56,271.07 1184.29,270.21 1185.02,272.2 1185.75,266.02 1186.47,263.51 1187.2,263.23 1187.93,268.45 1188.66,265.84 1189.38,263.17 1190.11,262.75 1190.84,263.32 1191.57,264.45 1192.29,272.93 1193.02,275.85 1193.75,265.19 1194.48,268.26 1195.2,268.79 1195.93,270.73 1196.66,272.2 1197.39,264.12 1198.12,267.73 1198.84,273.22 1199.57,267.24 1200.3,269.28 1201.03,268.16 1201.75,263.31 1202.48,272.96 1203.21,278.97 1203.94,273.28 1204.66,275.38 1205.39,271.8 1206.12,273.67 1206.85,272.96 1207.57,275.59 1208.3,270.18 1209.03,271.36 1209.76,264.36 1210.48,266.18 1211.21,272.28 1211.94,267.08 1212.67,271.86 1213.4,263.44 1214.12,267.93 1214.85,265.25 1215.58,267.73 1216.31,269.69 1217.03,277.26 1217.76,265.2 1218.49,272.22 1219.22,266.96 1219.94,270.43 1220.67,270.29 1221.4,274.72 1222.13,275.73 1222.85,269.7 1223.58,269.45 1224.31,270.32 1225.04,269.41 1225.76,269.79 1226.49,267.96 1227.22,266.54 1227.95,269.73 1228.67,273.38 1229.4,276.75 1230.13,268.68 1230.86,271.11 1231.59,270.65 1232.31,268.11 1233.04,270.73 1233.77,271.83 1234.5,275.75 1235.22,273.18 1235.95,273.05 1236.68,266.92 1237.41,268.86 1238.13,270.11 1238.86,274.11 1239.59,277.27 1240.32,267.06 1241.04,278.52 1241.77,275.79 1242.5,272.29 1243.23,268.32 1243.95,271.82 1244.68,270.91 1245.41,273.81 1246.14,264.78 1246.87,271.72 1247.59,272.64 1248.32,271.08 1249.05,274.01 1249.78,271.8 1250.5,267.49 1251.23,273.61 1251.96,271.21 1252.69,270.3 1253.41,269.62 1254.14,265.23 1254.87,265.58 1255.6,266.89 1256.32,270.61 1257.05,266.98 1257.78,262.83 1258.51,266.59 1259.23,267.96 1259.96,275.55 1260.69,266.47 1261.42,276.05 1262.14,276.63 1262.87,271.62 1263.6,268.74 1264.33,270.31 1265.06,273.99 1265.78,271.35 1266.51,274.19 1267.24,279.53 1267.97,272.5 1268.69,275.41 1269.42,271.89 1270.15,273.32 1270.88,269.19 1271.6,269.37 1272.33,265.76 1273.06,264.86 1273.79,270.33 1274.51,271.45 1275.24,265.07 1275.97,276.36 1276.7,272.11 1277.42,265.4 1278.15,272.72 1278.88,271.5 1279.61,273.36 1280.34,272.38 1281.06,268.83 1281.79,264.69 1282.52,262.98 1283.25,271.43 1283.97,268.65 1284.7,268.48 1285.43,270.52 1286.16,274.67 1286.88,269.36 1287.61,263.59 1288.34,273.05 1289.07,265.53 1289.79,268 1290.52,263.93 1291.25,271.98 1291.98,267.83 1292.7,276.88 1293.43,272.45 1294.16,267.65 1294.89,274.88 1295.61,265.31 1296.34,270.84 1297.07,266.97 1297.8,275.27 1298.53,264.72 1299.25,271.61 1299.98,272.34 1300.71,277.83 1301.44,275.99 1302.16,269.02 1302.89,273.96 1303.62,267.17 1304.35,266.1 1305.07,264.26 1305.8,267.05 1306.53,262.23 1307.26,257.43 1307.98,263.23 1308.71,267.25 1309.44,271.24 1310.17,266.96 1310.89,262.95 1311.62,276.21 1312.35,271.91 1313.08,259.03 1313.81,265.5 1314.53,268.19 1315.26,265.99 1315.99,264.15 1316.72,263.97 1317.44,267.02 1318.17,256.51 1318.9,263.68 1319.63,266.89 1320.35,265.74 1321.08,267.07 1321.81,274.82 1322.54,274.46 1323.26,270.96 1323.99,278.36 1324.72,275.42 1325.45,266.01 1326.17,268.26 1326.9,275.81 1327.63,273.23 1328.36,262.11 1329.08,265.45 1329.81,267.21 1330.54,257.65 1331.27,269.32 1332,265.63 1332.72,271.6 1333.45,268.62 1334.18,272.37 1334.91,270.23 1335.63,266 1336.36,272.32 1337.09,271.14 1337.82,278.37 1338.54,276.42 1339.27,271.21 1340,277.73 1340.73,266.3 1341.45,268.81 1342.18,259.53 1342.91,270.13 1343.64,264.96 1344.36,261.59 1345.09,268.77 1345.82,272.78 1346.55,268.7 1347.28,268.88 1348,270 1348.73,271.07 1349.46,273.54 1350.19,269.3 1350.91,271.4 1351.64,273.59 1352.37,265.38 1353.1,269.85 1353.82,260.54 1354.55,267.84 1355.28,268.07 1356.01,267.77 1356.73,264.45 1357.46,270.38 1358.19,274.9 1358.92,262.98 1359.64,270.92 1360.37,261.51 1361.1,264.24 1361.83,267.89 1362.55,259.63 1363.28,269.3 1364.01,272.47 1364.74,269.45 1365.47,263.15 1366.19,268.17 1366.92,266.58 1367.65,262.34 1368.38,266.91 1369.1,268.95 1369.83,267.68 1370.56,271.6 1371.29,266.23 1372.01,260.14 1372.74,272.08 1373.47,262.01 1374.2,266.71 1374.92,273.84 1375.65,271.71 1376.38,263.34 1377.11,270.52 1377.83,268.08 1378.56,265.84 1379.29,274.14 1380.02,269.28 1380.75,269.77 1381.47,272.25 1382.2,269.49 1382.93,275.21 1383.66,277.84 1384.38,280.72 1385.11,274.86 1385.84,277.78 1386.57,276.75 1387.29,278.26 1388.02,277.2 1388.75,273.78 1389.48,265.2 1390.2,270.22 1390.93,260 1391.66,262.04 1392.39,258.54 1393.11,258.35 1393.84,239.19 1394.57,245.58 1395.3,233.92 1396.02,227.34 1396.75,235.48 1397.48,241.95 1398.21,241.93 1398.94,242.53 1399.66,247.3 1400.39,253.29 1401.12,261.61 1401.85,263.13 1402.57,261.92 1403.3,267.14 1404.03,265.22 1404.76,257.48 1405.48,268.98 1406.21,260.95 1406.94,269.2 1407.67,265.96 1408.39,267.39 1409.12,273.76 1409.85,268.03 1410.58,262.62 1411.3,264.85 1412.03,264.54 1412.76,268.83 1413.49,268.9 1414.21,266.96 1414.94,266.37 1415.67,261.71 1416.4,272.63 1417.13,262.27 1417.85,273.22 1418.58,272.96 1419.31,276.55 1420.04,270.95 1420.76,269.79 1421.49,270.27 1422.22,267.12 1422.95,265.83 1423.67,268.88 1424.4,264.82 1425.13,271.73 1425.86,264.54 1426.58,269.29 1427.31,267.3 1428.04,277.69 1428.77,271.25 1429.49,271.45 1430.22,269.91 1430.95,276.65 1431.68,261.71 1432.41,269.88 1433.13,262.26 1433.86,262.08 1434.59,267.06 1435.32,261.23 1436.04,272.43 1436.77,269.17 1437.5,265.87 1438.23,263.14 1438.95,261.58 1439.68,258.15 1440.41,255.61 1441.14,257.88 1441.86,259.11 1442.59,257.48 1443.32,253.95 1444.05,262.7" fill="none" stroke="#767676" stroke-width="4.7" stroke-linejoin="round" stroke-linecap="round"/>
<polyline points="1088.25,384.85 1088.97,381.89 1089.7,387.24 1090.43,391.24 1091.16,393.64 1091.88,384.33 1092.61,383.48 1093.34,393.91 1094.07,379.31 1094.8,388.47 1095.52,380.88 1096.25,386.99 1096.98,393.04 1097.71,387.07 1098.43,391.78 1099.16,390.49 1099.89,389.16 1100.62,386.25 1101.34,379.64 1102.07,377.4 1102.8,378.76 1103.53,373.59 1104.25,387.01 1104.98,387.81 1105.71,380.95 1106.44,389.08 1107.16,375.38 1107.89,379.4 1108.62,383.08 1109.35,382.02 1110.07,387.66 1110.8,393.83 1111.53,385.91 1112.26,384.64 1112.99,387.46 1113.71,387.46 1114.44,396.02 1115.17,388.45 1115.9,385.05 1116.62,380.62 1117.35,376.32 1118.08,383.78 1118.81,384.77 1119.53,377.91 1120.26,383.98 1120.99,389.04 1121.72,376.14 1122.44,385.7 1123.17,387.16 1123.9,389.53 1124.63,381.34 1125.35,379.65 1126.08,387.1 1126.81,381.14 1127.54,384.3 1128.27,376.17 1128.99,381.27 1129.72,388.79 1130.45,386.19 1131.18,383.61 1131.9,387.45 1132.63,391.49 1133.36,390.21 1134.09,384.6 1134.81,387.59 1135.54,390.65 1136.27,384.05 1137,387.11 1137.72,393.51 1138.45,382.96 1139.18,381.59 1139.91,384.63 1140.63,379.76 1141.36,379.16 1142.09,385.64 1142.82,388.51 1143.54,384.54 1144.27,391.71 1145,382.51 1145.73,383.85 1146.46,381.04 1147.18,375.44 1147.91,388.04 1148.64,378.12 1149.37,384.25 1150.09,382.18 1150.82,387.9 1151.55,393.1 1152.28,382.68 1153,390.03 1153.73,382.05 1154.46,385.44 1155.19,384.71 1155.91,384.3 1156.64,375.48 1157.37,382.42 1158.1,385.51 1158.82,377.29 1159.55,384.74 1160.28,383.12 1161.01,383.72 1161.74,379.43 1162.46,380.78 1163.19,381.9 1163.92,390.77 1164.65,386.22 1165.37,383.57 1166.1,385.08 1166.83,390.26 1167.56,390.45 1168.28,386.04 1169.01,377.71 1169.74,384.64 1170.47,392.44 1171.19,379.87 1171.92,384 1172.65,377.41 1173.38,387.69 1174.1,385.71 1174.83,384.86 1175.56,384.61 1176.29,383.85 1177.01,385.29 1177.74,382.44 1178.47,386.42 1179.2,384.32 1179.93,385.42 1180.65,379.87 1181.38,382.65 1182.11,381.72 1182.84,385.87 1183.56,388.26 1184.29,388.69 1185.02,392.71 1185.75,391.79 1186.47,387.47 1187.2,384.92 1187.93,385.7 1188.66,385.41 1189.38,391.09 1190.11,382.92 1190.84,391.76 1191.57,394.85 1192.29,381.64 1193.02,390.57 1193.75,381.24 1194.48,386.72 1195.2,381.33 1195.93,375.53 1196.66,380.95 1197.39,381.78 1198.12,382.13 1198.84,378.14 1199.57,383.38 1200.3,380.77 1201.03,382.94 1201.75,380.56 1202.48,378.4 1203.21,379.91 1203.94,387.55 1204.66,384.99 1205.39,388.45 1206.12,389.65 1206.85,382.45 1207.57,382.01 1208.3,377.29 1209.03,381.99 1209.76,383.2 1210.48,384.64 1211.21,390.48 1211.94,389.33 1212.67,383.05 1213.4,384.91 1214.12,387.68 1214.85,385.79 1215.58,389.87 1216.31,385.16 1217.03,392.85 1217.76,384.03 1218.49,387.24 1219.22,379.62 1219.94,379.13 1220.67,382.33 1221.4,388.57 1222.13,388.78 1222.85,383.74 1223.58,385.67 1224.31,395.76 1225.04,394.31 1225.76,386.42 1226.49,386.36 1227.22,377.63 1227.95,385.37 1228.67,382.11 1229.4,384.64 1230.13,385.81 1230.86,388.79 1231.59,387.39 1232.31,374.91 1233.04,381.47 1233.77,388.92 1234.5,385.15 1235.22,396.99 1235.95,383.12 1236.68,384.76 1237.41,377.62 1238.13,391.76 1238.86,378 1239.59,382.44 1240.32,384.95 1241.04,393.05 1241.77,385.59 1242.5,384.51 1243.23,387.5 1243.95,390.06 1244.68,386.18 1245.41,385.39 1246.14,380.47 1246.87,379.62 1247.59,378.07 1248.32,385.39 1249.05,390.25 1249.78,386.89 1250.5,388.52 1251.23,380.69 1251.96,370.46 1252.69,378.37 1253.41,378.74 1254.14,371.08 1254.87,369.69 1255.6,364.8 1256.32,369.13 1257.05,365.34 1257.78,359.7 1258.51,348.81 1259.23,348.74 1259.96,345.05 1260.69,325.35 1261.42,333.84 1262.14,333.81 1262.87,333.06 1263.6,341.81 1264.33,344.07 1265.06,345.89 1265.78,347.19 1266.51,353.88 1267.24,358 1267.97,364.69 1268.69,360.83 1269.42,368.86 1270.15,363.55 1270.88,371.42 1271.6,365.26 1272.33,377.32 1273.06,385.74 1273.79,380.12 1274.51,375.14 1275.24,371.9 1275.97,369.1 1276.7,374.86 1277.42,371.19 1278.15,381.54 1278.88,380 1279.61,384.32 1280.34,379.87 1281.06,377 1281.79,381.68 1282.52,381.23 1283.25,385.83 1283.97,384.15 1284.7,382.91 1285.43,377.83 1286.16,383.93 1286.88,382.4 1287.61,378.01 1288.34,380.88 1289.07,386.21 1289.79,375 1290.52,380.52 1291.25,380.04 1291.98,378.73 1292.7,373.8 1293.43,375.36 1294.16,374.97 1294.89,367.99 1295.61,381.05 1296.34,389.54 1297.07,377.42 1297.8,382.16 1298.53,381.2 1299.25,379.48 1299.98,382.54 1300.71,379.75 1301.44,388.53 1302.16,385.68 1302.89,384.44 1303.62,391.03 1304.35,389.95 1305.07,388.06 1305.8,384.41 1306.53,388.15 1307.26,381.78 1307.98,386.03 1308.71,383.89 1309.44,394.55 1310.17,387.43 1310.89,385.02 1311.62,387.65 1312.35,387.56 1313.08,392.14 1313.81,394.28 1314.53,390 1315.26,387.79 1315.99,386.2 1316.72,383.02 1317.44,378.98 1318.17,381.98 1318.9,379.11 1319.63,380.67 1320.35,387.5 1321.08,388.77 1321.81,377.11 1322.54,387.01 1323.26,384.47 1323.99,386.48 1324.72,389.57 1325.45,390.26 1326.17,385.08 1326.9,389.27 1327.63,380.1 1328.36,386.34 1329.08,385.74 1329.81,378.34 1330.54,389.26 1331.27,390.25 1332,379.27 1332.72,387.71 1333.45,386.55 1334.18,386.8 1334.91,378.98 1335.63,379.93 1336.36,391.91 1337.09,384.74 1337.82,381.44 1338.54,382.1 1339.27,391.06 1340,383.76 1340.73,376.97 1341.45,377.53 1342.18,385.65 1342.91,380.47 1343.64,386.67 1344.36,379.14 1345.09,394 1345.82,381.96 1346.55,381.89 1347.28,380.83 1348,393.18 1348.73,389.97 1349.46,391.85 1350.19,389.1 1350.91,387.99 1351.64,379.53 1352.37,385.37 1353.1,398.2 1353.82,384.87 1354.55,385.96 1355.28,380.66 1356.01,380.09 1356.73,384.86 1357.46,381.25 1358.19,376.34 1358.92,385.2 1359.64,385.06 1360.37,392.37 1361.1,387.01 1361.83,386.91 1362.55,391.43 1363.28,392.61 1364.01,390.64 1364.74,383.97 1365.47,383.57 1366.19,382.99 1366.92,388.19 1367.65,387.02 1368.38,389.46 1369.1,380.98 1369.83,388.17 1370.56,383.23 1371.29,377.13 1372.01,384.39 1372.74,387.11 1373.47,386.62 1374.2,377.8 1374.92,379.58 1375.65,383.26 1376.38,386.49 1377.11,379.2 1377.83,386.75 1378.56,381.38 1379.29,385.86 1380.02,385.91 1380.75,379.72 1381.47,389.95 1382.2,388.96 1382.93,381.39 1383.66,377.45 1384.38,390.42 1385.11,391.92 1385.84,385.83 1386.57,382.19 1387.29,389.54 1388.02,378.26 1388.75,370.92 1389.48,381.44 1390.2,380.96 1390.93,372.91 1391.66,390.53 1392.39,382.02 1393.11,384.51 1393.84,398.03 1394.57,387.4 1395.3,382.53 1396.02,391.55 1396.75,395.07 1397.48,389.21 1398.21,374.69 1398.94,389.41 1399.66,382.67 1400.39,393.82 1401.12,390.73 1401.85,392.71 1402.57,386.72 1403.3,382.03 1404.03,382.13 1404.76,386.3 1405.48,384.49 1406.21,384.62 1406.94,383.63 1407.67,385.68 1408.39,385.62 1409.12,378.21 1409.85,372.42 1410.58,381.76 1411.3,381.05 1412.03,386.75 1412.76,386.62 1413.49,375.5 1414.21,382.28 1414.94,381.94 1415.67,381.92 1416.4,389.75 1417.13,386.36 1417.85,389.36 1418.58,388.03 1419.31,392.56 1420.04,389.14 1420.76,396.8 1421.49,386.93 1422.22,386.12 1422.95,387.19 1423.67,387.14 1424.4,395.36 1425.13,391.17 1425.86,393.05 1426.58,384.28 1427.31,384.1 1428.04,377.93 1428.77,387.59 1429.49,382.42 1430.22,387.29 1430.95,384.47 1431.68,381.7 1432.41,378.06 1433.13,381.29 1433.86,391.39 1434.59,388.54 1435.32,395.14 1436.04,390.74 1436.77,394.54 1437.5,386.58 1438.23,383.54 1438.95,384.95 1439.68,388.4 1440.41,390.51 1441.14,391.2 1441.86,385.48 1442.59,381.34 1443.32,381.09 1444.05,382.54" fill="none" stroke="#d66769" stroke-width="4.7" stroke-linejoin="round" stroke-linecap="round"/>
<rect x="1051" y="60" width="433.1" height="349.2" fill="none" stroke="#000" stroke-width="2.4"/>
<path d="M1094.31,60v3.9M1094.31,409.2v-3.9M1137.62,60v7M1137.62,409.2v-7M1180.93,60v3.9M1180.93,409.2v-3.9M1224.24,60v7M1224.24,409.2v-7M1267.55,60v3.9M1267.55,409.2v-3.9M1310.86,60v7M1310.86,409.2v-7M1354.17,60v3.9M1354.17,409.2v-3.9M1397.48,60v7M1397.48,409.2v-7M1440.79,60v3.9M1440.79,409.2v-3.9M1051,79.3h7M1484.1,79.3h-7M1051,98.72h3.9M1484.1,98.72h-3.9M1051,118.14h7M1484.1,118.14h-7M1051,137.56h3.9M1484.1,137.56h-3.9M1051,156.98h7M1484.1,156.98h-7M1051,176.4h3.9M1484.1,176.4h-3.9M1051,195.82h7M1484.1,195.82h-7M1051,215.24h3.9M1484.1,215.24h-3.9M1051,234.66h7M1484.1,234.66h-7M1051,254.08h3.9M1484.1,254.08h-3.9M1051,273.5h7M1484.1,273.5h-7M1051,292.92h3.9M1484.1,292.92h-3.9M1051,312.34h7M1484.1,312.34h-7M1051,331.76h3.9M1484.1,331.76h-3.9M1051,351.18h7M1484.1,351.18h-7M1051,370.6h3.9M1484.1,370.6h-3.9M1051,390.02h7M1484.1,390.02h-7" stroke="#000" stroke-width="2.4" fill="none"/>
<text x="1051" y="434.1" font-size="21.6" text-anchor="middle">50</text>
<text x="1137.62" y="434.1" font-size="21.6" text-anchor="middle">100</text>
<text x="1224.24" y="434.1" font-size="21.6" text-anchor="middle">150</text>
<text x="1310.86" y="434.1" font-size="21.6" text-anchor="middle">200</text>
<text x="1397.48" y="434.1" font-size="21.6" text-anchor="middle">250</text>
<text x="1484.1" y="434.1" font-size="21.6" text-anchor="middle">300</text>
<text x="1267.55" y="473" font-size="22.8" text-anchor="middle">Raman Shift (cm<tspan font-size="14.8" dy="-9">-1</tspan><tspan dy="9">)</tspan></text>
<text transform="translate(1035.5,234.4) rotate(-90)" font-size="22.8" text-anchor="middle">Intensity (a.u.)</text>
<text x="1014.5" y="34.9" font-size="48">c</text>
<text x="1473.3" y="95.7" font-size="27.6" text-anchor="end">XY</text>
<path d="M1076.5,94.3H1127.3M1076.5,128.6H1127.3" stroke="#767676" stroke-width="5.1" stroke-linecap="round"/>
<path d="M1076.5,128.6H1127.3" stroke="#d66769" stroke-width="5.1" stroke-linecap="round"/>
<text x="1133.5" y="102.1" font-size="23">EuCd<tspan font-size="14.5" dy="6">2</tspan><tspan dy="-6">P</tspan><tspan font-size="14.5" dy="6">2</tspan></text>
<text x="1133.5" y="136.5" font-size="23">EuCd<tspan font-size="14.5" dy="6">2</tspan><tspan dy="-6">As</tspan><tspan font-size="14.5" dy="6">2</tspan></text>
<text x="1088.4" y="191.6" font-size="23">E</text>
<text x="1104.4" y="181.5" font-size="15">1</text>
<text x="1104.4" y="197.4" font-size="15">g</text>
<text x="1386.5" y="220.9" font-size="23">E</text>
<text x="1402.5" y="210.8" font-size="15">2</text>
<text x="1402.5" y="226.7" font-size="15">g</text>
<text x="1252.6" y="319.6" font-size="23">E</text>
<text x="1268.6" y="309.5" font-size="15">2</text>
<text x="1268.6" y="325.4" font-size="15">g</text>
<polyline points="1584.36,267.81 1585.09,276.97 1585.82,271.38 1586.54,266.44 1587.27,272.43 1588,267.49 1588.73,265.71 1589.45,273.24 1590.18,264.42 1590.91,265.1 1591.64,269.63 1592.36,265.5 1593.09,259.52 1593.82,255.56 1594.55,236.84 1595.27,220.71 1596,211.1 1596.73,229.16 1597.46,250.32 1598.19,268.64 1598.91,261.2 1599.64,266.31 1600.37,270.75 1601.1,263.24 1601.82,267.23 1602.55,271.53 1603.28,267.33 1604.01,272.21 1604.73,257.66 1605.46,263.35 1606.19,264.15 1606.92,256.22 1607.64,266.22 1608.37,259.46 1609.1,269.94 1609.83,265.66 1610.55,269.53 1611.28,259.85 1612.01,260.91 1612.74,267.06 1613.47,261.57 1614.19,264.95 1614.92,262.89 1615.65,266.8 1616.38,272.17 1617.1,271.37 1617.83,264.03 1618.56,260.18 1619.29,265.38 1620.01,268.34 1620.74,260.58 1621.47,264.26 1622.2,262.64 1622.92,261.56 1623.65,263.91 1624.38,264.73 1625.11,270.48 1625.83,264.76 1626.56,267.21 1627.29,260.77 1628.02,269.03 1628.74,275.03 1629.47,266.77 1630.2,259.77 1630.93,268.94 1631.66,268.33 1632.38,265.86 1633.11,251.59 1633.84,252.14 1634.57,263.74 1635.29,255.55 1636.02,259.9 1636.75,260.3 1637.48,256.62 1638.2,256.67 1638.93,263.69 1639.66,261.35 1640.39,261.7 1641.11,265.4 1641.84,271.32 1642.57,261.1 1643.3,261.79 1644.02,263.58 1644.75,267.96 1645.48,266.89 1646.21,267.62 1646.93,265.69 1647.66,257.49 1648.39,256.19 1649.12,259.39 1649.85,259.12 1650.57,246.22 1651.3,239.11 1652.03,253.55 1652.76,262.8 1653.48,263.6 1654.21,257.4 1654.94,263.19 1655.67,268.83 1656.39,270.01 1657.12,270.58 1657.85,264.71 1658.58,264.15 1659.3,269.56 1660.03,264.82 1660.76,271.49 1661.49,268.86 1662.21,272.71 1662.94,267.9 1663.67,273.65 1664.4,268.88 1665.13,264.88 1665.85,260.67 1666.58,260.68 1667.31,267.21 1668.04,264.22 1668.76,263.24 1669.49,268.22 1670.22,268.53 1670.95,261.92 1671.67,269.54 1672.4,271.62 1673.13,264.87 1673.86,267.6 1674.58,266.85 1675.31,262.59 1676.04,266.23 1676.77,266.21 1677.49,263.1 1678.22,267.45 1678.95,271.25 1679.68,270.26 1680.4,269.72 1681.13,268.25 1681.86,272.05 1682.59,273.75 1683.32,265.32 1684.04,271.54 1684.77,274.8 1685.5,267.04 1686.23,274.26 1686.95,269.99 1687.68,273.15 1688.41,273.67 1689.14,272.26 1689.86,269.17 1690.59,269.16 1691.32,273.06 1692.05,270.66 1692.77,275.86 1693.5,268.98 1694.23,273.59 1694.96,267.41 1695.68,264.96 1696.41,262.33 1697.14,260.81 1697.87,273.18 1698.6,262.57 1699.32,260.8 1700.05,262.38 1700.78,269.3 1701.51,262.2 1702.23,261.89 1702.96,275.59 1703.69,270.71 1704.42,265.58 1705.14,274.15 1705.87,267 1706.6,273.16 1707.33,270.42 1708.05,272.36 1708.78,270.04 1709.51,272.63 1710.24,268.63 1710.96,275.66 1711.69,272.49 1712.42,267.57 1713.15,267.31 1713.87,274.97 1714.6,267.99 1715.33,273.83 1716.06,270.76 1716.79,270.28 1717.51,265.57 1718.24,270.91 1718.97,275.44 1719.7,273.3 1720.42,267.12 1721.15,273.66 1721.88,267.37 1722.61,270.96 1723.33,273.67 1724.06,267.11 1724.79,270.93 1725.52,275.74 1726.24,261.03 1726.97,278.07 1727.7,268.16 1728.43,267.43 1729.15,269.38 1729.88,279.04 1730.61,267.32 1731.34,276.68 1732.07,275.43 1732.79,271.56 1733.52,263.96 1734.25,268.37 1734.98,264.61 1735.7,268.15 1736.43,268.21 1737.16,271.36 1737.89,266 1738.61,262.34 1739.34,267.04 1740.07,264.97 1740.8,268.98 1741.52,266.53 1742.25,265.09 1742.98,264.05 1743.71,260.7 1744.43,265.45 1745.16,262.85 1745.89,268.83 1746.62,272.36 1747.34,275.32 1748.07,272.24 1748.8,269.43 1749.53,275.36 1750.26,272.08 1750.98,269.2 1751.71,268.12 1752.44,269.79 1753.17,267.1 1753.89,270.35 1754.62,271.32 1755.35,269.22 1756.08,270.16 1756.8,272.62 1757.53,270.49 1758.26,265.84 1758.99,269 1759.71,273.44 1760.44,263.12 1761.17,268.42 1761.9,267.09 1762.62,272.17 1763.35,265.39 1764.08,275.25 1764.81,274.64 1765.54,276.67 1766.26,270.69 1766.99,270.27 1767.72,268.91 1768.45,263.17 1769.17,264.87 1769.9,264.57 1770.63,270.68 1771.36,272.17 1772.08,269.46 1772.81,267.68 1773.54,265.8 1774.27,266.64 1774.99,272.67 1775.72,267.57 1776.45,262.52 1777.18,266.54 1777.9,267.67 1778.63,267.81 1779.36,269.15 1780.09,263.78 1780.81,266.54 1781.54,262.94 1782.27,266.69 1783,271.7 1783.73,269.31 1784.45,268.18 1785.18,272.42 1785.91,272.14 1786.64,277.07 1787.36,265.94 1788.09,271.29 1788.82,276.11 1789.55,272.21 1790.27,267.56 1791,265.39 1791.73,266.87 1792.46,265.7 1793.18,273.48 1793.91,276.41 1794.64,267.27 1795.37,271.52 1796.09,273.51 1796.82,267.28 1797.55,273.31 1798.28,270.1 1799.01,263.16 1799.73,260.08 1800.46,267.68 1801.19,262.33 1801.92,271.04 1802.64,268.04 1803.37,269.87 1804.1,273.48 1804.83,266.04 1805.55,265.02 1806.28,270.88 1807.01,269.52 1807.74,265.01 1808.46,274.61 1809.19,275.46 1809.92,271.55 1810.65,274.35 1811.37,265.18 1812.1,269.15 1812.83,273.02 1813.56,271.66 1814.28,261.5 1815.01,270.92 1815.74,272.26 1816.47,267.26 1817.2,264.45 1817.92,265.35 1818.65,269.89 1819.38,270.08 1820.11,266.19 1820.83,268.59 1821.56,278.08 1822.29,268.26 1823.02,269.87 1823.74,270.97 1824.47,272 1825.2,268.73 1825.93,273.37 1826.65,276.25 1827.38,271.18 1828.11,277.47 1828.84,269.88 1829.56,275.55 1830.29,270.04 1831.02,269.04 1831.75,263.59 1832.48,273.57 1833.2,271.9 1833.93,268.15 1834.66,271.73 1835.39,267.56 1836.11,264.91 1836.84,265.69 1837.57,261.22 1838.3,266.87 1839.02,260.01 1839.75,258.23 1840.48,263.64 1841.21,272.8 1841.93,267.97 1842.66,263.31 1843.39,272.31 1844.12,266.73 1844.84,267.1 1845.57,272 1846.3,268.38 1847.03,266.62 1847.75,271.4 1848.48,266.07 1849.21,265.93 1849.94,267.32 1850.67,263.38 1851.39,262.71 1852.12,268 1852.85,275.89 1853.58,267.57 1854.3,278.63 1855.03,271.91 1855.76,267.26 1856.49,272.72 1857.21,276.39 1857.94,275.49 1858.67,267.95 1859.4,272.62 1860.12,270.43 1860.85,266.34 1861.58,268.72 1862.31,269.51 1863.03,272.15 1863.76,273.8 1864.49,273.25 1865.22,268.06 1865.94,266.48 1866.67,261.62 1867.4,266.62 1868.13,267.11 1868.86,267.44 1869.58,273.76 1870.31,274.11 1871.04,278.18 1871.77,268.89 1872.49,269.16 1873.22,268.34 1873.95,264.74 1874.68,263.95 1875.4,268.43 1876.13,267.86 1876.86,272.38 1877.59,265.44 1878.31,268.79 1879.04,274.72 1879.77,262.58 1880.5,272.19 1881.22,265.62 1881.95,267.96 1882.68,261.85 1883.41,261.74 1884.14,269.16 1884.86,269.51 1885.59,262.43 1886.32,257.41 1887.05,257.72 1887.77,258.52 1888.5,255.74 1889.23,266.54 1889.96,259.85 1890.68,259.67 1891.41,247.91 1892.14,243.85 1892.87,234.54 1893.59,224.82 1894.32,227.91 1895.05,225.87 1895.78,235.99 1896.5,246.29 1897.23,256.99 1897.96,256.78 1898.69,264.08 1899.41,263.72 1900.14,264.11 1900.87,269.79 1901.6,266.66 1902.33,265.64 1903.05,264.73 1903.78,268.67 1904.51,269.76 1905.24,265.19 1905.96,262.96 1906.69,272.91 1907.42,265.53 1908.15,266.27 1908.87,259.98 1909.6,260.65 1910.33,258.4 1911.06,270.04 1911.78,266.51 1912.51,271.51 1913.24,269.91 1913.97,270.78 1914.69,271.74 1915.42,267.61 1916.15,259.69 1916.88,273.51 1917.61,270.32 1918.33,265.4 1919.06,264.91 1919.79,266.51 1920.52,270.97 1921.24,268.24 1921.97,263.73 1922.7,262.27 1923.43,265.3 1924.15,266.51 1924.88,263.57 1925.61,264.38 1926.34,263.99 1927.06,266.16 1927.79,269.38 1928.52,267.12 1929.25,273.87 1929.97,265.17 1930.7,266.06 1931.43,274.76 1932.16,267.74 1932.88,272.54 1933.61,264.29 1934.34,261.17 1935.07,263.4 1935.8,257.06 1936.52,260.19 1937.25,260.56 1937.98,261.48 1938.71,260.15 1939.43,259.06 1940.16,255.66 1940.89,257.39" fill="none" stroke="#767676" stroke-width="4.7" stroke-linejoin="round" stroke-linecap="round"/>
<polyline points="1584.36,387.55 1585.09,383.73 1585.82,394.35 1586.54,389.97 1587.27,393.36 1588,379 1588.73,380.76 1589.45,379.69 1590.18,385.27 1590.91,384.62 1591.64,395.6 1592.36,382.12 1593.09,393.29 1593.82,390.11 1594.55,390.24 1595.27,388.4 1596,378.82 1596.73,386.73 1597.46,384.58 1598.19,382.17 1598.91,378.04 1599.64,391.53 1600.37,386.13 1601.1,383.64 1601.82,392.11 1602.55,384.69 1603.28,376.5 1604.01,374.15 1604.73,378.4 1605.46,381.55 1606.19,373.78 1606.92,384.05 1607.64,380.05 1608.37,381.09 1609.1,386.05 1609.83,386.9 1610.55,378.93 1611.28,387.99 1612.01,384.46 1612.74,380.45 1613.47,385.51 1614.19,383.21 1614.92,384.69 1615.65,384.4 1616.38,387.38 1617.1,379.23 1617.83,373.85 1618.56,377.18 1619.29,393.12 1620.01,377.11 1620.74,390.74 1621.47,390.53 1622.2,381.29 1622.92,384.39 1623.65,375.34 1624.38,386.9 1625.11,395.71 1625.83,399.34 1626.56,391.71 1627.29,386.77 1628.02,384.91 1628.74,377.1 1629.47,383.48 1630.2,383.61 1630.93,387.81 1631.66,388.66 1632.38,391.1 1633.11,395.78 1633.84,379.41 1634.57,388.99 1635.29,387.87 1636.02,380.51 1636.75,384.74 1637.48,382.54 1638.2,381.25 1638.93,384.93 1639.66,373.85 1640.39,380.01 1641.11,381.91 1641.84,374.85 1642.57,377.25 1643.3,382.72 1644.02,378.83 1644.75,384.38 1645.48,384.82 1646.21,385.12 1646.93,382.52 1647.66,390.74 1648.39,383.91 1649.12,387.3 1649.85,381.91 1650.57,389.99 1651.3,394.19 1652.03,387.59 1652.76,379.91 1653.48,384.49 1654.21,389.87 1654.94,381.64 1655.67,393.73 1656.39,394.04 1657.12,389.6 1657.85,391.98 1658.58,393.56 1659.3,395.22 1660.03,391.77 1660.76,383.5 1661.49,394.81 1662.21,389.47 1662.94,377.55 1663.67,374.48 1664.4,390.43 1665.13,378.55 1665.85,375.15 1666.58,382.32 1667.31,383.52 1668.04,373.86 1668.76,381.85 1669.49,381.76 1670.22,381.13 1670.95,384.55 1671.67,389.95 1672.4,376.74 1673.13,375.87 1673.86,383.84 1674.58,385.7 1675.31,382.36 1676.04,386.23 1676.77,391.27 1677.49,386.71 1678.22,382.54 1678.95,384.94 1679.68,389.34 1680.4,389.93 1681.13,382.29 1681.86,390.73 1682.59,381.03 1683.32,385.79 1684.04,393.87 1684.77,388.32 1685.5,384.18 1686.23,381.1 1686.95,379.95 1687.68,375.89 1688.41,382.64 1689.14,389.85 1689.86,387.35 1690.59,387.99 1691.32,383.82 1692.05,378.43 1692.77,387.1 1693.5,378.37 1694.23,379.87 1694.96,384.01 1695.68,392.53 1696.41,392.06 1697.14,395.8 1697.87,393.51 1698.6,399.52 1699.32,390.26 1700.05,385.96 1700.78,389.17 1701.51,391.5 1702.23,381.97 1702.96,375.24 1703.69,379.51 1704.42,376.95 1705.14,378.55 1705.87,377.14 1706.6,379.25 1707.33,386.49 1708.05,382.71 1708.78,379.25 1709.51,389.18 1710.24,382.61 1710.96,380.63 1711.69,381.94 1712.42,387.37 1713.15,377.74 1713.87,385.18 1714.6,389.82 1715.33,397.78 1716.06,389.1 1716.79,385.06 1717.51,386.79 1718.24,379.95 1718.97,373.06 1719.7,377.07 1720.42,375.91 1721.15,385.82 1721.88,385.95 1722.61,380.83 1723.33,392.42 1724.06,381.03 1724.79,395.54 1725.52,390.07 1726.24,380.59 1726.97,391.98 1727.7,380.45 1728.43,385.5 1729.15,386.52 1729.88,380.23 1730.61,383.66 1731.34,380.66 1732.07,383.59 1732.79,387.07 1733.52,390.01 1734.25,381.82 1734.98,391.95 1735.7,382.72 1736.43,382.71 1737.16,380.44 1737.89,380.84 1738.61,390.27 1739.34,384.69 1740.07,388.49 1740.8,385.93 1741.52,379.86 1742.25,380.92 1742.98,380.75 1743.71,383.46 1744.43,382.62 1745.16,386.12 1745.89,382.31 1746.62,374 1747.34,378.76 1748.07,373.77 1748.8,368.04 1749.53,372.64 1750.26,375.47 1750.98,365.45 1751.71,358.24 1752.44,363.3 1753.17,359.69 1753.89,346.46 1754.62,349.15 1755.35,341.63 1756.08,337.18 1756.8,335.93 1757.53,328.03 1758.26,328.32 1758.99,334.6 1759.71,327.89 1760.44,330.12 1761.17,345.46 1761.9,347.1 1762.62,349.45 1763.35,368.12 1764.08,370.99 1764.81,368.56 1765.54,372.57 1766.26,372.32 1766.99,377.72 1767.72,389.47 1768.45,379.56 1769.17,381.06 1769.9,388.51 1770.63,379.11 1771.36,387.97 1772.08,388.09 1772.81,387.83 1773.54,380.49 1774.27,394.46 1774.99,386.71 1775.72,383.83 1776.45,388.73 1777.18,385.23 1777.9,380.54 1778.63,375.56 1779.36,389.79 1780.09,387.76 1780.81,388.47 1781.54,393.77 1782.27,387.83 1783,391.78 1783.73,390.57 1784.45,384.91 1785.18,384.58 1785.91,390.53 1786.64,385.61 1787.36,384.82 1788.09,388.99 1788.82,390.26 1789.55,384.53 1790.27,383.29 1791,391.95 1791.73,387.12 1792.46,378.2 1793.18,388.3 1793.91,394.52 1794.64,386.06 1795.37,385.02 1796.09,381.92 1796.82,383.98 1797.55,375.13 1798.28,388.75 1799.01,386.44 1799.73,381.91 1800.46,389.75 1801.19,398.16 1801.92,382.92 1802.64,385.6 1803.37,390.81 1804.1,382.13 1804.83,381.96 1805.55,389.61 1806.28,394.89 1807.01,397.77 1807.74,388.13 1808.46,387.64 1809.19,386 1809.92,390.17 1810.65,381.02 1811.37,390.05 1812.1,388.94 1812.83,376.04 1813.56,384.74 1814.28,380.67 1815.01,379.43 1815.74,376.45 1816.47,381.36 1817.2,384.87 1817.92,380.13 1818.65,391.58 1819.38,391.84 1820.11,386.66 1820.83,388.75 1821.56,381.11 1822.29,386.78 1823.02,386.06 1823.74,386.86 1824.47,392.93 1825.2,378.02 1825.93,387.71 1826.65,383.94 1827.38,387.83 1828.11,387.95 1828.84,384.35 1829.56,388.22 1830.29,385.35 1831.02,391.81 1831.75,383.94 1832.48,389.72 1833.2,397.33 1833.93,391.13 1834.66,381.01 1835.39,382.53 1836.11,387.19 1836.84,382.59 1837.57,377.83 1838.3,377.33 1839.02,390.53 1839.75,385.36 1840.48,391.7 1841.21,379.12 1841.93,389.59 1842.66,388.39 1843.39,383.7 1844.12,382.08 1844.84,381.8 1845.57,380.13 1846.3,386.46 1847.03,393.43 1847.75,390.26 1848.48,393.18 1849.21,389.87 1849.94,391.7 1850.67,388.87 1851.39,378.07 1852.12,384.65 1852.85,393.31 1853.58,388.05 1854.3,383.65 1855.03,386.05 1855.76,392.79 1856.49,385.22 1857.21,380.69 1857.94,395.17 1858.67,390.9 1859.4,386.79 1860.12,380.53 1860.85,385.62 1861.58,384.32 1862.31,389.96 1863.03,379.72 1863.76,390.9 1864.49,395 1865.22,382.26 1865.94,381.76 1866.67,388.12 1867.4,388.47 1868.13,384.5 1868.86,387.86 1869.58,390.45 1870.31,379.9 1871.04,378.55 1871.77,384.31 1872.49,385.1 1873.22,387.55 1873.95,386.18 1874.68,385.61 1875.4,386.32 1876.13,391.44 1876.86,389.11 1877.59,391.32 1878.31,383.95 1879.04,386.06 1879.77,387.04 1880.5,385.68 1881.22,397.22 1881.95,393.01 1882.68,387.22 1883.41,380.58 1884.14,386.82 1884.86,382.07 1885.59,380.85 1886.32,387 1887.05,384.73 1887.77,389.01 1888.5,377.73 1889.23,387.52 1889.96,385.33 1890.68,390.53 1891.41,387.5 1892.14,391.31 1892.87,379.79 1893.59,391.5 1894.32,375.67 1895.05,382.35 1895.78,381.53 1896.5,390.03 1897.23,385.73 1897.96,386.04 1898.69,385.32 1899.41,384.82 1900.14,390.79 1900.87,395.97 1901.6,385.14 1902.33,393.55 1903.05,383.35 1903.78,391.27 1904.51,386.23 1905.24,379.24 1905.96,382.09 1906.69,388.79 1907.42,387.37 1908.15,381.41 1908.87,391.35 1909.6,375.47 1910.33,383.6 1911.06,388.84 1911.78,382.29 1912.51,384.12 1913.24,385.89 1913.97,380.44 1914.69,383.48 1915.42,389.87 1916.15,387.91 1916.88,386.95 1917.61,384.41 1918.33,386.81 1919.06,385.37 1919.79,375.96 1920.52,384.39 1921.24,379.43 1921.97,389.94 1922.7,390.88 1923.43,385.16 1924.15,381.08 1924.88,380.11 1925.61,378.82 1926.34,376.1 1927.06,387.17 1927.79,388.45 1928.52,385.27 1929.25,387.69 1929.97,388.05 1930.7,376.59 1931.43,377.8 1932.16,391.25 1932.88,387.09 1933.61,386.6 1934.34,375.93 1935.07,389.68 1935.8,378.99 1936.52,381.23 1937.25,385.08 1937.98,380.54 1938.71,384.07 1939.43,392.09 1940.16,387.11 1940.89,377.61" fill="none" stroke="#d66769" stroke-width="4.7" stroke-linejoin="round" stroke-linecap="round"/>
<rect x="1548.5" y="60" width="433.1" height="349.2" fill="none" stroke="#000" stroke-width="2.4"/>
<path d="M1591.81,60v3.9M1591.81,409.2v-3.9M1635.12,60v7M1635.12,409.2v-7M1678.43,60v3.9M1678.43,409.2v-3.9M1721.74,60v7M1721.74,409.2v-7M1765.05,60v3.9M1765.05,409.2v-3.9M1808.36,60v7M1808.36,409.2v-7M1851.67,60v3.9M1851.67,409.2v-3.9M1894.98,60v7M1894.98,409.2v-7M1938.29,60v3.9M1938.29,409.2v-3.9M1548.5,79.3h7M1981.6,79.3h-7M1548.5,98.72h3.9M1981.6,98.72h-3.9M1548.5,118.14h7M1981.6,118.14h-7M1548.5,137.56h3.9M1981.6,137.56h-3.9M1548.5,156.98h7M1981.6,156.98h-7M1548.5,176.4h3.9M1981.6,176.4h-3.9M1548.5,195.82h7M1981.6,195.82h-7M1548.5,215.24h3.9M1981.6,215.24h-3.9M1548.5,234.66h7M1981.6,234.66h-7M1548.5,254.08h3.9M1981.6,254.08h-3.9M1548.5,273.5h7M1981.6,273.5h-7M1548.5,292.92h3.9M1981.6,292.92h-3.9M1548.5,312.34h7M1981.6,312.34h-7M1548.5,331.76h3.9M1981.6,331.76h-3.9M1548.5,351.18h7M1981.6,351.18h-7M1548.5,370.6h3.9M1981.6,370.6h-3.9M1548.5,390.02h7M1981.6,390.02h-7" stroke="#000" stroke-width="2.4" fill="none"/>
<text x="1548.5" y="434.1" font-size="21.6" text-anchor="middle">50</text>
<text x="1635.12" y="434.1" font-size="21.6" text-anchor="middle">100</text>
<text x="1721.74" y="434.1" font-size="21.6" text-anchor="middle">150</text>
<text x="1808.36" y="434.1" font-size="21.6" text-anchor="middle">200</text>
<text x="1894.98" y="434.1" font-size="21.6" text-anchor="middle">250</text>
<text x="1981.6" y="434.1" font-size="21.6" text-anchor="middle">300</text>
<text x="1765.05" y="473" font-size="22.8" text-anchor="middle">Raman Shift (cm<tspan font-size="14.8" dy="-9">-1</tspan><tspan dy="9">)</tspan></text>
<text transform="translate(1533,234.4) rotate(-90)" font-size="22.8" text-anchor="middle">Intensity (a.u.)</text>
<text x="1510.6" y="34.9" font-size="48">d</text>
<text x="1969.2" y="95.8" font-size="27.6" text-anchor="end">YX</text>
<path d="M1574.7,89.4H1625.3M1574.7,123.7H1625.3" stroke="#767676" stroke-width="5.1" stroke-linecap="round"/>
<path d="M1574.7,123.7H1625.3" stroke="#d66769" stroke-width="5.1" stroke-linecap="round"/>
<text x="1631.7" y="97.2" font-size="23">EuCd<tspan font-size="14.5" dy="6">2</tspan><tspan dy="-6">P</tspan><tspan font-size="14.5" dy="6">2</tspan></text>
<text x="1631.7" y="131.6" font-size="23">EuCd<tspan font-size="14.5" dy="6">2</tspan><tspan dy="-6">As</tspan><tspan font-size="14.5" dy="6">2</tspan></text>
<text x="1585.8" y="205.8" font-size="23">E</text>
<text x="1601.8" y="195.7" font-size="15">1</text>
<text x="1601.8" y="211.6" font-size="15">g</text>
<text x="1884.5" y="220.4" font-size="23">E</text>
<text x="1900.5" y="210.3" font-size="15">2</text>
<text x="1900.5" y="226.2" font-size="15">g</text>
<text x="1750.2" y="318.9" font-size="23">E</text>
<text x="1766.2" y="308.8" font-size="15">2</text>
<text x="1766.2" y="324.7" font-size="15">g</text>
<rect x="78.8" y="553" width="8.18" height="349.3" fill="url(#h1)"/>
<rect x="86.38" y="553" width="15.76" height="349.3" fill="url(#h2)"/>
<rect x="101.54" y="553" width="15.76" height="349.3" fill="url(#h3)"/>
<rect x="116.7" y="553" width="15.76" height="349.3" fill="url(#h4)"/>
<rect x="131.85" y="553" width="15.76" height="349.3" fill="url(#h5)"/>
<rect x="147.01" y="553" width="15.76" height="349.3" fill="url(#h6)"/>
<rect x="162.17" y="553" width="15.76" height="349.3" fill="url(#h7)"/>
<rect x="177.33" y="553" width="15.76" height="349.3" fill="url(#h8)"/>
<rect x="192.49" y="553" width="15.76" height="349.3" fill="url(#h9)"/>
<rect x="207.65" y="553" width="15.76" height="349.3" fill="url(#h10)"/>
<rect x="222.8" y="553" width="15.76" height="349.3" fill="url(#h11)"/>
<rect x="237.96" y="553" width="15.76" height="349.3" fill="url(#h12)"/>
<rect x="253.12" y="553" width="15.76" height="349.3" fill="url(#h13)"/>
<rect x="268.28" y="553" width="15.76" height="349.3" fill="url(#h14)"/>
<rect x="283.44" y="553" width="15.76" height="349.3" fill="url(#h15)"/>
<rect x="298.6" y="553" width="15.76" height="349.3" fill="url(#h16)"/>
<rect x="313.75" y="553" width="15.76" height="349.3" fill="url(#h17)"/>
<rect x="328.91" y="553" width="15.76" height="349.3" fill="url(#h18)"/>
<rect x="344.07" y="553" width="15.76" height="349.3" fill="url(#h19)"/>
<rect x="359.23" y="553" width="15.76" height="349.3" fill="url(#h20)"/>
<rect x="374.39" y="553" width="15.76" height="349.3" fill="url(#h21)"/>
<rect x="389.55" y="553" width="15.76" height="349.3" fill="url(#h22)"/>
<rect x="404.7" y="553" width="15.76" height="349.3" fill="url(#h23)"/>
<rect x="419.86" y="553" width="15.76" height="349.3" fill="url(#h24)"/>
<rect x="435.02" y="553" width="7.58" height="349.3" fill="url(#h25)"/>
<rect x="78.8" y="553" width="363.8" height="349.3" fill="url(#nze)" opacity="0.45"/>
<rect x="78.8" y="553" width="363.8" height="349.3" fill="none" stroke="#000" stroke-width="2.3"/>
<path d="M124.28,553v3.8M124.28,902.3v-3.8M169.75,553v3.8M169.75,902.3v-3.8M215.23,553v3.8M215.23,902.3v-3.8M260.7,553v3.8M260.7,902.3v-3.8M306.18,553v3.8M306.18,902.3v-3.8M351.65,553v3.8M351.65,902.3v-3.8M397.13,553v3.8M397.13,902.3v-3.8M78.8,897h3.8M442.6,897h-3.8M78.8,854h3.8M442.6,854h-3.8M78.8,811h3.8M442.6,811h-3.8M78.8,768h3.8M442.6,768h-3.8M78.8,725h3.8M442.6,725h-3.8M78.8,682h3.8M442.6,682h-3.8M78.8,639h3.8M442.6,639h-3.8M78.8,596h3.8M442.6,596h-3.8" stroke="#000" stroke-width="2" fill="none"/>
<text x="78.8" y="924.2" font-size="21.6" text-anchor="middle">0</text>
<text x="124.28" y="924.2" font-size="21.6" text-anchor="middle">45</text>
<text x="169.75" y="924.2" font-size="21.6" text-anchor="middle">90</text>
<text x="215.23" y="924.2" font-size="21.6" text-anchor="middle">135</text>
<text x="260.7" y="924.2" font-size="21.6" text-anchor="middle">180</text>
<text x="306.18" y="924.2" font-size="21.6" text-anchor="middle">225</text>
<text x="351.65" y="924.2" font-size="21.6" text-anchor="middle">270</text>
<text x="397.13" y="924.2" font-size="21.6" text-anchor="middle">315</text>
<text x="442.6" y="924.2" font-size="21.6" text-anchor="middle">360</text>
<text x="74.2" y="903.8" font-size="21.6" text-anchor="end">75</text>
<text x="74.2" y="860.8" font-size="21.6" text-anchor="end">100</text>
<text x="74.2" y="817.8" font-size="21.6" text-anchor="end">125</text>
<text x="74.2" y="774.8" font-size="21.6" text-anchor="end">150</text>
<text x="74.2" y="731.8" font-size="21.6" text-anchor="end">175</text>
<text x="74.2" y="688.8" font-size="21.6" text-anchor="end">200</text>
<text x="74.2" y="645.8" font-size="21.6" text-anchor="end">225</text>
<text x="74.2" y="602.8" font-size="21.6" text-anchor="end">250</text>
<text x="74.2" y="559.4" font-size="21.6" text-anchor="end">275</text>
<text x="260.7" y="960" font-size="22.8" text-anchor="middle">Angle (°)</text>
<text transform="translate(31,727.5) rotate(-90)" font-size="22.8" text-anchor="middle">Raman Shift (cm<tspan font-size="14.8" dy="-9">-1</tspan><tspan dy="9">)</tspan></text>
<text x="-1.6" y="522.2" font-size="48">e</text>
<text y="575.9" font-size="24.5"><tspan x="83.8" y="575.9">EuCd</tspan><tspan x="148.3" y="582.4" font-size="15.5">2</tspan><tspan x="156.8" y="575.9">P</tspan><tspan x="173.8" y="582.4" font-size="15.5">2</tspan><tspan x="191.3" y="575.9" font-style="italic">e</tspan><tspan x="204.3" y="582.4" font-size="15.5">i</tspan><tspan x="208.6" y="572.9" font-size="22.9" font-weight="normal" style="stroke-width:0.3px">|</tspan><tspan x="213.6" y="572.9" font-size="22.9" font-weight="normal" style="stroke-width:0.3px">|</tspan><tspan x="218.8" y="575.9" font-style="italic">e</tspan><tspan x="231.8" y="582.4" font-size="15.5">s</tspan></text>
<text x="445.2" y="598.46" font-size="23">A</text>
<text x="462.8" y="588.36" font-size="15">2</text>
<text x="462.8" y="604.26" font-size="15">1g</text>
<text x="444.7" y="859.44" font-size="23">A</text>
<text x="462.3" y="849.34" font-size="15">1</text>
<text x="462.3" y="865.24" font-size="15">1g</text>
<text x="445.1" y="901.88" font-size="23">E</text>
<text x="461.1" y="891.78" font-size="15">1</text>
<text x="461.1" y="907.68" font-size="15">g</text>
<rect x="479.7" y="552.5" width="19.0" height="348.9" fill="url(#cb)" stroke="#4a4a4a" stroke-width="0.8"/>
<rect x="579.4" y="553" width="8.18" height="349.3" fill="url(#h26)"/>
<rect x="586.98" y="553" width="15.76" height="349.3" fill="url(#h27)"/>
<rect x="602.14" y="553" width="15.76" height="349.3" fill="url(#h28)"/>
<rect x="617.3" y="553" width="15.76" height="349.3" fill="url(#h29)"/>
<rect x="632.45" y="553" width="15.76" height="349.3" fill="url(#h30)"/>
<rect x="647.61" y="553" width="15.76" height="349.3" fill="url(#h31)"/>
<rect x="662.77" y="553" width="15.76" height="349.3" fill="url(#h32)"/>
<rect x="677.93" y="553" width="15.76" height="349.3" fill="url(#h33)"/>
<rect x="693.09" y="553" width="15.76" height="349.3" fill="url(#h34)"/>
<rect x="708.25" y="553" width="15.76" height="349.3" fill="url(#h35)"/>
<rect x="723.4" y="553" width="15.76" height="349.3" fill="url(#h36)"/>
<rect x="738.56" y="553" width="15.76" height="349.3" fill="url(#h37)"/>
<rect x="753.72" y="553" width="15.76" height="349.3" fill="url(#h38)"/>
<rect x="768.88" y="553" width="15.76" height="349.3" fill="url(#h39)"/>
<rect x="784.04" y="553" width="15.76" height="349.3" fill="url(#h40)"/>
<rect x="799.2" y="553" width="15.76" height="349.3" fill="url(#h41)"/>
<rect x="814.35" y="553" width="15.76" height="349.3" fill="url(#h42)"/>
<rect x="829.51" y="553" width="15.76" height="349.3" fill="url(#h43)"/>
<rect x="844.67" y="553" width="15.76" height="349.3" fill="url(#h44)"/>
<rect x="859.83" y="553" width="15.76" height="349.3" fill="url(#h45)"/>
<rect x="874.99" y="553" width="15.76" height="349.3" fill="url(#h46)"/>
<rect x="890.15" y="553" width="15.76" height="349.3" fill="url(#h47)"/>
<rect x="905.3" y="553" width="15.76" height="349.3" fill="url(#h48)"/>
<rect x="920.46" y="553" width="15.76" height="349.3" fill="url(#h49)"/>
<rect x="935.62" y="553" width="7.58" height="349.3" fill="url(#h50)"/>
<rect x="579.4" y="553" width="363.8" height="349.3" fill="url(#nzf)" opacity="1"/>
<rect x="579.4" y="553" width="363.8" height="349.3" fill="none" stroke="#000" stroke-width="2.3"/>
<path d="M624.88,553v3.8M624.88,902.3v-3.8M670.35,553v3.8M670.35,902.3v-3.8M715.83,553v3.8M715.83,902.3v-3.8M761.3,553v3.8M761.3,902.3v-3.8M806.77,553v3.8M806.77,902.3v-3.8M852.25,553v3.8M852.25,902.3v-3.8M897.73,553v3.8M897.73,902.3v-3.8M579.4,897h3.8M943.2,897h-3.8M579.4,854h3.8M943.2,854h-3.8M579.4,811h3.8M943.2,811h-3.8M579.4,768h3.8M943.2,768h-3.8M579.4,725h3.8M943.2,725h-3.8M579.4,682h3.8M943.2,682h-3.8M579.4,639h3.8M943.2,639h-3.8M579.4,596h3.8M943.2,596h-3.8" stroke="#000" stroke-width="2" fill="none"/>
<text x="579.4" y="924.2" font-size="21.6" text-anchor="middle">0</text>
<text x="624.88" y="924.2" font-size="21.6" text-anchor="middle">45</text>
<text x="670.35" y="924.2" font-size="21.6" text-anchor="middle">90</text>
<text x="715.83" y="924.2" font-size="21.6" text-anchor="middle">135</text>
<text x="761.3" y="924.2" font-size="21.6" text-anchor="middle">180</text>
<text x="806.77" y="924.2" font-size="21.6" text-anchor="middle">225</text>
<text x="852.25" y="924.2" font-size="21.6" text-anchor="middle">270</text>
<text x="897.73" y="924.2" font-size="21.6" text-anchor="middle">315</text>
<text x="943.2" y="924.2" font-size="21.6" text-anchor="middle">360</text>
<text x="574.8" y="903.8" font-size="21.6" text-anchor="end">75</text>
<text x="574.8" y="860.8" font-size="21.6" text-anchor="end">100</text>
<text x="574.8" y="817.8" font-size="21.6" text-anchor="end">125</text>
<text x="574.8" y="774.8" font-size="21.6" text-anchor="end">150</text>
<text x="574.8" y="731.8" font-size="21.6" text-anchor="end">175</text>
<text x="574.8" y="688.8" font-size="21.6" text-anchor="end">200</text>
<text x="574.8" y="645.8" font-size="21.6" text-anchor="end">225</text>
<text x="574.8" y="602.8" font-size="21.6" text-anchor="end">250</text>
<text x="574.8" y="559.4" font-size="21.6" text-anchor="end">275</text>
<text x="761.3" y="960" font-size="22.8" text-anchor="middle">Angle (°)</text>
<text transform="translate(531,727.5) rotate(-90)" font-size="22.8" text-anchor="middle">Raman Shift (cm<tspan font-size="14.8" dy="-9">-1</tspan><tspan dy="9">)</tspan></text>
<text x="516.3" y="522.2" font-size="48">f</text>
<text y="581.9" font-size="24.5"><tspan x="585.8" y="581.9">EuCd</tspan><tspan x="650.3" y="588.4" font-size="15.5">2</tspan><tspan x="658.8" y="581.9">P</tspan><tspan x="675.8" y="588.4" font-size="15.5">2</tspan><tspan x="693.3" y="581.9">e</tspan><tspan x="706.3" y="588.4" font-size="15.5">i</tspan><tspan x="711.3" y="580.7" font-size="20" font-family="'DejaVu Sans',sans-serif" font-weight="normal" style="stroke-width:0.25px">⊥</tspan><tspan x="725.3" y="581.9">e</tspan><tspan x="740.3" y="588.4" font-size="15.5">s</tspan></text>
<text x="946.5" y="607.68" font-size="23">E</text>
<text x="962.5" y="597.58" font-size="15">2</text>
<text x="962.5" y="613.48" font-size="15">g</text>
<text x="945.8" y="899.8" font-size="23">E</text>
<text x="961.8" y="889.7" font-size="15">1</text>
<text x="961.8" y="905.6" font-size="15">g</text>
<rect x="980.8" y="552.5" width="19.0" height="348.9" fill="url(#cb)" stroke="#4a4a4a" stroke-width="0.8"/>
<rect x="1078.9" y="553" width="8.18" height="349.3" fill="url(#h51)"/>
<rect x="1086.48" y="553" width="15.76" height="349.3" fill="url(#h52)"/>
<rect x="1101.64" y="553" width="15.76" height="349.3" fill="url(#h53)"/>
<rect x="1116.81" y="553" width="15.76" height="349.3" fill="url(#h54)"/>
<rect x="1131.97" y="553" width="15.76" height="349.3" fill="url(#h55)"/>
<rect x="1147.13" y="553" width="15.76" height="349.3" fill="url(#h56)"/>
<rect x="1162.29" y="553" width="15.76" height="349.3" fill="url(#h57)"/>
<rect x="1177.46" y="553" width="15.76" height="349.3" fill="url(#h58)"/>
<rect x="1192.62" y="553" width="15.76" height="349.3" fill="url(#h59)"/>
<rect x="1207.78" y="553" width="15.76" height="349.3" fill="url(#h60)"/>
<rect x="1222.94" y="553" width="15.76" height="349.3" fill="url(#h61)"/>
<rect x="1238.11" y="553" width="15.76" height="349.3" fill="url(#h62)"/>
<rect x="1253.27" y="553" width="15.76" height="349.3" fill="url(#h63)"/>
<rect x="1268.43" y="553" width="15.76" height="349.3" fill="url(#h64)"/>
<rect x="1283.59" y="553" width="15.76" height="349.3" fill="url(#h65)"/>
<rect x="1298.76" y="553" width="15.76" height="349.3" fill="url(#h66)"/>
<rect x="1313.92" y="553" width="15.76" height="349.3" fill="url(#h67)"/>
<rect x="1329.08" y="553" width="15.76" height="349.3" fill="url(#h68)"/>
<rect x="1344.24" y="553" width="15.76" height="349.3" fill="url(#h69)"/>
<rect x="1359.41" y="553" width="15.76" height="349.3" fill="url(#h70)"/>
<rect x="1374.57" y="553" width="15.76" height="349.3" fill="url(#h71)"/>
<rect x="1389.73" y="553" width="15.76" height="349.3" fill="url(#h72)"/>
<rect x="1404.89" y="553" width="15.76" height="349.3" fill="url(#h73)"/>
<rect x="1420.06" y="553" width="15.76" height="349.3" fill="url(#h74)"/>
<rect x="1435.22" y="553" width="7.58" height="349.3" fill="url(#h75)"/>
<rect x="1078.9" y="553" width="363.9" height="349.3" fill="url(#nzg)" opacity="0.9"/>
<rect x="1078.9" y="553" width="363.9" height="349.3" fill="none" stroke="#000" stroke-width="2.3"/>
<path d="M1124.39,553v3.8M1124.39,902.3v-3.8M1169.88,553v3.8M1169.88,902.3v-3.8M1215.36,553v3.8M1215.36,902.3v-3.8M1260.85,553v3.8M1260.85,902.3v-3.8M1306.34,553v3.8M1306.34,902.3v-3.8M1351.83,553v3.8M1351.83,902.3v-3.8M1397.31,553v3.8M1397.31,902.3v-3.8M1078.9,893.8h3.8M1442.8,893.8h-3.8M1078.9,825.64h3.8M1442.8,825.64h-3.8M1078.9,757.48h3.8M1442.8,757.48h-3.8M1078.9,689.32h3.8M1442.8,689.32h-3.8M1078.9,621.16h3.8M1442.8,621.16h-3.8" stroke="#000" stroke-width="2" fill="none"/>
<text x="1078.9" y="924.2" font-size="21.6" text-anchor="middle">0</text>
<text x="1124.39" y="924.2" font-size="21.6" text-anchor="middle">45</text>
<text x="1169.88" y="924.2" font-size="21.6" text-anchor="middle">90</text>
<text x="1215.36" y="924.2" font-size="21.6" text-anchor="middle">135</text>
<text x="1260.85" y="924.2" font-size="21.6" text-anchor="middle">180</text>
<text x="1306.34" y="924.2" font-size="21.6" text-anchor="middle">225</text>
<text x="1351.83" y="924.2" font-size="21.6" text-anchor="middle">270</text>
<text x="1397.31" y="924.2" font-size="21.6" text-anchor="middle">315</text>
<text x="1442.8" y="924.2" font-size="21.6" text-anchor="middle">360</text>
<text x="1074.3" y="900.6" font-size="21.6" text-anchor="end">75</text>
<text x="1074.3" y="832.44" font-size="21.6" text-anchor="end">100</text>
<text x="1074.3" y="764.28" font-size="21.6" text-anchor="end">125</text>
<text x="1074.3" y="696.12" font-size="21.6" text-anchor="end">150</text>
<text x="1074.3" y="627.96" font-size="21.6" text-anchor="end">175</text>
<text x="1074.3" y="559.4" font-size="21.6" text-anchor="end">200</text>
<text x="1260.85" y="960" font-size="22.8" text-anchor="middle">Angle (°)</text>
<text transform="translate(1031,727.5) rotate(-90)" font-size="22.8" text-anchor="middle">Raman Shift (cm<tspan font-size="14.8" dy="-9">-1</tspan><tspan dy="9">)</tspan></text>
<text x="1012.5" y="522.2" font-size="48">g</text>
<text y="581.4" font-size="24.5"><tspan x="1085.6" y="581.4">EuCd</tspan><tspan x="1149.8" y="587.9" font-size="15.5">2</tspan><tspan x="1158.8" y="581.4">As</tspan><tspan x="1190.8" y="587.9" font-size="15.5">2</tspan><tspan x="1207.8" y="581.4">e</tspan><tspan x="1221.3" y="587.9" font-size="15.5">i</tspan><tspan x="1226.1" y="578.4" font-size="22.9" font-weight="normal" style="stroke-width:0.3px">|</tspan><tspan x="1230.6" y="578.4" font-size="22.9" font-weight="normal" style="stroke-width:0.3px">|</tspan><tspan x="1234.8" y="581.4">e</tspan><tspan x="1248.3" y="587.9" font-size="15.5">s</tspan></text>
<text x="1446.5" y="641.19" font-size="23">E</text>
<text x="1462.5" y="631.09" font-size="15">2</text>
<text x="1462.5" y="646.99" font-size="15">g</text>
<text x="1446" y="671.29" font-size="23">A</text>
<text x="1463.6" y="661.19" font-size="15">2</text>
<text x="1463.6" y="677.09" font-size="15">1g</text>
<text x="1445.6" y="841.37" font-size="23">A</text>
<text x="1463.2" y="831.27" font-size="15">1</text>
<text x="1463.2" y="847.17" font-size="15">1g</text>
<rect x="1481" y="552.5" width="19.0" height="348.9" fill="url(#cb)" stroke="#4a4a4a" stroke-width="0.8"/>
<rect x="1579.4" y="553" width="8.18" height="349.3" fill="url(#h76)"/>
<rect x="1586.98" y="553" width="15.75" height="349.3" fill="url(#h77)"/>
<rect x="1602.12" y="553" width="15.75" height="349.3" fill="url(#h78)"/>
<rect x="1617.28" y="553" width="15.75" height="349.3" fill="url(#h79)"/>
<rect x="1632.43" y="553" width="15.75" height="349.3" fill="url(#h80)"/>
<rect x="1647.58" y="553" width="15.75" height="349.3" fill="url(#h81)"/>
<rect x="1662.73" y="553" width="15.75" height="349.3" fill="url(#h82)"/>
<rect x="1677.88" y="553" width="15.75" height="349.3" fill="url(#h83)"/>
<rect x="1693.03" y="553" width="15.75" height="349.3" fill="url(#h84)"/>
<rect x="1708.18" y="553" width="15.75" height="349.3" fill="url(#h85)"/>
<rect x="1723.33" y="553" width="15.75" height="349.3" fill="url(#h86)"/>
<rect x="1738.48" y="553" width="15.75" height="349.3" fill="url(#h87)"/>
<rect x="1753.62" y="553" width="15.75" height="349.3" fill="url(#h88)"/>
<rect x="1768.78" y="553" width="15.75" height="349.3" fill="url(#h89)"/>
<rect x="1783.92" y="553" width="15.75" height="349.3" fill="url(#h90)"/>
<rect x="1799.08" y="553" width="15.75" height="349.3" fill="url(#h91)"/>
<rect x="1814.23" y="553" width="15.75" height="349.3" fill="url(#h92)"/>
<rect x="1829.38" y="553" width="15.75" height="349.3" fill="url(#h93)"/>
<rect x="1844.53" y="553" width="15.75" height="349.3" fill="url(#h94)"/>
<rect x="1859.67" y="553" width="15.75" height="349.3" fill="url(#h95)"/>
<rect x="1874.83" y="553" width="15.75" height="349.3" fill="url(#h96)"/>
<rect x="1889.97" y="553" width="15.75" height="349.3" fill="url(#h97)"/>
<rect x="1905.12" y="553" width="15.75" height="349.3" fill="url(#h98)"/>
<rect x="1920.28" y="553" width="15.75" height="349.3" fill="url(#h99)"/>
<rect x="1935.42" y="553" width="7.58" height="349.3" fill="url(#h100)"/>
<rect x="1579.4" y="553" width="363.6" height="349.3" fill="url(#nzh)" opacity="1"/>
<rect x="1579.4" y="553" width="363.6" height="349.3" fill="none" stroke="#000" stroke-width="2.3"/>
<path d="M1624.85,553v3.8M1624.85,902.3v-3.8M1670.3,553v3.8M1670.3,902.3v-3.8M1715.75,553v3.8M1715.75,902.3v-3.8M1761.2,553v3.8M1761.2,902.3v-3.8M1806.65,553v3.8M1806.65,902.3v-3.8M1852.1,553v3.8M1852.1,902.3v-3.8M1897.55,553v3.8M1897.55,902.3v-3.8M1579.4,893.8h3.8M1943,893.8h-3.8M1579.4,825.64h3.8M1943,825.64h-3.8M1579.4,757.48h3.8M1943,757.48h-3.8M1579.4,689.32h3.8M1943,689.32h-3.8M1579.4,621.16h3.8M1943,621.16h-3.8" stroke="#000" stroke-width="2" fill="none"/>
<text x="1579.4" y="924.2" font-size="21.6" text-anchor="middle">0</text>
<text x="1624.85" y="924.2" font-size="21.6" text-anchor="middle">45</text>
<text x="1670.3" y="924.2" font-size="21.6" text-anchor="middle">90</text>
<text x="1715.75" y="924.2" font-size="21.6" text-anchor="middle">135</text>
<text x="1761.2" y="924.2" font-size="21.6" text-anchor="middle">180</text>
<text x="1806.65" y="924.2" font-size="21.6" text-anchor="middle">225</text>
<text x="1852.1" y="924.2" font-size="21.6" text-anchor="middle">270</text>
<text x="1897.55" y="924.2" font-size="21.6" text-anchor="middle">315</text>
<text x="1943" y="924.2" font-size="21.6" text-anchor="middle">360</text>
<text x="1574.8" y="900.6" font-size="21.6" text-anchor="end">75</text>
<text x="1574.8" y="832.44" font-size="21.6" text-anchor="end">100</text>
<text x="1574.8" y="764.28" font-size="21.6" text-anchor="end">125</text>
<text x="1574.8" y="696.12" font-size="21.6" text-anchor="end">150</text>
<text x="1574.8" y="627.96" font-size="21.6" text-anchor="end">175</text>
<text x="1574.8" y="559.4" font-size="21.6" text-anchor="end">200</text>
<text x="1761.2" y="960" font-size="22.8" text-anchor="middle">Angle (°)</text>
<text transform="translate(1531,727.5) rotate(-90)" font-size="22.8" text-anchor="middle">Raman Shift (cm<tspan font-size="14.8" dy="-9">-1</tspan><tspan dy="9">)</tspan></text>
<text x="1515.8" y="522.2" font-size="48">h</text>
<text y="584.4" font-size="24.5"><tspan x="1585" y="584.4">EuCd</tspan><tspan x="1649.3" y="590.9" font-size="15.5">2</tspan><tspan x="1658.8" y="584.4">As</tspan><tspan x="1689.8" y="590.9" font-size="15.5">2</tspan><tspan x="1707.3" y="584.4">e</tspan><tspan x="1720.3" y="590.9" font-size="15.5">i</tspan><tspan x="1724.8" y="583.2" font-size="20" font-family="'DejaVu Sans',sans-serif" font-weight="normal" style="stroke-width:0.25px">⊥</tspan><tspan x="1740.8" y="584.4">e</tspan><tspan x="1754.3" y="590.9" font-size="15.5">s</tspan></text>
<text x="1945.5" y="638.5" font-size="23">E</text>
<text x="1961.5" y="628.4" font-size="15">2</text>
<text x="1961.5" y="644.3" font-size="15">g</text>
<rect x="1979.9" y="552.5" width="19.0" height="348.9" fill="url(#cb)" stroke="#4a4a4a" stroke-width="0.8"/>
</svg>
</body></html>
